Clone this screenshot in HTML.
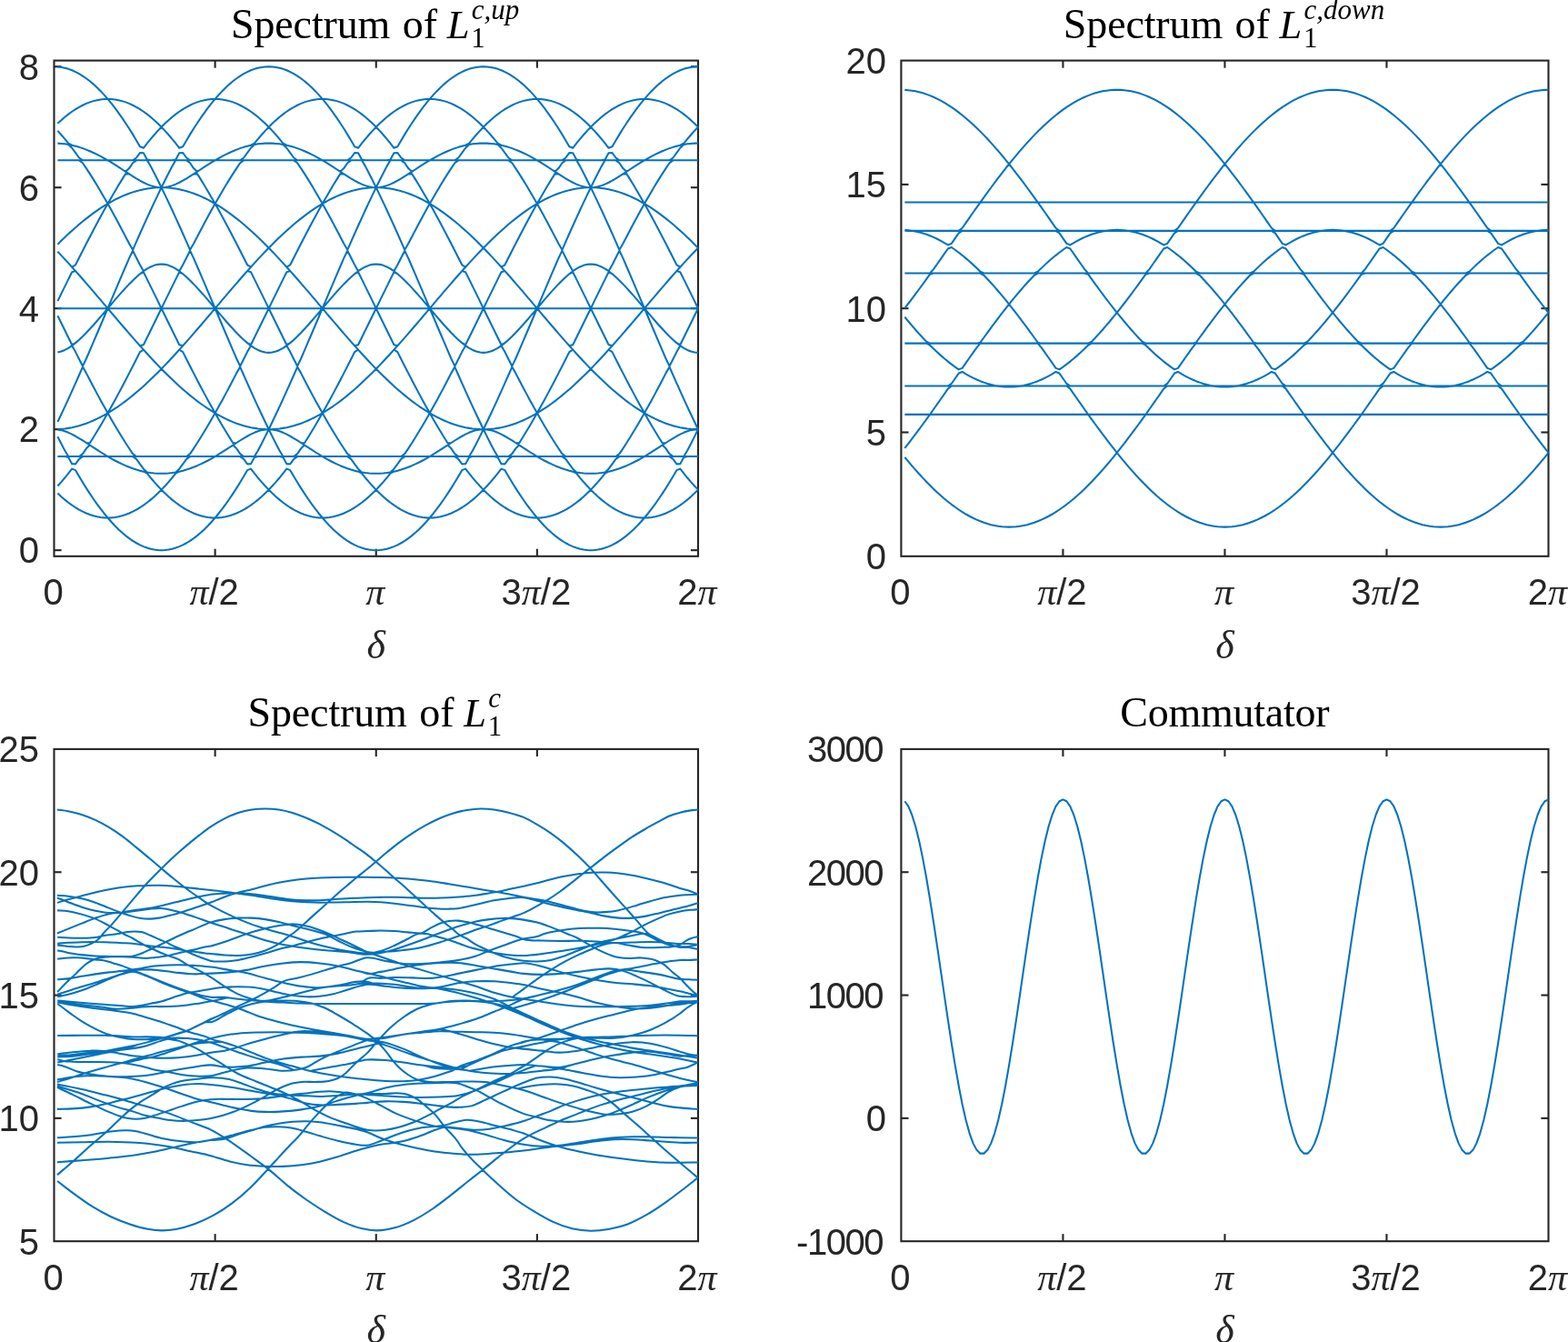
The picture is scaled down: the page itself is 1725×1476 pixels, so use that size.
<!DOCTYPE html>
<html lang="en"><head><meta charset="utf-8"><title>Spectrum</title>
<style>html,body{margin:0;padding:0;background:#fff}svg{display:block}.tk{font-family:"Liberation Sans",Arial,Helvetica,sans-serif;font-size:40px;fill:#262626}.tt{font-family:"Liberation Serif","Times New Roman",serif;fill:#000}.it{font-family:"Liberation Serif","Times New Roman",serif;font-style:italic}</style></head><body>
<svg width="1725" height="1476" viewBox="0 0 1725 1476">
<rect width="1725" height="1476" fill="#fff"/>
<g fill="none" stroke="#262626" stroke-width="2.10" stroke-linecap="square">
<rect x="59.50" y="66.60" width="708.50" height="545.20"/>
</g><g fill="none" stroke="#262626" stroke-width="2.10" stroke-linecap="butt">
<line x1="236.62" y1="611.80" x2="236.62" y2="603.70"/>
<line x1="236.62" y1="66.60" x2="236.62" y2="74.70"/>
<line x1="413.75" y1="611.80" x2="413.75" y2="603.70"/>
<line x1="413.75" y1="66.60" x2="413.75" y2="74.70"/>
<line x1="590.88" y1="611.80" x2="590.88" y2="603.70"/>
<line x1="590.88" y1="66.60" x2="590.88" y2="74.70"/>
<line x1="59.50" y1="605.15" x2="67.60" y2="605.15"/>
<line x1="768.00" y1="605.15" x2="759.90" y2="605.15"/>
<line x1="59.50" y1="472.18" x2="67.60" y2="472.18"/>
<line x1="768.00" y1="472.18" x2="759.90" y2="472.18"/>
<line x1="59.50" y1="339.20" x2="67.60" y2="339.20"/>
<line x1="768.00" y1="339.20" x2="759.90" y2="339.20"/>
<line x1="59.50" y1="206.22" x2="67.60" y2="206.22"/>
<line x1="768.00" y1="206.22" x2="759.90" y2="206.22"/>
<line x1="59.50" y1="73.25" x2="67.60" y2="73.25"/>
<line x1="768.00" y1="73.25" x2="759.90" y2="73.25"/>
</g>
<g fill="none" stroke="#262626" stroke-width="2.10" stroke-linecap="square">
<rect x="991.40" y="66.60" width="712.10" height="545.20"/>
</g><g fill="none" stroke="#262626" stroke-width="2.10" stroke-linecap="butt">
<line x1="1169.42" y1="611.80" x2="1169.42" y2="603.70"/>
<line x1="1169.42" y1="66.60" x2="1169.42" y2="74.70"/>
<line x1="1347.45" y1="611.80" x2="1347.45" y2="603.70"/>
<line x1="1347.45" y1="66.60" x2="1347.45" y2="74.70"/>
<line x1="1525.47" y1="611.80" x2="1525.47" y2="603.70"/>
<line x1="1525.47" y1="66.60" x2="1525.47" y2="74.70"/>
<line x1="991.40" y1="475.50" x2="999.50" y2="475.50"/>
<line x1="1703.50" y1="475.50" x2="1695.40" y2="475.50"/>
<line x1="991.40" y1="339.20" x2="999.50" y2="339.20"/>
<line x1="1703.50" y1="339.20" x2="1695.40" y2="339.20"/>
<line x1="991.40" y1="202.90" x2="999.50" y2="202.90"/>
<line x1="1703.50" y1="202.90" x2="1695.40" y2="202.90"/>
</g>
<g fill="none" stroke="#262626" stroke-width="2.10" stroke-linecap="square">
<rect x="59.50" y="823.90" width="708.50" height="541.30"/>
</g><g fill="none" stroke="#262626" stroke-width="2.10" stroke-linecap="butt">
<line x1="236.62" y1="1365.20" x2="236.62" y2="1357.10"/>
<line x1="236.62" y1="823.90" x2="236.62" y2="832.00"/>
<line x1="413.75" y1="1365.20" x2="413.75" y2="1357.10"/>
<line x1="413.75" y1="823.90" x2="413.75" y2="832.00"/>
<line x1="590.88" y1="1365.20" x2="590.88" y2="1357.10"/>
<line x1="590.88" y1="823.90" x2="590.88" y2="832.00"/>
<line x1="59.50" y1="1229.88" x2="67.60" y2="1229.88"/>
<line x1="768.00" y1="1229.88" x2="759.90" y2="1229.88"/>
<line x1="59.50" y1="1094.55" x2="67.60" y2="1094.55"/>
<line x1="768.00" y1="1094.55" x2="759.90" y2="1094.55"/>
<line x1="59.50" y1="959.23" x2="67.60" y2="959.23"/>
<line x1="768.00" y1="959.23" x2="759.90" y2="959.23"/>
</g>
<g fill="none" stroke="#262626" stroke-width="2.10" stroke-linecap="square">
<rect x="991.40" y="823.90" width="712.10" height="541.30"/>
</g><g fill="none" stroke="#262626" stroke-width="2.10" stroke-linecap="butt">
<line x1="1169.42" y1="1365.20" x2="1169.42" y2="1357.10"/>
<line x1="1169.42" y1="823.90" x2="1169.42" y2="832.00"/>
<line x1="1347.45" y1="1365.20" x2="1347.45" y2="1357.10"/>
<line x1="1347.45" y1="823.90" x2="1347.45" y2="832.00"/>
<line x1="1525.47" y1="1365.20" x2="1525.47" y2="1357.10"/>
<line x1="1525.47" y1="823.90" x2="1525.47" y2="832.00"/>
<line x1="991.40" y1="1229.88" x2="999.50" y2="1229.88"/>
<line x1="1703.50" y1="1229.88" x2="1695.40" y2="1229.88"/>
<line x1="991.40" y1="1094.55" x2="999.50" y2="1094.55"/>
<line x1="1703.50" y1="1094.55" x2="1695.40" y2="1094.55"/>
<line x1="991.40" y1="959.22" x2="999.50" y2="959.22"/>
<line x1="1703.50" y1="959.22" x2="1695.40" y2="959.22"/>
</g>
<path fill="none" stroke="#0072bd" stroke-width="2.05" stroke-linejoin="round" stroke-linecap="butt" d="M63.44 542.56L67.37 546.21L71.31 549.61L75.24 552.75L79.18 555.63L83.12 558.25L87.05 560.60L90.99 562.68L94.92 564.49L98.86 566.02L102.80 567.28L106.73 568.26L110.67 568.96L114.61 569.38L118.54 569.52L122.48 574.02L126.41 578.24L130.35 582.16L134.29 585.79L138.22 589.11L142.16 592.13L146.09 594.85L150.03 597.25L153.97 599.34L157.90 601.11L161.84 602.56L165.77 603.69L169.71 604.50L173.65 604.99L177.58 605.15L181.52 604.99L185.46 604.50L189.39 603.69L193.33 602.56L197.26 601.11L201.20 599.34L205.14 597.25L209.07 594.85L213.01 592.13L216.94 589.11L220.88 585.79L224.82 582.16L228.75 578.24L232.69 574.02L236.62 569.52L240.56 569.38L244.50 568.96L248.43 568.26L252.37 567.28L256.31 566.02L260.24 564.49L264.18 562.68L268.11 560.60L272.05 558.25L275.99 555.63L279.92 552.75L283.86 549.61L287.79 546.21L291.73 542.56L295.67 538.66L299.60 542.56L303.54 546.21L307.48 549.61L311.41 552.75L315.35 555.63L319.28 558.25L323.22 560.60L327.16 562.68L331.09 564.49L335.03 566.02L338.96 567.28L342.90 568.26L346.84 568.96L350.77 569.38L354.71 569.52L358.64 574.02L362.58 578.24L366.52 582.16L370.45 585.79L374.39 589.11L378.32 592.13L382.26 594.85L386.20 597.25L390.13 599.34L394.07 601.11L398.01 602.56L401.94 603.69L405.88 604.50L409.81 604.99L413.75 605.15L417.69 604.99L421.62 604.50L425.56 603.69L429.49 602.56L433.43 601.11L437.37 599.34L441.30 597.25L445.24 594.85L449.18 592.13L453.11 589.11L457.05 585.79L460.98 582.16L464.92 578.24L468.86 574.02L472.79 569.52L476.73 569.38L480.66 568.96L484.60 568.26L488.54 567.28L492.47 566.02L496.41 564.49L500.34 562.68L504.28 560.60L508.22 558.25L512.15 555.63L516.09 552.75L520.03 549.61L523.96 546.21L527.90 542.56L531.83 538.66L535.77 542.56L539.71 546.21L543.64 549.61L547.58 552.75L551.51 555.63L555.45 558.25L559.39 560.60L563.32 562.68L567.26 564.49L571.19 566.02L575.13 567.28L579.07 568.26L583.00 568.96L586.94 569.38L590.88 569.52L594.81 574.02L598.75 578.24L602.68 582.16L606.62 585.79L610.56 589.11L614.49 592.13L618.43 594.85L622.36 597.25L626.30 599.34L630.24 601.11L634.17 602.56L638.11 603.69L642.04 604.50L645.98 604.99L649.92 605.15L653.85 604.99L657.79 604.50L661.73 603.69L665.66 602.56L669.60 601.11L673.53 599.34L677.47 597.25L681.41 594.85L685.34 592.13L689.28 589.11L693.21 585.79L697.15 582.16L701.09 578.24L705.02 574.02L708.96 569.52L712.89 569.38L716.83 568.96L720.77 568.26L724.70 567.28L728.64 566.02L732.58 564.49L736.51 562.68L740.45 560.60L744.38 558.25L748.32 555.63L752.26 552.75L756.19 549.61L760.13 546.21L764.06 542.56L768.00 538.66M63.44 534.52L67.37 530.14L71.31 525.53L75.24 520.70L79.18 515.64L83.12 517.16L87.05 523.95L90.99 530.51L94.92 536.84L98.86 542.93L102.80 548.77L106.73 554.36L110.67 559.68L114.61 564.74L118.54 569.52L122.48 569.38L126.41 568.96L130.35 568.26L134.29 567.28L138.22 566.02L142.16 564.49L146.09 562.68L150.03 560.60L153.97 558.25L157.90 555.63L161.84 552.75L165.77 549.61L169.71 546.21L173.65 542.56L177.58 538.66L181.52 542.56L185.46 546.21L189.39 549.61L193.33 552.75L197.26 555.63L201.20 558.25L205.14 560.60L209.07 562.68L213.01 564.49L216.94 566.02L220.88 567.28L224.82 568.26L228.75 568.96L232.69 569.38L236.62 569.52L240.56 564.74L244.50 559.68L248.43 554.36L252.37 548.77L256.31 542.93L260.24 536.84L264.18 530.51L268.11 523.95L272.05 517.16L275.99 515.64L279.92 520.70L283.86 525.53L287.79 530.14L291.73 534.52L295.67 538.66L299.60 534.52L303.54 530.14L307.48 525.53L311.41 520.70L315.35 515.64L319.28 517.16L323.22 523.95L327.16 530.51L331.09 536.84L335.03 542.93L338.96 548.77L342.90 554.36L346.84 559.68L350.77 564.74L354.71 569.52L358.64 569.38L362.58 568.96L366.52 568.26L370.45 567.28L374.39 566.02L378.32 564.49L382.26 562.68L386.20 560.60L390.13 558.25L394.07 555.63L398.01 552.75L401.94 549.61L405.88 546.21L409.81 542.56L413.75 538.66L417.69 542.56L421.62 546.21L425.56 549.61L429.49 552.75L433.43 555.63L437.37 558.25L441.30 560.60L445.24 562.68L449.18 564.49L453.11 566.02L457.05 567.28L460.98 568.26L464.92 568.96L468.86 569.38L472.79 569.52L476.73 564.74L480.66 559.68L484.60 554.36L488.54 548.77L492.47 542.93L496.41 536.84L500.34 530.51L504.28 523.95L508.22 517.16L512.15 515.64L516.09 520.70L520.03 525.53L523.96 530.14L527.90 534.52L531.83 538.66L535.77 534.52L539.71 530.14L543.64 525.53L547.58 520.70L551.51 515.64L555.45 517.16L559.39 523.95L563.32 530.51L567.26 536.84L571.19 542.93L575.13 548.77L579.07 554.36L583.00 559.68L586.94 564.74L590.88 569.52L594.81 569.38L598.75 568.96L602.68 568.26L606.62 567.28L610.56 566.02L614.49 564.49L618.43 562.68L622.36 560.60L626.30 558.25L630.24 555.63L634.17 552.75L638.11 549.61L642.04 546.21L645.98 542.56L649.92 538.66L653.85 542.56L657.79 546.21L661.73 549.61L665.66 552.75L669.60 555.63L673.53 558.25L677.47 560.60L681.41 562.68L685.34 564.49L689.28 566.02L693.21 567.28L697.15 568.26L701.09 568.96L705.02 569.38L708.96 569.52L712.89 564.74L716.83 559.68L720.77 554.36L724.70 548.77L728.64 542.93L732.58 536.84L736.51 530.51L740.45 523.95L744.38 517.16L748.32 515.64L752.26 520.70L756.19 525.53L760.13 530.14L764.06 534.52L768.00 538.66M63.44 502.06L67.37 502.06L71.31 502.06L75.24 502.94L79.18 510.15L83.12 510.36L87.05 504.88L90.99 502.06L94.92 502.06L98.86 502.06L102.80 502.06L106.73 502.06L110.67 502.06L114.61 502.06L118.54 502.06L122.48 504.33L126.41 506.49L130.35 508.52L134.29 510.42L138.22 512.18L142.16 513.79L146.09 515.25L150.03 516.54L153.97 517.67L157.90 518.64L161.84 520.70L165.77 525.53L169.71 530.14L173.65 534.52L177.58 538.66L181.52 534.52L185.46 530.14L189.39 525.53L193.33 520.70L197.26 518.64L201.20 517.67L205.14 516.54L209.07 515.25L213.01 513.79L216.94 512.18L220.88 510.42L224.82 508.52L228.75 506.49L232.69 504.33L236.62 502.06L240.56 502.06L244.50 502.06L248.43 502.06L252.37 502.06L256.31 502.06L260.24 502.06L264.18 502.06L268.11 504.88L272.05 510.36L275.99 510.15L279.92 502.94L283.86 502.06L287.79 502.06L291.73 502.06L295.67 502.06L299.60 502.06L303.54 502.06L307.48 502.06L311.41 502.94L315.35 510.15L319.28 510.36L323.22 504.88L327.16 502.06L331.09 502.06L335.03 502.06L338.96 502.06L342.90 502.06L346.84 502.06L350.77 502.06L354.71 502.06L358.64 504.33L362.58 506.49L366.52 508.52L370.45 510.42L374.39 512.18L378.32 513.79L382.26 515.25L386.20 516.54L390.13 517.67L394.07 518.64L398.01 520.70L401.94 525.53L405.88 530.14L409.81 534.52L413.75 538.66L417.69 534.52L421.62 530.14L425.56 525.53L429.49 520.70L433.43 518.64L437.37 517.67L441.30 516.54L445.24 515.25L449.18 513.79L453.11 512.18L457.05 510.42L460.98 508.52L464.92 506.49L468.86 504.33L472.79 502.06L476.73 502.06L480.66 502.06L484.60 502.06L488.54 502.06L492.47 502.06L496.41 502.06L500.34 502.06L504.28 504.88L508.22 510.36L512.15 510.15L516.09 502.94L520.03 502.06L523.96 502.06L527.90 502.06L531.83 502.06L535.77 502.06L539.71 502.06L543.64 502.06L547.58 502.94L551.51 510.15L555.45 510.36L559.39 504.88L563.32 502.06L567.26 502.06L571.19 502.06L575.13 502.06L579.07 502.06L583.00 502.06L586.94 502.06L590.88 502.06L594.81 504.33L598.75 506.49L602.68 508.52L606.62 510.42L610.56 512.18L614.49 513.79L618.43 515.25L622.36 516.54L626.30 517.67L630.24 518.64L634.17 520.70L638.11 525.53L642.04 530.14L645.98 534.52L649.92 538.66L653.85 534.52L657.79 530.14L661.73 525.53L665.66 520.70L669.60 518.64L673.53 517.67L677.47 516.54L681.41 515.25L685.34 513.79L689.28 512.18L693.21 510.42L697.15 508.52L701.09 506.49L705.02 504.33L708.96 502.06L712.89 502.06L716.83 502.06L720.77 502.06L724.70 502.06L728.64 502.06L732.58 502.06L736.51 502.06L740.45 504.88L744.38 510.36L748.32 510.15L752.26 502.94L756.19 502.06L760.13 502.06L764.06 502.06L768.00 502.06M63.44 502.06L67.37 502.06L71.31 502.06L75.24 502.06L79.18 502.06L83.12 502.06L87.05 502.06L90.99 502.06L94.92 502.06L98.86 502.06L102.80 502.06L106.73 502.06L110.67 502.06L114.61 502.06L118.54 502.06L122.48 504.33L126.41 506.49L130.35 508.52L134.29 510.42L138.22 512.18L142.16 513.79L146.09 515.25L150.03 516.54L153.97 517.67L157.90 518.64L161.84 519.43L165.77 520.05L169.71 520.49L173.65 520.76L177.58 520.85L181.52 520.76L185.46 520.49L189.39 520.05L193.33 519.43L197.26 518.64L201.20 517.67L205.14 516.54L209.07 515.25L213.01 513.79L216.94 512.18L220.88 510.42L224.82 508.52L228.75 506.49L232.69 504.33L236.62 502.06L240.56 502.06L244.50 502.06L248.43 502.06L252.37 502.06L256.31 502.06L260.24 502.06L264.18 502.06L268.11 502.06L272.05 502.06L275.99 502.06L279.92 502.06L283.86 502.06L287.79 502.06L291.73 502.06L295.67 502.06L299.60 502.06L303.54 502.06L307.48 502.06L311.41 502.06L315.35 502.06L319.28 502.06L323.22 502.06L327.16 502.06L331.09 502.06L335.03 502.06L338.96 502.06L342.90 502.06L346.84 502.06L350.77 502.06L354.71 502.06L358.64 504.33L362.58 506.49L366.52 508.52L370.45 510.42L374.39 512.18L378.32 513.79L382.26 515.25L386.20 516.54L390.13 517.67L394.07 518.64L398.01 519.43L401.94 520.05L405.88 520.49L409.81 520.76L413.75 520.85L417.69 520.76L421.62 520.49L425.56 520.05L429.49 519.43L433.43 518.64L437.37 517.67L441.30 516.54L445.24 515.25L449.18 513.79L453.11 512.18L457.05 510.42L460.98 508.52L464.92 506.49L468.86 504.33L472.79 502.06L476.73 502.06L480.66 502.06L484.60 502.06L488.54 502.06L492.47 502.06L496.41 502.06L500.34 502.06L504.28 502.06L508.22 502.06L512.15 502.06L516.09 502.06L520.03 502.06L523.96 502.06L527.90 502.06L531.83 502.06L535.77 502.06L539.71 502.06L543.64 502.06L547.58 502.06L551.51 502.06L555.45 502.06L559.39 502.06L563.32 502.06L567.26 502.06L571.19 502.06L575.13 502.06L579.07 502.06L583.00 502.06L586.94 502.06L590.88 502.06L594.81 504.33L598.75 506.49L602.68 508.52L606.62 510.42L610.56 512.18L614.49 513.79L618.43 515.25L622.36 516.54L626.30 517.67L630.24 518.64L634.17 519.43L638.11 520.05L642.04 520.49L645.98 520.76L649.92 520.85L653.85 520.76L657.79 520.49L661.73 520.05L665.66 519.43L669.60 518.64L673.53 517.67L677.47 516.54L681.41 515.25L685.34 513.79L689.28 512.18L693.21 510.42L697.15 508.52L701.09 506.49L705.02 504.33L708.96 502.06L712.89 502.06L716.83 502.06L720.77 502.06L724.70 502.06L728.64 502.06L732.58 502.06L736.51 502.06L740.45 502.06L744.38 502.06L748.32 502.06L752.26 502.06L756.19 502.06L760.13 502.06L764.06 502.06L768.00 502.06M63.44 480.13L67.37 487.92L71.31 495.52L75.24 502.06L79.18 502.06L83.12 502.06L87.05 502.06L90.99 499.19L94.92 493.31L98.86 489.58L102.80 492.16L106.73 494.72L110.67 497.24L114.61 499.69L118.54 502.06L122.48 502.06L126.41 502.06L130.35 502.06L134.29 502.06L138.22 502.06L142.16 502.06L146.09 502.06L150.03 504.88L153.97 510.36L157.90 515.64L161.84 519.43L165.77 520.05L169.71 520.49L173.65 520.76L177.58 520.85L181.52 520.76L185.46 520.49L189.39 520.05L193.33 519.43L197.26 515.64L201.20 510.36L205.14 504.88L209.07 502.06L213.01 502.06L216.94 502.06L220.88 502.06L224.82 502.06L228.75 502.06L232.69 502.06L236.62 502.06L240.56 499.69L244.50 497.24L248.43 494.72L252.37 492.16L256.31 489.58L260.24 493.31L264.18 499.19L268.11 502.06L272.05 502.06L275.99 502.06L279.92 502.06L283.86 495.52L287.79 487.92L291.73 480.13L295.67 472.18L299.60 480.13L303.54 487.92L307.48 495.52L311.41 502.06L315.35 502.06L319.28 502.06L323.22 502.06L327.16 499.19L331.09 493.31L335.03 489.58L338.96 492.16L342.90 494.72L346.84 497.24L350.77 499.69L354.71 502.06L358.64 502.06L362.58 502.06L366.52 502.06L370.45 502.06L374.39 502.06L378.32 502.06L382.26 502.06L386.20 504.88L390.13 510.36L394.07 515.64L398.01 519.43L401.94 520.05L405.88 520.49L409.81 520.76L413.75 520.85L417.69 520.76L421.62 520.49L425.56 520.05L429.49 519.43L433.43 515.64L437.37 510.36L441.30 504.88L445.24 502.06L449.18 502.06L453.11 502.06L457.05 502.06L460.98 502.06L464.92 502.06L468.86 502.06L472.79 502.06L476.73 499.69L480.66 497.24L484.60 494.72L488.54 492.16L492.47 489.58L496.41 493.31L500.34 499.19L504.28 502.06L508.22 502.06L512.15 502.06L516.09 502.06L520.03 495.52L523.96 487.92L527.90 480.13L531.83 472.18L535.77 480.13L539.71 487.92L543.64 495.52L547.58 502.06L551.51 502.06L555.45 502.06L559.39 502.06L563.32 499.19L567.26 493.31L571.19 489.58L575.13 492.16L579.07 494.72L583.00 497.24L586.94 499.69L590.88 502.06L594.81 502.06L598.75 502.06L602.68 502.06L606.62 502.06L610.56 502.06L614.49 502.06L618.43 502.06L622.36 504.88L626.30 510.36L630.24 515.64L634.17 519.43L638.11 520.05L642.04 520.49L645.98 520.76L649.92 520.85L653.85 520.76L657.79 520.49L661.73 520.05L665.66 519.43L669.60 515.64L673.53 510.36L677.47 504.88L681.41 502.06L685.34 502.06L689.28 502.06L693.21 502.06L697.15 502.06L701.09 502.06L705.02 502.06L708.96 502.06L712.89 499.69L716.83 497.24L720.77 494.72L724.70 492.16L728.64 489.58L732.58 493.31L736.51 499.19L740.45 502.06L744.38 502.06L748.32 502.06L752.26 502.06L756.19 495.52L760.13 487.92L764.06 480.13L768.00 472.18M63.44 472.42L67.37 473.13L71.31 474.28L75.24 475.81L79.18 477.66L83.12 479.76L87.05 482.06L90.99 484.49L94.92 487.01L98.86 489.58L102.80 492.16L106.73 494.72L110.67 497.24L114.61 499.69L118.54 502.06L122.48 502.06L126.41 502.06L130.35 502.06L134.29 502.06L138.22 502.06L142.16 502.06L146.09 502.06L150.03 502.06L153.97 502.06L157.90 502.06L161.84 502.06L165.77 502.06L169.71 502.06L173.65 502.06L177.58 502.06L181.52 502.06L185.46 502.06L189.39 502.06L193.33 502.06L197.26 502.06L201.20 502.06L205.14 502.06L209.07 502.06L213.01 502.06L216.94 502.06L220.88 502.06L224.82 502.06L228.75 502.06L232.69 502.06L236.62 502.06L240.56 499.69L244.50 497.24L248.43 494.72L252.37 492.16L256.31 489.58L260.24 487.01L264.18 484.49L268.11 482.06L272.05 479.76L275.99 477.66L279.92 475.81L283.86 474.28L287.79 473.13L291.73 472.42L295.67 472.18L299.60 472.42L303.54 473.13L307.48 474.28L311.41 475.81L315.35 477.66L319.28 479.76L323.22 482.06L327.16 484.49L331.09 487.01L335.03 489.58L338.96 492.16L342.90 494.72L346.84 497.24L350.77 499.69L354.71 502.06L358.64 502.06L362.58 502.06L366.52 502.06L370.45 502.06L374.39 502.06L378.32 502.06L382.26 502.06L386.20 502.06L390.13 502.06L394.07 502.06L398.01 502.06L401.94 502.06L405.88 502.06L409.81 502.06L413.75 502.06L417.69 502.06L421.62 502.06L425.56 502.06L429.49 502.06L433.43 502.06L437.37 502.06L441.30 502.06L445.24 502.06L449.18 502.06L453.11 502.06L457.05 502.06L460.98 502.06L464.92 502.06L468.86 502.06L472.79 502.06L476.73 499.69L480.66 497.24L484.60 494.72L488.54 492.16L492.47 489.58L496.41 487.01L500.34 484.49L504.28 482.06L508.22 479.76L512.15 477.66L516.09 475.81L520.03 474.28L523.96 473.13L527.90 472.42L531.83 472.18L535.77 472.42L539.71 473.13L543.64 474.28L547.58 475.81L551.51 477.66L555.45 479.76L559.39 482.06L563.32 484.49L567.26 487.01L571.19 489.58L575.13 492.16L579.07 494.72L583.00 497.24L586.94 499.69L590.88 502.06L594.81 502.06L598.75 502.06L602.68 502.06L606.62 502.06L610.56 502.06L614.49 502.06L618.43 502.06L622.36 502.06L626.30 502.06L630.24 502.06L634.17 502.06L638.11 502.06L642.04 502.06L645.98 502.06L649.92 502.06L653.85 502.06L657.79 502.06L661.73 502.06L665.66 502.06L669.60 502.06L673.53 502.06L677.47 502.06L681.41 502.06L685.34 502.06L689.28 502.06L693.21 502.06L697.15 502.06L701.09 502.06L705.02 502.06L708.96 502.06L712.89 499.69L716.83 497.24L720.77 494.72L724.70 492.16L728.64 489.58L732.58 487.01L736.51 484.49L740.45 482.06L744.38 479.76L748.32 477.66L752.26 475.81L756.19 474.28L760.13 473.13L764.06 472.42L768.00 472.18M63.44 472.42L67.37 473.13L71.31 474.28L75.24 475.81L79.18 477.66L83.12 479.76L87.05 482.06L90.99 484.49L94.92 487.01L98.86 487.25L102.80 481.00L106.73 474.58L110.67 467.99L114.61 461.25L118.54 454.36L122.48 461.25L126.41 467.99L130.35 474.58L134.29 481.00L138.22 487.25L142.16 493.31L146.09 499.19L150.03 502.06L153.97 502.06L157.90 502.06L161.84 502.06L165.77 502.06L169.71 502.06L173.65 502.06L177.58 502.06L181.52 502.06L185.46 502.06L189.39 502.06L193.33 502.06L197.26 502.06L201.20 502.06L205.14 502.06L209.07 499.19L213.01 493.31L216.94 487.25L220.88 481.00L224.82 474.58L228.75 467.99L232.69 461.25L236.62 454.36L240.56 461.25L244.50 467.99L248.43 474.58L252.37 481.00L256.31 487.25L260.24 487.01L264.18 484.49L268.11 482.06L272.05 479.76L275.99 477.66L279.92 475.81L283.86 474.28L287.79 473.13L291.73 472.42L295.67 472.18L299.60 472.42L303.54 473.13L307.48 474.28L311.41 475.81L315.35 477.66L319.28 479.76L323.22 482.06L327.16 484.49L331.09 487.01L335.03 487.25L338.96 481.00L342.90 474.58L346.84 467.99L350.77 461.25L354.71 454.36L358.64 461.25L362.58 467.99L366.52 474.58L370.45 481.00L374.39 487.25L378.32 493.31L382.26 499.19L386.20 502.06L390.13 502.06L394.07 502.06L398.01 502.06L401.94 502.06L405.88 502.06L409.81 502.06L413.75 502.06L417.69 502.06L421.62 502.06L425.56 502.06L429.49 502.06L433.43 502.06L437.37 502.06L441.30 502.06L445.24 499.19L449.18 493.31L453.11 487.25L457.05 481.00L460.98 474.58L464.92 467.99L468.86 461.25L472.79 454.36L476.73 461.25L480.66 467.99L484.60 474.58L488.54 481.00L492.47 487.25L496.41 487.01L500.34 484.49L504.28 482.06L508.22 479.76L512.15 477.66L516.09 475.81L520.03 474.28L523.96 473.13L527.90 472.42L531.83 472.18L535.77 472.42L539.71 473.13L543.64 474.28L547.58 475.81L551.51 477.66L555.45 479.76L559.39 482.06L563.32 484.49L567.26 487.01L571.19 487.25L575.13 481.00L579.07 474.58L583.00 467.99L586.94 461.25L590.88 454.36L594.81 461.25L598.75 467.99L602.68 474.58L606.62 481.00L610.56 487.25L614.49 493.31L618.43 499.19L622.36 502.06L626.30 502.06L630.24 502.06L634.17 502.06L638.11 502.06L642.04 502.06L645.98 502.06L649.92 502.06L653.85 502.06L657.79 502.06L661.73 502.06L665.66 502.06L669.60 502.06L673.53 502.06L677.47 502.06L681.41 499.19L685.34 493.31L689.28 487.25L693.21 481.00L697.15 474.58L701.09 467.99L705.02 461.25L708.96 454.36L712.89 461.25L716.83 467.99L720.77 474.58L724.70 481.00L728.64 487.25L732.58 487.01L736.51 484.49L740.45 482.06L744.38 479.76L748.32 477.66L752.26 475.81L756.19 474.28L760.13 473.13L764.06 472.42L768.00 472.18M63.44 472.09L67.37 471.85L71.31 471.45L75.24 470.88L79.18 470.16L83.12 469.27L87.05 468.23L90.99 467.02L94.92 465.67L98.86 464.16L102.80 462.49L106.73 460.68L110.67 458.72L114.61 456.61L118.54 454.36L122.48 451.97L126.41 449.44L130.35 446.78L134.29 443.99L138.22 441.07L142.16 438.02L146.09 434.85L150.03 431.57L153.97 428.18L157.90 424.68L161.84 421.07L165.77 417.36L169.71 413.56L173.65 409.67L177.58 405.69L181.52 409.67L185.46 413.56L189.39 417.36L193.33 421.07L197.26 424.68L201.20 428.18L205.14 431.57L209.07 434.85L213.01 438.02L216.94 441.07L220.88 443.99L224.82 446.78L228.75 449.44L232.69 451.97L236.62 454.36L240.56 456.61L244.50 458.72L248.43 460.68L252.37 462.49L256.31 464.16L260.24 465.67L264.18 467.02L268.11 468.23L272.05 469.27L275.99 470.16L279.92 470.88L283.86 471.45L287.79 471.85L291.73 472.09L295.67 472.18L299.60 472.09L303.54 471.85L307.48 471.45L311.41 470.88L315.35 470.16L319.28 469.27L323.22 468.23L327.16 467.02L331.09 465.67L335.03 464.16L338.96 462.49L342.90 460.68L346.84 458.72L350.77 456.61L354.71 454.36L358.64 451.97L362.58 449.44L366.52 446.78L370.45 443.99L374.39 441.07L378.32 438.02L382.26 434.85L386.20 431.57L390.13 428.18L394.07 424.68L398.01 421.07L401.94 417.36L405.88 413.56L409.81 409.67L413.75 405.69L417.69 409.67L421.62 413.56L425.56 417.36L429.49 421.07L433.43 424.68L437.37 428.18L441.30 431.57L445.24 434.85L449.18 438.02L453.11 441.07L457.05 443.99L460.98 446.78L464.92 449.44L468.86 451.97L472.79 454.36L476.73 456.61L480.66 458.72L484.60 460.68L488.54 462.49L492.47 464.16L496.41 465.67L500.34 467.02L504.28 468.23L508.22 469.27L512.15 470.16L516.09 470.88L520.03 471.45L523.96 471.85L527.90 472.09L531.83 472.18L535.77 472.09L539.71 471.85L543.64 471.45L547.58 470.88L551.51 470.16L555.45 469.27L559.39 468.23L563.32 467.02L567.26 465.67L571.19 464.16L575.13 462.49L579.07 460.68L583.00 458.72L586.94 456.61L590.88 454.36L594.81 451.97L598.75 449.44L602.68 446.78L606.62 443.99L610.56 441.07L614.49 438.02L618.43 434.85L622.36 431.57L626.30 428.18L630.24 424.68L634.17 421.07L638.11 417.36L642.04 413.56L645.98 409.67L649.92 405.69L653.85 409.67L657.79 413.56L661.73 417.36L665.66 421.07L669.60 424.68L673.53 428.18L677.47 431.57L681.41 434.85L685.34 438.02L689.28 441.07L693.21 443.99L697.15 446.78L701.09 449.44L705.02 451.97L708.96 454.36L712.89 456.61L716.83 458.72L720.77 460.68L724.70 462.49L728.64 464.16L732.58 465.67L736.51 467.02L740.45 468.23L744.38 469.27L748.32 470.16L752.26 470.88L756.19 471.45L760.13 471.85L764.06 472.09L768.00 472.18M63.44 472.09L67.37 471.85L71.31 471.45L75.24 470.88L79.18 470.16L83.12 469.27L87.05 468.23L90.99 467.02L94.92 465.67L98.86 464.16L102.80 462.49L106.73 460.68L110.67 458.72L114.61 456.61L118.54 454.36L122.48 451.97L126.41 449.44L130.35 446.78L134.29 443.99L138.22 441.07L142.16 438.02L146.09 434.85L150.03 431.57L153.97 428.18L157.90 424.68L161.84 421.07L165.77 417.36L169.71 413.56L173.65 409.67L177.58 405.69L181.52 409.67L185.46 413.56L189.39 417.36L193.33 421.07L197.26 424.68L201.20 428.18L205.14 431.57L209.07 434.85L213.01 438.02L216.94 441.07L220.88 443.99L224.82 446.78L228.75 449.44L232.69 451.97L236.62 454.36L240.56 456.61L244.50 458.72L248.43 460.68L252.37 462.49L256.31 464.16L260.24 465.67L264.18 467.02L268.11 468.23L272.05 469.27L275.99 470.16L279.92 470.88L283.86 471.45L287.79 471.85L291.73 472.09L295.67 472.18L299.60 472.09L303.54 471.85L307.48 471.45L311.41 470.88L315.35 470.16L319.28 469.27L323.22 468.23L327.16 467.02L331.09 465.67L335.03 464.16L338.96 462.49L342.90 460.68L346.84 458.72L350.77 456.61L354.71 454.36L358.64 451.97L362.58 449.44L366.52 446.78L370.45 443.99L374.39 441.07L378.32 438.02L382.26 434.85L386.20 431.57L390.13 428.18L394.07 424.68L398.01 421.07L401.94 417.36L405.88 413.56L409.81 409.67L413.75 405.69L417.69 409.67L421.62 413.56L425.56 417.36L429.49 421.07L433.43 424.68L437.37 428.18L441.30 431.57L445.24 434.85L449.18 438.02L453.11 441.07L457.05 443.99L460.98 446.78L464.92 449.44L468.86 451.97L472.79 454.36L476.73 456.61L480.66 458.72L484.60 460.68L488.54 462.49L492.47 464.16L496.41 465.67L500.34 467.02L504.28 468.23L508.22 469.27L512.15 470.16L516.09 470.88L520.03 471.45L523.96 471.85L527.90 472.09L531.83 472.18L535.77 472.09L539.71 471.85L543.64 471.45L547.58 470.88L551.51 470.16L555.45 469.27L559.39 468.23L563.32 467.02L567.26 465.67L571.19 464.16L575.13 462.49L579.07 460.68L583.00 458.72L586.94 456.61L590.88 454.36L594.81 451.97L598.75 449.44L602.68 446.78L606.62 443.99L610.56 441.07L614.49 438.02L618.43 434.85L622.36 431.57L626.30 428.18L630.24 424.68L634.17 421.07L638.11 417.36L642.04 413.56L645.98 409.67L649.92 405.69L653.85 409.67L657.79 413.56L661.73 417.36L665.66 421.07L669.60 424.68L673.53 428.18L677.47 431.57L681.41 434.85L685.34 438.02L689.28 441.07L693.21 443.99L697.15 446.78L701.09 449.44L705.02 451.97L708.96 454.36L712.89 456.61L716.83 458.72L720.77 460.68L724.70 462.49L728.64 464.16L732.58 465.67L736.51 467.02L740.45 468.23L744.38 469.27L748.32 470.16L752.26 470.88L756.19 471.45L760.13 471.85L764.06 472.09L768.00 472.18M63.44 464.06L67.37 455.79L71.31 447.37L75.24 438.83L79.18 430.16L83.12 421.38L87.05 412.51L90.99 403.54L94.92 410.37L98.86 417.97L102.80 425.48L106.73 432.88L110.67 440.17L114.61 447.33L118.54 454.36L122.48 447.33L126.41 440.17L130.35 432.88L134.29 425.48L138.22 417.97L142.16 410.37L146.09 402.68L150.03 394.92L153.97 387.09L157.90 384.68L161.84 389.01L165.77 393.29L169.71 397.49L173.65 401.63L177.58 405.69L181.52 401.63L185.46 397.49L189.39 393.29L193.33 389.01L197.26 384.68L201.20 387.09L205.14 394.92L209.07 402.68L213.01 410.37L216.94 417.97L220.88 425.48L224.82 432.88L228.75 440.17L232.69 447.33L236.62 454.36L240.56 447.33L244.50 440.17L248.43 432.88L252.37 425.48L256.31 417.97L260.24 410.37L264.18 403.54L268.11 412.51L272.05 421.38L275.99 430.16L279.92 438.83L283.86 447.37L287.79 455.79L291.73 464.06L295.67 472.18L299.60 464.06L303.54 455.79L307.48 447.37L311.41 438.83L315.35 430.16L319.28 421.38L323.22 412.51L327.16 403.54L331.09 410.37L335.03 417.97L338.96 425.48L342.90 432.88L346.84 440.17L350.77 447.33L354.71 454.36L358.64 447.33L362.58 440.17L366.52 432.88L370.45 425.48L374.39 417.97L378.32 410.37L382.26 402.68L386.20 394.92L390.13 387.09L394.07 384.68L398.01 389.01L401.94 393.29L405.88 397.49L409.81 401.63L413.75 405.69L417.69 401.63L421.62 397.49L425.56 393.29L429.49 389.01L433.43 384.68L437.37 387.09L441.30 394.92L445.24 402.68L449.18 410.37L453.11 417.97L457.05 425.48L460.98 432.88L464.92 440.17L468.86 447.33L472.79 454.36L476.73 447.33L480.66 440.17L484.60 432.88L488.54 425.48L492.47 417.97L496.41 410.37L500.34 403.54L504.28 412.51L508.22 421.38L512.15 430.16L516.09 438.83L520.03 447.37L523.96 455.79L527.90 464.06L531.83 472.18L535.77 464.06L539.71 455.79L543.64 447.37L547.58 438.83L551.51 430.16L555.45 421.38L559.39 412.51L563.32 403.54L567.26 410.37L571.19 417.97L575.13 425.48L579.07 432.88L583.00 440.17L586.94 447.33L590.88 454.36L594.81 447.33L598.75 440.17L602.68 432.88L606.62 425.48L610.56 417.97L614.49 410.37L618.43 402.68L622.36 394.92L626.30 387.09L630.24 384.68L634.17 389.01L638.11 393.29L642.04 397.49L645.98 401.63L649.92 405.69L653.85 401.63L657.79 397.49L661.73 393.29L665.66 389.01L669.60 384.68L673.53 387.09L677.47 394.92L681.41 402.68L685.34 410.37L689.28 417.97L693.21 425.48L697.15 432.88L701.09 440.17L705.02 447.33L708.96 454.36L712.89 447.33L716.83 440.17L720.77 432.88L724.70 425.48L728.64 417.97L732.58 410.37L736.51 403.54L740.45 412.51L744.38 421.38L748.32 430.16L752.26 438.83L756.19 447.37L760.13 455.79L764.06 464.06L768.00 472.18M63.44 387.54L67.37 386.56L71.31 384.97L75.24 382.82L79.18 380.18L83.12 387.09L87.05 394.92L90.99 402.68L94.92 394.49L98.86 385.38L102.80 376.21L106.73 367.00L110.67 357.75L114.61 348.48L118.54 339.20L122.48 343.84L126.41 348.48L130.35 353.10L134.29 357.71L138.22 362.29L142.16 366.85L146.09 371.37L150.03 375.85L153.97 380.29L157.90 384.68L161.84 389.01L165.77 393.29L169.71 397.49L173.65 401.63L177.58 405.69L181.52 401.63L185.46 397.49L189.39 393.29L193.33 389.01L197.26 384.68L201.20 380.29L205.14 375.85L209.07 371.37L213.01 366.85L216.94 362.29L220.88 357.71L224.82 353.10L228.75 348.48L232.69 343.84L236.62 339.20L240.56 348.48L244.50 357.75L248.43 367.00L252.37 376.21L256.31 385.38L260.24 394.49L264.18 402.68L268.11 394.92L272.05 387.09L275.99 380.18L279.92 382.82L283.86 384.97L287.79 386.56L291.73 387.54L295.67 387.87L299.60 387.54L303.54 386.56L307.48 384.97L311.41 382.82L315.35 380.18L319.28 387.09L323.22 394.92L327.16 402.68L331.09 394.49L335.03 385.38L338.96 376.21L342.90 367.00L346.84 357.75L350.77 348.48L354.71 339.20L358.64 343.84L362.58 348.48L366.52 353.10L370.45 357.71L374.39 362.29L378.32 366.85L382.26 371.37L386.20 375.85L390.13 380.29L394.07 384.68L398.01 389.01L401.94 393.29L405.88 397.49L409.81 401.63L413.75 405.69L417.69 401.63L421.62 397.49L425.56 393.29L429.49 389.01L433.43 384.68L437.37 380.29L441.30 375.85L445.24 371.37L449.18 366.85L453.11 362.29L457.05 357.71L460.98 353.10L464.92 348.48L468.86 343.84L472.79 339.20L476.73 348.48L480.66 357.75L484.60 367.00L488.54 376.21L492.47 385.38L496.41 394.49L500.34 402.68L504.28 394.92L508.22 387.09L512.15 380.18L516.09 382.82L520.03 384.97L523.96 386.56L527.90 387.54L531.83 387.87L535.77 387.54L539.71 386.56L543.64 384.97L547.58 382.82L551.51 380.18L555.45 387.09L559.39 394.92L563.32 402.68L567.26 394.49L571.19 385.38L575.13 376.21L579.07 367.00L583.00 357.75L586.94 348.48L590.88 339.20L594.81 343.84L598.75 348.48L602.68 353.10L606.62 357.71L610.56 362.29L614.49 366.85L618.43 371.37L622.36 375.85L626.30 380.29L630.24 384.68L634.17 389.01L638.11 393.29L642.04 397.49L645.98 401.63L649.92 405.69L653.85 401.63L657.79 397.49L661.73 393.29L665.66 389.01L669.60 384.68L673.53 380.29L677.47 375.85L681.41 371.37L685.34 366.85L689.28 362.29L693.21 357.71L697.15 353.10L701.09 348.48L705.02 343.84L708.96 339.20L712.89 348.48L716.83 357.75L720.77 367.00L724.70 376.21L728.64 385.38L732.58 394.49L736.51 402.68L740.45 394.92L744.38 387.09L748.32 380.18L752.26 382.82L756.19 384.97L760.13 386.56L764.06 387.54L768.00 387.87M63.44 387.54L67.37 386.56L71.31 384.97L75.24 382.82L79.18 380.18L83.12 377.11L87.05 373.69L90.99 369.96L94.92 365.98L98.86 361.80L102.80 357.46L106.73 353.00L110.67 348.45L114.61 343.84L118.54 339.20L122.48 343.84L126.41 348.48L130.35 353.10L134.29 357.71L138.22 362.29L142.16 366.85L146.09 371.37L150.03 375.85L153.97 380.29L157.90 379.19L161.84 371.25L165.77 363.28L169.71 355.27L173.65 347.24L177.58 339.20L181.52 347.24L185.46 355.27L189.39 363.28L193.33 371.25L197.26 379.19L201.20 380.29L205.14 375.85L209.07 371.37L213.01 366.85L216.94 362.29L220.88 357.71L224.82 353.10L228.75 348.48L232.69 343.84L236.62 339.20L240.56 343.84L244.50 348.45L248.43 353.00L252.37 357.46L256.31 361.80L260.24 365.98L264.18 369.96L268.11 373.69L272.05 377.11L275.99 380.18L279.92 382.82L283.86 384.97L287.79 386.56L291.73 387.54L295.67 387.87L299.60 387.54L303.54 386.56L307.48 384.97L311.41 382.82L315.35 380.18L319.28 377.11L323.22 373.69L327.16 369.96L331.09 365.98L335.03 361.80L338.96 357.46L342.90 353.00L346.84 348.45L350.77 343.84L354.71 339.20L358.64 343.84L362.58 348.48L366.52 353.10L370.45 357.71L374.39 362.29L378.32 366.85L382.26 371.37L386.20 375.85L390.13 380.29L394.07 379.19L398.01 371.25L401.94 363.28L405.88 355.27L409.81 347.24L413.75 339.20L417.69 347.24L421.62 355.27L425.56 363.28L429.49 371.25L433.43 379.19L437.37 380.29L441.30 375.85L445.24 371.37L449.18 366.85L453.11 362.29L457.05 357.71L460.98 353.10L464.92 348.48L468.86 343.84L472.79 339.20L476.73 343.84L480.66 348.45L484.60 353.00L488.54 357.46L492.47 361.80L496.41 365.98L500.34 369.96L504.28 373.69L508.22 377.11L512.15 380.18L516.09 382.82L520.03 384.97L523.96 386.56L527.90 387.54L531.83 387.87L535.77 387.54L539.71 386.56L543.64 384.97L547.58 382.82L551.51 380.18L555.45 377.11L559.39 373.69L563.32 369.96L567.26 365.98L571.19 361.80L575.13 357.46L579.07 353.00L583.00 348.45L586.94 343.84L590.88 339.20L594.81 343.84L598.75 348.48L602.68 353.10L606.62 357.71L610.56 362.29L614.49 366.85L618.43 371.37L622.36 375.85L626.30 380.29L630.24 379.19L634.17 371.25L638.11 363.28L642.04 355.27L645.98 347.24L649.92 339.20L653.85 347.24L657.79 355.27L661.73 363.28L665.66 371.25L669.60 379.19L673.53 380.29L677.47 375.85L681.41 371.37L685.34 366.85L689.28 362.29L693.21 357.71L697.15 353.10L701.09 348.48L705.02 343.84L708.96 339.20L712.89 343.84L716.83 348.45L720.77 353.00L724.70 357.46L728.64 361.80L732.58 365.98L736.51 369.96L740.45 373.69L744.38 377.11L748.32 380.18L752.26 382.82L756.19 384.97L760.13 386.56L764.06 387.54L768.00 387.87M63.44 347.24L67.37 355.27L71.31 363.28L75.24 371.25L79.18 379.19L83.12 377.11L87.05 373.69L90.99 369.96L94.92 365.98L98.86 361.80L102.80 357.46L106.73 353.00L110.67 348.45L114.61 343.84L118.54 339.20L122.48 339.20L126.41 339.20L130.35 339.20L134.29 339.20L138.22 339.20L142.16 339.20L146.09 339.20L150.03 339.20L153.97 339.20L157.90 339.20L161.84 339.20L165.77 339.20L169.71 339.20L173.65 339.20L177.58 339.20L181.52 339.20L185.46 339.20L189.39 339.20L193.33 339.20L197.26 339.20L201.20 339.20L205.14 339.20L209.07 339.20L213.01 339.20L216.94 339.20L220.88 339.20L224.82 339.20L228.75 339.20L232.69 339.20L236.62 339.20L240.56 343.84L244.50 348.45L248.43 353.00L252.37 357.46L256.31 361.80L260.24 365.98L264.18 369.96L268.11 373.69L272.05 377.11L275.99 379.19L279.92 371.25L283.86 363.28L287.79 355.27L291.73 347.24L295.67 339.20L299.60 347.24L303.54 355.27L307.48 363.28L311.41 371.25L315.35 379.19L319.28 377.11L323.22 373.69L327.16 369.96L331.09 365.98L335.03 361.80L338.96 357.46L342.90 353.00L346.84 348.45L350.77 343.84L354.71 339.20L358.64 339.20L362.58 339.20L366.52 339.20L370.45 339.20L374.39 339.20L378.32 339.20L382.26 339.20L386.20 339.20L390.13 339.20L394.07 339.20L398.01 339.20L401.94 339.20L405.88 339.20L409.81 339.20L413.75 339.20L417.69 339.20L421.62 339.20L425.56 339.20L429.49 339.20L433.43 339.20L437.37 339.20L441.30 339.20L445.24 339.20L449.18 339.20L453.11 339.20L457.05 339.20L460.98 339.20L464.92 339.20L468.86 339.20L472.79 339.20L476.73 343.84L480.66 348.45L484.60 353.00L488.54 357.46L492.47 361.80L496.41 365.98L500.34 369.96L504.28 373.69L508.22 377.11L512.15 379.19L516.09 371.25L520.03 363.28L523.96 355.27L527.90 347.24L531.83 339.20L535.77 347.24L539.71 355.27L543.64 363.28L547.58 371.25L551.51 379.19L555.45 377.11L559.39 373.69L563.32 369.96L567.26 365.98L571.19 361.80L575.13 357.46L579.07 353.00L583.00 348.45L586.94 343.84L590.88 339.20L594.81 339.20L598.75 339.20L602.68 339.20L606.62 339.20L610.56 339.20L614.49 339.20L618.43 339.20L622.36 339.20L626.30 339.20L630.24 339.20L634.17 339.20L638.11 339.20L642.04 339.20L645.98 339.20L649.92 339.20L653.85 339.20L657.79 339.20L661.73 339.20L665.66 339.20L669.60 339.20L673.53 339.20L677.47 339.20L681.41 339.20L685.34 339.20L689.28 339.20L693.21 339.20L697.15 339.20L701.09 339.20L705.02 339.20L708.96 339.20L712.89 343.84L716.83 348.45L720.77 353.00L724.70 357.46L728.64 361.80L732.58 365.98L736.51 369.96L740.45 373.69L744.38 377.11L748.32 379.19L752.26 371.25L756.19 363.28L760.13 355.27L764.06 347.24L768.00 339.20M63.44 339.20L67.37 339.20L71.31 339.20L75.24 339.20L79.18 339.20L83.12 339.20L87.05 339.20L90.99 339.20L94.92 339.20L98.86 339.20L102.80 339.20L106.73 339.20L110.67 339.20L114.61 339.20L118.54 339.20L122.48 339.20L126.41 339.20L130.35 339.20L134.29 339.20L138.22 339.20L142.16 339.20L146.09 339.20L150.03 339.20L153.97 339.20L157.90 339.20L161.84 339.20L165.77 339.20L169.71 339.20L173.65 339.20L177.58 339.20L181.52 339.20L185.46 339.20L189.39 339.20L193.33 339.20L197.26 339.20L201.20 339.20L205.14 339.20L209.07 339.20L213.01 339.20L216.94 339.20L220.88 339.20L224.82 339.20L228.75 339.20L232.69 339.20L236.62 339.20L240.56 339.20L244.50 339.20L248.43 339.20L252.37 339.20L256.31 339.20L260.24 339.20L264.18 339.20L268.11 339.20L272.05 339.20L275.99 339.20L279.92 339.20L283.86 339.20L287.79 339.20L291.73 339.20L295.67 339.20L299.60 339.20L303.54 339.20L307.48 339.20L311.41 339.20L315.35 339.20L319.28 339.20L323.22 339.20L327.16 339.20L331.09 339.20L335.03 339.20L338.96 339.20L342.90 339.20L346.84 339.20L350.77 339.20L354.71 339.20L358.64 339.20L362.58 339.20L366.52 339.20L370.45 339.20L374.39 339.20L378.32 339.20L382.26 339.20L386.20 339.20L390.13 339.20L394.07 339.20L398.01 339.20L401.94 339.20L405.88 339.20L409.81 339.20L413.75 339.20L417.69 339.20L421.62 339.20L425.56 339.20L429.49 339.20L433.43 339.20L437.37 339.20L441.30 339.20L445.24 339.20L449.18 339.20L453.11 339.20L457.05 339.20L460.98 339.20L464.92 339.20L468.86 339.20L472.79 339.20L476.73 339.20L480.66 339.20L484.60 339.20L488.54 339.20L492.47 339.20L496.41 339.20L500.34 339.20L504.28 339.20L508.22 339.20L512.15 339.20L516.09 339.20L520.03 339.20L523.96 339.20L527.90 339.20L531.83 339.20L535.77 339.20L539.71 339.20L543.64 339.20L547.58 339.20L551.51 339.20L555.45 339.20L559.39 339.20L563.32 339.20L567.26 339.20L571.19 339.20L575.13 339.20L579.07 339.20L583.00 339.20L586.94 339.20L590.88 339.20L594.81 339.20L598.75 339.20L602.68 339.20L606.62 339.20L610.56 339.20L614.49 339.20L618.43 339.20L622.36 339.20L626.30 339.20L630.24 339.20L634.17 339.20L638.11 339.20L642.04 339.20L645.98 339.20L649.92 339.20L653.85 339.20L657.79 339.20L661.73 339.20L665.66 339.20L669.60 339.20L673.53 339.20L677.47 339.20L681.41 339.20L685.34 339.20L689.28 339.20L693.21 339.20L697.15 339.20L701.09 339.20L705.02 339.20L708.96 339.20L712.89 339.20L716.83 339.20L720.77 339.20L724.70 339.20L728.64 339.20L732.58 339.20L736.51 339.20L740.45 339.20L744.38 339.20L748.32 339.20L752.26 339.20L756.19 339.20L760.13 339.20L764.06 339.20L768.00 339.20M63.44 339.20L67.37 339.20L71.31 339.20L75.24 339.20L79.18 339.20L83.12 339.20L87.05 339.20L90.99 339.20L94.92 339.20L98.86 339.20L102.80 339.20L106.73 339.20L110.67 339.20L114.61 339.20L118.54 339.20L122.48 334.56L126.41 329.95L130.35 325.40L134.29 320.94L138.22 316.60L142.16 312.42L146.09 308.44L150.03 304.71L153.97 301.29L157.90 299.21L161.84 307.15L165.77 315.12L169.71 323.13L173.65 331.16L177.58 339.20L181.52 331.16L185.46 323.13L189.39 315.12L193.33 307.15L197.26 299.21L201.20 301.29L205.14 304.71L209.07 308.44L213.01 312.42L216.94 316.60L220.88 320.94L224.82 325.40L228.75 329.95L232.69 334.56L236.62 339.20L240.56 339.20L244.50 339.20L248.43 339.20L252.37 339.20L256.31 339.20L260.24 339.20L264.18 339.20L268.11 339.20L272.05 339.20L275.99 339.20L279.92 339.20L283.86 339.20L287.79 339.20L291.73 339.20L295.67 339.20L299.60 339.20L303.54 339.20L307.48 339.20L311.41 339.20L315.35 339.20L319.28 339.20L323.22 339.20L327.16 339.20L331.09 339.20L335.03 339.20L338.96 339.20L342.90 339.20L346.84 339.20L350.77 339.20L354.71 339.20L358.64 334.56L362.58 329.95L366.52 325.40L370.45 320.94L374.39 316.60L378.32 312.42L382.26 308.44L386.20 304.71L390.13 301.29L394.07 299.21L398.01 307.15L401.94 315.12L405.88 323.13L409.81 331.16L413.75 339.20L417.69 331.16L421.62 323.13L425.56 315.12L429.49 307.15L433.43 299.21L437.37 301.29L441.30 304.71L445.24 308.44L449.18 312.42L453.11 316.60L457.05 320.94L460.98 325.40L464.92 329.95L468.86 334.56L472.79 339.20L476.73 339.20L480.66 339.20L484.60 339.20L488.54 339.20L492.47 339.20L496.41 339.20L500.34 339.20L504.28 339.20L508.22 339.20L512.15 339.20L516.09 339.20L520.03 339.20L523.96 339.20L527.90 339.20L531.83 339.20L535.77 339.20L539.71 339.20L543.64 339.20L547.58 339.20L551.51 339.20L555.45 339.20L559.39 339.20L563.32 339.20L567.26 339.20L571.19 339.20L575.13 339.20L579.07 339.20L583.00 339.20L586.94 339.20L590.88 339.20L594.81 334.56L598.75 329.95L602.68 325.40L606.62 320.94L610.56 316.60L614.49 312.42L618.43 308.44L622.36 304.71L626.30 301.29L630.24 299.21L634.17 307.15L638.11 315.12L642.04 323.13L645.98 331.16L649.92 339.20L653.85 331.16L657.79 323.13L661.73 315.12L665.66 307.15L669.60 299.21L673.53 301.29L677.47 304.71L681.41 308.44L685.34 312.42L689.28 316.60L693.21 320.94L697.15 325.40L701.09 329.95L705.02 334.56L708.96 339.20L712.89 339.20L716.83 339.20L720.77 339.20L724.70 339.20L728.64 339.20L732.58 339.20L736.51 339.20L740.45 339.20L744.38 339.20L748.32 339.20L752.26 339.20L756.19 339.20L760.13 339.20L764.06 339.20L768.00 339.20M63.44 331.16L67.37 323.13L71.31 315.12L75.24 307.15L79.18 299.21L83.12 298.11L87.05 302.55L90.99 307.03L94.92 311.55L98.86 316.11L102.80 320.69L106.73 325.30L110.67 329.92L114.61 334.56L118.54 339.20L122.48 334.56L126.41 329.95L130.35 325.40L134.29 320.94L138.22 316.60L142.16 312.42L146.09 308.44L150.03 304.71L153.97 301.29L157.90 298.22L161.84 295.58L165.77 293.43L169.71 291.84L173.65 290.86L177.58 290.53L181.52 290.86L185.46 291.84L189.39 293.43L193.33 295.58L197.26 298.22L201.20 301.29L205.14 304.71L209.07 308.44L213.01 312.42L216.94 316.60L220.88 320.94L224.82 325.40L228.75 329.95L232.69 334.56L236.62 339.20L240.56 334.56L244.50 329.92L248.43 325.30L252.37 320.69L256.31 316.11L260.24 311.55L264.18 307.03L268.11 302.55L272.05 298.11L275.99 299.21L279.92 307.15L283.86 315.12L287.79 323.13L291.73 331.16L295.67 339.20L299.60 331.16L303.54 323.13L307.48 315.12L311.41 307.15L315.35 299.21L319.28 298.11L323.22 302.55L327.16 307.03L331.09 311.55L335.03 316.11L338.96 320.69L342.90 325.30L346.84 329.92L350.77 334.56L354.71 339.20L358.64 334.56L362.58 329.95L366.52 325.40L370.45 320.94L374.39 316.60L378.32 312.42L382.26 308.44L386.20 304.71L390.13 301.29L394.07 298.22L398.01 295.58L401.94 293.43L405.88 291.84L409.81 290.86L413.75 290.53L417.69 290.86L421.62 291.84L425.56 293.43L429.49 295.58L433.43 298.22L437.37 301.29L441.30 304.71L445.24 308.44L449.18 312.42L453.11 316.60L457.05 320.94L460.98 325.40L464.92 329.95L468.86 334.56L472.79 339.20L476.73 334.56L480.66 329.92L484.60 325.30L488.54 320.69L492.47 316.11L496.41 311.55L500.34 307.03L504.28 302.55L508.22 298.11L512.15 299.21L516.09 307.15L520.03 315.12L523.96 323.13L527.90 331.16L531.83 339.20L535.77 331.16L539.71 323.13L543.64 315.12L547.58 307.15L551.51 299.21L555.45 298.11L559.39 302.55L563.32 307.03L567.26 311.55L571.19 316.11L575.13 320.69L579.07 325.30L583.00 329.92L586.94 334.56L590.88 339.20L594.81 334.56L598.75 329.95L602.68 325.40L606.62 320.94L610.56 316.60L614.49 312.42L618.43 308.44L622.36 304.71L626.30 301.29L630.24 298.22L634.17 295.58L638.11 293.43L642.04 291.84L645.98 290.86L649.92 290.53L653.85 290.86L657.79 291.84L661.73 293.43L665.66 295.58L669.60 298.22L673.53 301.29L677.47 304.71L681.41 308.44L685.34 312.42L689.28 316.60L693.21 320.94L697.15 325.40L701.09 329.95L705.02 334.56L708.96 339.20L712.89 334.56L716.83 329.92L720.77 325.30L724.70 320.69L728.64 316.11L732.58 311.55L736.51 307.03L740.45 302.55L744.38 298.11L748.32 299.21L752.26 307.15L756.19 315.12L760.13 323.13L764.06 331.16L768.00 339.20M63.44 276.77L67.37 280.91L71.31 285.11L75.24 289.39L79.18 293.72L83.12 298.11L87.05 302.55L90.99 307.03L94.92 311.55L98.86 316.11L102.80 320.69L106.73 325.30L110.67 329.92L114.61 334.56L118.54 339.20L122.48 329.92L126.41 320.65L130.35 311.40L134.29 302.19L138.22 293.02L142.16 283.91L146.09 275.72L150.03 283.48L153.97 291.31L157.90 298.22L161.84 295.58L165.77 293.43L169.71 291.84L173.65 290.86L177.58 290.53L181.52 290.86L185.46 291.84L189.39 293.43L193.33 295.58L197.26 298.22L201.20 291.31L205.14 283.48L209.07 275.72L213.01 283.91L216.94 293.02L220.88 302.19L224.82 311.40L228.75 320.65L232.69 329.92L236.62 339.20L240.56 334.56L244.50 329.92L248.43 325.30L252.37 320.69L256.31 316.11L260.24 311.55L264.18 307.03L268.11 302.55L272.05 298.11L275.99 293.72L279.92 289.39L283.86 285.11L287.79 280.91L291.73 276.77L295.67 272.71L299.60 276.77L303.54 280.91L307.48 285.11L311.41 289.39L315.35 293.72L319.28 298.11L323.22 302.55L327.16 307.03L331.09 311.55L335.03 316.11L338.96 320.69L342.90 325.30L346.84 329.92L350.77 334.56L354.71 339.20L358.64 329.92L362.58 320.65L366.52 311.40L370.45 302.19L374.39 293.02L378.32 283.91L382.26 275.72L386.20 283.48L390.13 291.31L394.07 298.22L398.01 295.58L401.94 293.43L405.88 291.84L409.81 290.86L413.75 290.53L417.69 290.86L421.62 291.84L425.56 293.43L429.49 295.58L433.43 298.22L437.37 291.31L441.30 283.48L445.24 275.72L449.18 283.91L453.11 293.02L457.05 302.19L460.98 311.40L464.92 320.65L468.86 329.92L472.79 339.20L476.73 334.56L480.66 329.92L484.60 325.30L488.54 320.69L492.47 316.11L496.41 311.55L500.34 307.03L504.28 302.55L508.22 298.11L512.15 293.72L516.09 289.39L520.03 285.11L523.96 280.91L527.90 276.77L531.83 272.71L535.77 276.77L539.71 280.91L543.64 285.11L547.58 289.39L551.51 293.72L555.45 298.11L559.39 302.55L563.32 307.03L567.26 311.55L571.19 316.11L575.13 320.69L579.07 325.30L583.00 329.92L586.94 334.56L590.88 339.20L594.81 329.92L598.75 320.65L602.68 311.40L606.62 302.19L610.56 293.02L614.49 283.91L618.43 275.72L622.36 283.48L626.30 291.31L630.24 298.22L634.17 295.58L638.11 293.43L642.04 291.84L645.98 290.86L649.92 290.53L653.85 290.86L657.79 291.84L661.73 293.43L665.66 295.58L669.60 298.22L673.53 291.31L677.47 283.48L681.41 275.72L685.34 283.91L689.28 293.02L693.21 302.19L697.15 311.40L701.09 320.65L705.02 329.92L708.96 339.20L712.89 334.56L716.83 329.92L720.77 325.30L724.70 320.69L728.64 316.11L732.58 311.55L736.51 307.03L740.45 302.55L744.38 298.11L748.32 293.72L752.26 289.39L756.19 285.11L760.13 280.91L764.06 276.77L768.00 272.71M63.44 276.77L67.37 280.91L71.31 285.11L75.24 289.39L79.18 293.72L83.12 291.31L87.05 283.48L90.99 275.72L94.92 268.03L98.86 260.43L102.80 252.92L106.73 245.52L110.67 238.23L114.61 231.07L118.54 224.04L122.48 231.07L126.41 238.23L130.35 245.52L134.29 252.92L138.22 260.43L142.16 268.03L146.09 274.86L150.03 265.89L153.97 257.02L157.90 248.24L161.84 239.57L165.77 231.03L169.71 222.61L173.65 214.34L177.58 206.22L181.52 214.34L185.46 222.61L189.39 231.03L193.33 239.57L197.26 248.24L201.20 257.02L205.14 265.89L209.07 274.86L213.01 268.03L216.94 260.43L220.88 252.92L224.82 245.52L228.75 238.23L232.69 231.07L236.62 224.04L240.56 231.07L244.50 238.23L248.43 245.52L252.37 252.92L256.31 260.43L260.24 268.03L264.18 275.72L268.11 283.48L272.05 291.31L275.99 293.72L279.92 289.39L283.86 285.11L287.79 280.91L291.73 276.77L295.67 272.71L299.60 276.77L303.54 280.91L307.48 285.11L311.41 289.39L315.35 293.72L319.28 291.31L323.22 283.48L327.16 275.72L331.09 268.03L335.03 260.43L338.96 252.92L342.90 245.52L346.84 238.23L350.77 231.07L354.71 224.04L358.64 231.07L362.58 238.23L366.52 245.52L370.45 252.92L374.39 260.43L378.32 268.03L382.26 274.86L386.20 265.89L390.13 257.02L394.07 248.24L398.01 239.57L401.94 231.03L405.88 222.61L409.81 214.34L413.75 206.22L417.69 214.34L421.62 222.61L425.56 231.03L429.49 239.57L433.43 248.24L437.37 257.02L441.30 265.89L445.24 274.86L449.18 268.03L453.11 260.43L457.05 252.92L460.98 245.52L464.92 238.23L468.86 231.07L472.79 224.04L476.73 231.07L480.66 238.23L484.60 245.52L488.54 252.92L492.47 260.43L496.41 268.03L500.34 275.72L504.28 283.48L508.22 291.31L512.15 293.72L516.09 289.39L520.03 285.11L523.96 280.91L527.90 276.77L531.83 272.71L535.77 276.77L539.71 280.91L543.64 285.11L547.58 289.39L551.51 293.72L555.45 291.31L559.39 283.48L563.32 275.72L567.26 268.03L571.19 260.43L575.13 252.92L579.07 245.52L583.00 238.23L586.94 231.07L590.88 224.04L594.81 231.07L598.75 238.23L602.68 245.52L606.62 252.92L610.56 260.43L614.49 268.03L618.43 274.86L622.36 265.89L626.30 257.02L630.24 248.24L634.17 239.57L638.11 231.03L642.04 222.61L645.98 214.34L649.92 206.22L653.85 214.34L657.79 222.61L661.73 231.03L665.66 239.57L669.60 248.24L673.53 257.02L677.47 265.89L681.41 274.86L685.34 268.03L689.28 260.43L693.21 252.92L697.15 245.52L701.09 238.23L705.02 231.07L708.96 224.04L712.89 231.07L716.83 238.23L720.77 245.52L724.70 252.92L728.64 260.43L732.58 268.03L736.51 275.72L740.45 283.48L744.38 291.31L748.32 293.72L752.26 289.39L756.19 285.11L760.13 280.91L764.06 276.77L768.00 272.71M63.44 268.73L67.37 264.84L71.31 261.04L75.24 257.33L79.18 253.72L83.12 250.22L87.05 246.83L90.99 243.55L94.92 240.38L98.86 237.33L102.80 234.41L106.73 231.62L110.67 228.96L114.61 226.43L118.54 224.04L122.48 221.79L126.41 219.68L130.35 217.72L134.29 215.91L138.22 214.24L142.16 212.73L146.09 211.38L150.03 210.17L153.97 209.13L157.90 208.24L161.84 207.52L165.77 206.95L169.71 206.55L173.65 206.31L177.58 206.22L181.52 206.31L185.46 206.55L189.39 206.95L193.33 207.52L197.26 208.24L201.20 209.13L205.14 210.17L209.07 211.38L213.01 212.73L216.94 214.24L220.88 215.91L224.82 217.72L228.75 219.68L232.69 221.79L236.62 224.04L240.56 226.43L244.50 228.96L248.43 231.62L252.37 234.41L256.31 237.33L260.24 240.38L264.18 243.55L268.11 246.83L272.05 250.22L275.99 253.72L279.92 257.33L283.86 261.04L287.79 264.84L291.73 268.73L295.67 272.71L299.60 268.73L303.54 264.84L307.48 261.04L311.41 257.33L315.35 253.72L319.28 250.22L323.22 246.83L327.16 243.55L331.09 240.38L335.03 237.33L338.96 234.41L342.90 231.62L346.84 228.96L350.77 226.43L354.71 224.04L358.64 221.79L362.58 219.68L366.52 217.72L370.45 215.91L374.39 214.24L378.32 212.73L382.26 211.38L386.20 210.17L390.13 209.13L394.07 208.24L398.01 207.52L401.94 206.95L405.88 206.55L409.81 206.31L413.75 206.22L417.69 206.31L421.62 206.55L425.56 206.95L429.49 207.52L433.43 208.24L437.37 209.13L441.30 210.17L445.24 211.38L449.18 212.73L453.11 214.24L457.05 215.91L460.98 217.72L464.92 219.68L468.86 221.79L472.79 224.04L476.73 226.43L480.66 228.96L484.60 231.62L488.54 234.41L492.47 237.33L496.41 240.38L500.34 243.55L504.28 246.83L508.22 250.22L512.15 253.72L516.09 257.33L520.03 261.04L523.96 264.84L527.90 268.73L531.83 272.71L535.77 268.73L539.71 264.84L543.64 261.04L547.58 257.33L551.51 253.72L555.45 250.22L559.39 246.83L563.32 243.55L567.26 240.38L571.19 237.33L575.13 234.41L579.07 231.62L583.00 228.96L586.94 226.43L590.88 224.04L594.81 221.79L598.75 219.68L602.68 217.72L606.62 215.91L610.56 214.24L614.49 212.73L618.43 211.38L622.36 210.17L626.30 209.13L630.24 208.24L634.17 207.52L638.11 206.95L642.04 206.55L645.98 206.31L649.92 206.22L653.85 206.31L657.79 206.55L661.73 206.95L665.66 207.52L669.60 208.24L673.53 209.13L677.47 210.17L681.41 211.38L685.34 212.73L689.28 214.24L693.21 215.91L697.15 217.72L701.09 219.68L705.02 221.79L708.96 224.04L712.89 226.43L716.83 228.96L720.77 231.62L724.70 234.41L728.64 237.33L732.58 240.38L736.51 243.55L740.45 246.83L744.38 250.22L748.32 253.72L752.26 257.33L756.19 261.04L760.13 264.84L764.06 268.73L768.00 272.71M63.44 268.73L67.37 264.84L71.31 261.04L75.24 257.33L79.18 253.72L83.12 250.22L87.05 246.83L90.99 243.55L94.92 240.38L98.86 237.33L102.80 234.41L106.73 231.62L110.67 228.96L114.61 226.43L118.54 224.04L122.48 221.79L126.41 219.68L130.35 217.72L134.29 215.91L138.22 214.24L142.16 212.73L146.09 211.38L150.03 210.17L153.97 209.13L157.90 208.24L161.84 207.52L165.77 206.95L169.71 206.55L173.65 206.31L177.58 206.22L181.52 206.31L185.46 206.55L189.39 206.95L193.33 207.52L197.26 208.24L201.20 209.13L205.14 210.17L209.07 211.38L213.01 212.73L216.94 214.24L220.88 215.91L224.82 217.72L228.75 219.68L232.69 221.79L236.62 224.04L240.56 226.43L244.50 228.96L248.43 231.62L252.37 234.41L256.31 237.33L260.24 240.38L264.18 243.55L268.11 246.83L272.05 250.22L275.99 253.72L279.92 257.33L283.86 261.04L287.79 264.84L291.73 268.73L295.67 272.71L299.60 268.73L303.54 264.84L307.48 261.04L311.41 257.33L315.35 253.72L319.28 250.22L323.22 246.83L327.16 243.55L331.09 240.38L335.03 237.33L338.96 234.41L342.90 231.62L346.84 228.96L350.77 226.43L354.71 224.04L358.64 221.79L362.58 219.68L366.52 217.72L370.45 215.91L374.39 214.24L378.32 212.73L382.26 211.38L386.20 210.17L390.13 209.13L394.07 208.24L398.01 207.52L401.94 206.95L405.88 206.55L409.81 206.31L413.75 206.22L417.69 206.31L421.62 206.55L425.56 206.95L429.49 207.52L433.43 208.24L437.37 209.13L441.30 210.17L445.24 211.38L449.18 212.73L453.11 214.24L457.05 215.91L460.98 217.72L464.92 219.68L468.86 221.79L472.79 224.04L476.73 226.43L480.66 228.96L484.60 231.62L488.54 234.41L492.47 237.33L496.41 240.38L500.34 243.55L504.28 246.83L508.22 250.22L512.15 253.72L516.09 257.33L520.03 261.04L523.96 264.84L527.90 268.73L531.83 272.71L535.77 268.73L539.71 264.84L543.64 261.04L547.58 257.33L551.51 253.72L555.45 250.22L559.39 246.83L563.32 243.55L567.26 240.38L571.19 237.33L575.13 234.41L579.07 231.62L583.00 228.96L586.94 226.43L590.88 224.04L594.81 221.79L598.75 219.68L602.68 217.72L606.62 215.91L610.56 214.24L614.49 212.73L618.43 211.38L622.36 210.17L626.30 209.13L630.24 208.24L634.17 207.52L638.11 206.95L642.04 206.55L645.98 206.31L649.92 206.22L653.85 206.31L657.79 206.55L661.73 206.95L665.66 207.52L669.60 208.24L673.53 209.13L677.47 210.17L681.41 211.38L685.34 212.73L689.28 214.24L693.21 215.91L697.15 217.72L701.09 219.68L705.02 221.79L708.96 224.04L712.89 226.43L716.83 228.96L720.77 231.62L724.70 234.41L728.64 237.33L732.58 240.38L736.51 243.55L740.45 246.83L744.38 250.22L748.32 253.72L752.26 257.33L756.19 261.04L760.13 264.84L764.06 268.73L768.00 272.71M63.44 176.34L67.37 176.34L71.31 176.34L75.24 176.34L79.18 176.34L83.12 176.34L87.05 176.34L90.99 179.21L94.92 185.09L98.86 191.15L102.80 197.40L106.73 203.82L110.67 210.41L114.61 217.15L118.54 224.04L122.48 217.15L126.41 210.41L130.35 203.82L134.29 197.40L138.22 191.15L142.16 191.39L146.09 193.91L150.03 196.34L153.97 198.64L157.90 200.74L161.84 202.59L165.77 204.12L169.71 205.27L173.65 205.98L177.58 206.22L181.52 205.98L185.46 205.27L189.39 204.12L193.33 202.59L197.26 200.74L201.20 198.64L205.14 196.34L209.07 193.91L213.01 191.39L216.94 191.15L220.88 197.40L224.82 203.82L228.75 210.41L232.69 217.15L236.62 224.04L240.56 217.15L244.50 210.41L248.43 203.82L252.37 197.40L256.31 191.15L260.24 185.09L264.18 179.21L268.11 176.34L272.05 176.34L275.99 176.34L279.92 176.34L283.86 176.34L287.79 176.34L291.73 176.34L295.67 176.34L299.60 176.34L303.54 176.34L307.48 176.34L311.41 176.34L315.35 176.34L319.28 176.34L323.22 176.34L327.16 179.21L331.09 185.09L335.03 191.15L338.96 197.40L342.90 203.82L346.84 210.41L350.77 217.15L354.71 224.04L358.64 217.15L362.58 210.41L366.52 203.82L370.45 197.40L374.39 191.15L378.32 191.39L382.26 193.91L386.20 196.34L390.13 198.64L394.07 200.74L398.01 202.59L401.94 204.12L405.88 205.27L409.81 205.98L413.75 206.22L417.69 205.98L421.62 205.27L425.56 204.12L429.49 202.59L433.43 200.74L437.37 198.64L441.30 196.34L445.24 193.91L449.18 191.39L453.11 191.15L457.05 197.40L460.98 203.82L464.92 210.41L468.86 217.15L472.79 224.04L476.73 217.15L480.66 210.41L484.60 203.82L488.54 197.40L492.47 191.15L496.41 185.09L500.34 179.21L504.28 176.34L508.22 176.34L512.15 176.34L516.09 176.34L520.03 176.34L523.96 176.34L527.90 176.34L531.83 176.34L535.77 176.34L539.71 176.34L543.64 176.34L547.58 176.34L551.51 176.34L555.45 176.34L559.39 176.34L563.32 179.21L567.26 185.09L571.19 191.15L575.13 197.40L579.07 203.82L583.00 210.41L586.94 217.15L590.88 224.04L594.81 217.15L598.75 210.41L602.68 203.82L606.62 197.40L610.56 191.15L614.49 191.39L618.43 193.91L622.36 196.34L626.30 198.64L630.24 200.74L634.17 202.59L638.11 204.12L642.04 205.27L645.98 205.98L649.92 206.22L653.85 205.98L657.79 205.27L661.73 204.12L665.66 202.59L669.60 200.74L673.53 198.64L677.47 196.34L681.41 193.91L685.34 191.39L689.28 191.15L693.21 197.40L697.15 203.82L701.09 210.41L705.02 217.15L708.96 224.04L712.89 217.15L716.83 210.41L720.77 203.82L724.70 197.40L728.64 191.15L732.58 185.09L736.51 179.21L740.45 176.34L744.38 176.34L748.32 176.34L752.26 176.34L756.19 176.34L760.13 176.34L764.06 176.34L768.00 176.34M63.44 176.34L67.37 176.34L71.31 176.34L75.24 176.34L79.18 176.34L83.12 176.34L87.05 176.34L90.99 176.34L94.92 176.34L98.86 176.34L102.80 176.34L106.73 176.34L110.67 176.34L114.61 176.34L118.54 176.34L122.48 178.71L126.41 181.16L130.35 183.68L134.29 186.24L138.22 188.82L142.16 191.39L146.09 193.91L150.03 196.34L153.97 198.64L157.90 200.74L161.84 202.59L165.77 204.12L169.71 205.27L173.65 205.98L177.58 206.22L181.52 205.98L185.46 205.27L189.39 204.12L193.33 202.59L197.26 200.74L201.20 198.64L205.14 196.34L209.07 193.91L213.01 191.39L216.94 188.82L220.88 186.24L224.82 183.68L228.75 181.16L232.69 178.71L236.62 176.34L240.56 176.34L244.50 176.34L248.43 176.34L252.37 176.34L256.31 176.34L260.24 176.34L264.18 176.34L268.11 176.34L272.05 176.34L275.99 176.34L279.92 176.34L283.86 176.34L287.79 176.34L291.73 176.34L295.67 176.34L299.60 176.34L303.54 176.34L307.48 176.34L311.41 176.34L315.35 176.34L319.28 176.34L323.22 176.34L327.16 176.34L331.09 176.34L335.03 176.34L338.96 176.34L342.90 176.34L346.84 176.34L350.77 176.34L354.71 176.34L358.64 178.71L362.58 181.16L366.52 183.68L370.45 186.24L374.39 188.82L378.32 191.39L382.26 193.91L386.20 196.34L390.13 198.64L394.07 200.74L398.01 202.59L401.94 204.12L405.88 205.27L409.81 205.98L413.75 206.22L417.69 205.98L421.62 205.27L425.56 204.12L429.49 202.59L433.43 200.74L437.37 198.64L441.30 196.34L445.24 193.91L449.18 191.39L453.11 188.82L457.05 186.24L460.98 183.68L464.92 181.16L468.86 178.71L472.79 176.34L476.73 176.34L480.66 176.34L484.60 176.34L488.54 176.34L492.47 176.34L496.41 176.34L500.34 176.34L504.28 176.34L508.22 176.34L512.15 176.34L516.09 176.34L520.03 176.34L523.96 176.34L527.90 176.34L531.83 176.34L535.77 176.34L539.71 176.34L543.64 176.34L547.58 176.34L551.51 176.34L555.45 176.34L559.39 176.34L563.32 176.34L567.26 176.34L571.19 176.34L575.13 176.34L579.07 176.34L583.00 176.34L586.94 176.34L590.88 176.34L594.81 178.71L598.75 181.16L602.68 183.68L606.62 186.24L610.56 188.82L614.49 191.39L618.43 193.91L622.36 196.34L626.30 198.64L630.24 200.74L634.17 202.59L638.11 204.12L642.04 205.27L645.98 205.98L649.92 206.22L653.85 205.98L657.79 205.27L661.73 204.12L665.66 202.59L669.60 200.74L673.53 198.64L677.47 196.34L681.41 193.91L685.34 191.39L689.28 188.82L693.21 186.24L697.15 183.68L701.09 181.16L705.02 178.71L708.96 176.34L712.89 176.34L716.83 176.34L720.77 176.34L724.70 176.34L728.64 176.34L732.58 176.34L736.51 176.34L740.45 176.34L744.38 176.34L748.32 176.34L752.26 176.34L756.19 176.34L760.13 176.34L764.06 176.34L768.00 176.34M63.44 157.64L67.37 157.91L71.31 158.35L75.24 158.97L79.18 162.76L83.12 168.04L87.05 173.52L90.99 176.34L94.92 176.34L98.86 176.34L102.80 176.34L106.73 176.34L110.67 176.34L114.61 176.34L118.54 176.34L122.48 178.71L126.41 181.16L130.35 183.68L134.29 186.24L138.22 188.82L142.16 185.09L146.09 179.21L150.03 176.34L153.97 176.34L157.90 176.34L161.84 176.34L165.77 182.88L169.71 190.48L173.65 198.27L177.58 206.22L181.52 198.27L185.46 190.48L189.39 182.88L193.33 176.34L197.26 176.34L201.20 176.34L205.14 176.34L209.07 179.21L213.01 185.09L216.94 188.82L220.88 186.24L224.82 183.68L228.75 181.16L232.69 178.71L236.62 176.34L240.56 176.34L244.50 176.34L248.43 176.34L252.37 176.34L256.31 176.34L260.24 176.34L264.18 176.34L268.11 173.52L272.05 168.04L275.99 162.76L279.92 158.97L283.86 158.35L287.79 157.91L291.73 157.64L295.67 157.55L299.60 157.64L303.54 157.91L307.48 158.35L311.41 158.97L315.35 162.76L319.28 168.04L323.22 173.52L327.16 176.34L331.09 176.34L335.03 176.34L338.96 176.34L342.90 176.34L346.84 176.34L350.77 176.34L354.71 176.34L358.64 178.71L362.58 181.16L366.52 183.68L370.45 186.24L374.39 188.82L378.32 185.09L382.26 179.21L386.20 176.34L390.13 176.34L394.07 176.34L398.01 176.34L401.94 182.88L405.88 190.48L409.81 198.27L413.75 206.22L417.69 198.27L421.62 190.48L425.56 182.88L429.49 176.34L433.43 176.34L437.37 176.34L441.30 176.34L445.24 179.21L449.18 185.09L453.11 188.82L457.05 186.24L460.98 183.68L464.92 181.16L468.86 178.71L472.79 176.34L476.73 176.34L480.66 176.34L484.60 176.34L488.54 176.34L492.47 176.34L496.41 176.34L500.34 176.34L504.28 173.52L508.22 168.04L512.15 162.76L516.09 158.97L520.03 158.35L523.96 157.91L527.90 157.64L531.83 157.55L535.77 157.64L539.71 157.91L543.64 158.35L547.58 158.97L551.51 162.76L555.45 168.04L559.39 173.52L563.32 176.34L567.26 176.34L571.19 176.34L575.13 176.34L579.07 176.34L583.00 176.34L586.94 176.34L590.88 176.34L594.81 178.71L598.75 181.16L602.68 183.68L606.62 186.24L610.56 188.82L614.49 185.09L618.43 179.21L622.36 176.34L626.30 176.34L630.24 176.34L634.17 176.34L638.11 182.88L642.04 190.48L645.98 198.27L649.92 206.22L653.85 198.27L657.79 190.48L661.73 182.88L665.66 176.34L669.60 176.34L673.53 176.34L677.47 176.34L681.41 179.21L685.34 185.09L689.28 188.82L693.21 186.24L697.15 183.68L701.09 181.16L705.02 178.71L708.96 176.34L712.89 176.34L716.83 176.34L720.77 176.34L724.70 176.34L728.64 176.34L732.58 176.34L736.51 176.34L740.45 173.52L744.38 168.04L748.32 162.76L752.26 158.97L756.19 158.35L760.13 157.91L764.06 157.64L768.00 157.55M63.44 157.64L67.37 157.91L71.31 158.35L75.24 158.97L79.18 159.76L83.12 160.73L87.05 161.86L90.99 163.15L94.92 164.61L98.86 166.22L102.80 167.98L106.73 169.88L110.67 171.91L114.61 174.07L118.54 176.34L122.48 176.34L126.41 176.34L130.35 176.34L134.29 176.34L138.22 176.34L142.16 176.34L146.09 176.34L150.03 176.34L153.97 176.34L157.90 176.34L161.84 176.34L165.77 176.34L169.71 176.34L173.65 176.34L177.58 176.34L181.52 176.34L185.46 176.34L189.39 176.34L193.33 176.34L197.26 176.34L201.20 176.34L205.14 176.34L209.07 176.34L213.01 176.34L216.94 176.34L220.88 176.34L224.82 176.34L228.75 176.34L232.69 176.34L236.62 176.34L240.56 174.07L244.50 171.91L248.43 169.88L252.37 167.98L256.31 166.22L260.24 164.61L264.18 163.15L268.11 161.86L272.05 160.73L275.99 159.76L279.92 158.97L283.86 158.35L287.79 157.91L291.73 157.64L295.67 157.55L299.60 157.64L303.54 157.91L307.48 158.35L311.41 158.97L315.35 159.76L319.28 160.73L323.22 161.86L327.16 163.15L331.09 164.61L335.03 166.22L338.96 167.98L342.90 169.88L346.84 171.91L350.77 174.07L354.71 176.34L358.64 176.34L362.58 176.34L366.52 176.34L370.45 176.34L374.39 176.34L378.32 176.34L382.26 176.34L386.20 176.34L390.13 176.34L394.07 176.34L398.01 176.34L401.94 176.34L405.88 176.34L409.81 176.34L413.75 176.34L417.69 176.34L421.62 176.34L425.56 176.34L429.49 176.34L433.43 176.34L437.37 176.34L441.30 176.34L445.24 176.34L449.18 176.34L453.11 176.34L457.05 176.34L460.98 176.34L464.92 176.34L468.86 176.34L472.79 176.34L476.73 174.07L480.66 171.91L484.60 169.88L488.54 167.98L492.47 166.22L496.41 164.61L500.34 163.15L504.28 161.86L508.22 160.73L512.15 159.76L516.09 158.97L520.03 158.35L523.96 157.91L527.90 157.64L531.83 157.55L535.77 157.64L539.71 157.91L543.64 158.35L547.58 158.97L551.51 159.76L555.45 160.73L559.39 161.86L563.32 163.15L567.26 164.61L571.19 166.22L575.13 167.98L579.07 169.88L583.00 171.91L586.94 174.07L590.88 176.34L594.81 176.34L598.75 176.34L602.68 176.34L606.62 176.34L610.56 176.34L614.49 176.34L618.43 176.34L622.36 176.34L626.30 176.34L630.24 176.34L634.17 176.34L638.11 176.34L642.04 176.34L645.98 176.34L649.92 176.34L653.85 176.34L657.79 176.34L661.73 176.34L665.66 176.34L669.60 176.34L673.53 176.34L677.47 176.34L681.41 176.34L685.34 176.34L689.28 176.34L693.21 176.34L697.15 176.34L701.09 176.34L705.02 176.34L708.96 176.34L712.89 174.07L716.83 171.91L720.77 169.88L724.70 167.98L728.64 166.22L732.58 164.61L736.51 163.15L740.45 161.86L744.38 160.73L748.32 159.76L752.26 158.97L756.19 158.35L760.13 157.91L764.06 157.64L768.00 157.55M63.44 143.88L67.37 148.26L71.31 152.87L75.24 157.70L79.18 159.76L83.12 160.73L87.05 161.86L90.99 163.15L94.92 164.61L98.86 166.22L102.80 167.98L106.73 169.88L110.67 171.91L114.61 174.07L118.54 176.34L122.48 176.34L126.41 176.34L130.35 176.34L134.29 176.34L138.22 176.34L142.16 176.34L146.09 176.34L150.03 173.52L153.97 168.04L157.90 168.25L161.84 175.46L165.77 176.34L169.71 176.34L173.65 176.34L177.58 176.34L181.52 176.34L185.46 176.34L189.39 176.34L193.33 175.46L197.26 168.25L201.20 168.04L205.14 173.52L209.07 176.34L213.01 176.34L216.94 176.34L220.88 176.34L224.82 176.34L228.75 176.34L232.69 176.34L236.62 176.34L240.56 174.07L244.50 171.91L248.43 169.88L252.37 167.98L256.31 166.22L260.24 164.61L264.18 163.15L268.11 161.86L272.05 160.73L275.99 159.76L279.92 157.70L283.86 152.87L287.79 148.26L291.73 143.88L295.67 139.74L299.60 143.88L303.54 148.26L307.48 152.87L311.41 157.70L315.35 159.76L319.28 160.73L323.22 161.86L327.16 163.15L331.09 164.61L335.03 166.22L338.96 167.98L342.90 169.88L346.84 171.91L350.77 174.07L354.71 176.34L358.64 176.34L362.58 176.34L366.52 176.34L370.45 176.34L374.39 176.34L378.32 176.34L382.26 176.34L386.20 173.52L390.13 168.04L394.07 168.25L398.01 175.46L401.94 176.34L405.88 176.34L409.81 176.34L413.75 176.34L417.69 176.34L421.62 176.34L425.56 176.34L429.49 175.46L433.43 168.25L437.37 168.04L441.30 173.52L445.24 176.34L449.18 176.34L453.11 176.34L457.05 176.34L460.98 176.34L464.92 176.34L468.86 176.34L472.79 176.34L476.73 174.07L480.66 171.91L484.60 169.88L488.54 167.98L492.47 166.22L496.41 164.61L500.34 163.15L504.28 161.86L508.22 160.73L512.15 159.76L516.09 157.70L520.03 152.87L523.96 148.26L527.90 143.88L531.83 139.74L535.77 143.88L539.71 148.26L543.64 152.87L547.58 157.70L551.51 159.76L555.45 160.73L559.39 161.86L563.32 163.15L567.26 164.61L571.19 166.22L575.13 167.98L579.07 169.88L583.00 171.91L586.94 174.07L590.88 176.34L594.81 176.34L598.75 176.34L602.68 176.34L606.62 176.34L610.56 176.34L614.49 176.34L618.43 176.34L622.36 173.52L626.30 168.04L630.24 168.25L634.17 175.46L638.11 176.34L642.04 176.34L645.98 176.34L649.92 176.34L653.85 176.34L657.79 176.34L661.73 176.34L665.66 175.46L669.60 168.25L673.53 168.04L677.47 173.52L681.41 176.34L685.34 176.34L689.28 176.34L693.21 176.34L697.15 176.34L701.09 176.34L705.02 176.34L708.96 176.34L712.89 174.07L716.83 171.91L720.77 169.88L724.70 167.98L728.64 166.22L732.58 164.61L736.51 163.15L740.45 161.86L744.38 160.73L748.32 159.76L752.26 157.70L756.19 152.87L760.13 148.26L764.06 143.88L768.00 139.74M63.44 135.84L67.37 132.19L71.31 128.79L75.24 125.65L79.18 122.77L83.12 120.15L87.05 117.80L90.99 115.72L94.92 113.91L98.86 112.38L102.80 111.12L106.73 110.14L110.67 109.44L114.61 109.02L118.54 108.88L122.48 113.66L126.41 118.72L130.35 124.04L134.29 129.63L138.22 135.47L142.16 141.56L146.09 147.89L150.03 154.45L153.97 161.24L157.90 162.76L161.84 157.70L165.77 152.87L169.71 148.26L173.65 143.88L177.58 139.74L181.52 143.88L185.46 148.26L189.39 152.87L193.33 157.70L197.26 162.76L201.20 161.24L205.14 154.45L209.07 147.89L213.01 141.56L216.94 135.47L220.88 129.63L224.82 124.04L228.75 118.72L232.69 113.66L236.62 108.88L240.56 109.02L244.50 109.44L248.43 110.14L252.37 111.12L256.31 112.38L260.24 113.91L264.18 115.72L268.11 117.80L272.05 120.15L275.99 122.77L279.92 125.65L283.86 128.79L287.79 132.19L291.73 135.84L295.67 139.74L299.60 135.84L303.54 132.19L307.48 128.79L311.41 125.65L315.35 122.77L319.28 120.15L323.22 117.80L327.16 115.72L331.09 113.91L335.03 112.38L338.96 111.12L342.90 110.14L346.84 109.44L350.77 109.02L354.71 108.88L358.64 113.66L362.58 118.72L366.52 124.04L370.45 129.63L374.39 135.47L378.32 141.56L382.26 147.89L386.20 154.45L390.13 161.24L394.07 162.76L398.01 157.70L401.94 152.87L405.88 148.26L409.81 143.88L413.75 139.74L417.69 143.88L421.62 148.26L425.56 152.87L429.49 157.70L433.43 162.76L437.37 161.24L441.30 154.45L445.24 147.89L449.18 141.56L453.11 135.47L457.05 129.63L460.98 124.04L464.92 118.72L468.86 113.66L472.79 108.88L476.73 109.02L480.66 109.44L484.60 110.14L488.54 111.12L492.47 112.38L496.41 113.91L500.34 115.72L504.28 117.80L508.22 120.15L512.15 122.77L516.09 125.65L520.03 128.79L523.96 132.19L527.90 135.84L531.83 139.74L535.77 135.84L539.71 132.19L543.64 128.79L547.58 125.65L551.51 122.77L555.45 120.15L559.39 117.80L563.32 115.72L567.26 113.91L571.19 112.38L575.13 111.12L579.07 110.14L583.00 109.44L586.94 109.02L590.88 108.88L594.81 113.66L598.75 118.72L602.68 124.04L606.62 129.63L610.56 135.47L614.49 141.56L618.43 147.89L622.36 154.45L626.30 161.24L630.24 162.76L634.17 157.70L638.11 152.87L642.04 148.26L645.98 143.88L649.92 139.74L653.85 143.88L657.79 148.26L661.73 152.87L665.66 157.70L669.60 162.76L673.53 161.24L677.47 154.45L681.41 147.89L685.34 141.56L689.28 135.47L693.21 129.63L697.15 124.04L701.09 118.72L705.02 113.66L708.96 108.88L712.89 109.02L716.83 109.44L720.77 110.14L724.70 111.12L728.64 112.38L732.58 113.91L736.51 115.72L740.45 117.80L744.38 120.15L748.32 122.77L752.26 125.65L756.19 128.79L760.13 132.19L764.06 135.84L768.00 139.74M63.44 73.41L67.37 73.90L71.31 74.71L75.24 75.84L79.18 77.29L83.12 79.06L87.05 81.15L90.99 83.55L94.92 86.27L98.86 89.29L102.80 92.61L106.73 96.24L110.67 100.16L114.61 104.38L118.54 108.88L122.48 109.02L126.41 109.44L130.35 110.14L134.29 111.12L138.22 112.38L142.16 113.91L146.09 115.72L150.03 117.80L153.97 120.15L157.90 122.77L161.84 125.65L165.77 128.79L169.71 132.19L173.65 135.84L177.58 139.74L181.52 135.84L185.46 132.19L189.39 128.79L193.33 125.65L197.26 122.77L201.20 120.15L205.14 117.80L209.07 115.72L213.01 113.91L216.94 112.38L220.88 111.12L224.82 110.14L228.75 109.44L232.69 109.02L236.62 108.88L240.56 104.38L244.50 100.16L248.43 96.24L252.37 92.61L256.31 89.29L260.24 86.27L264.18 83.55L268.11 81.15L272.05 79.06L275.99 77.29L279.92 75.84L283.86 74.71L287.79 73.90L291.73 73.41L295.67 73.25L299.60 73.41L303.54 73.90L307.48 74.71L311.41 75.84L315.35 77.29L319.28 79.06L323.22 81.15L327.16 83.55L331.09 86.27L335.03 89.29L338.96 92.61L342.90 96.24L346.84 100.16L350.77 104.38L354.71 108.88L358.64 109.02L362.58 109.44L366.52 110.14L370.45 111.12L374.39 112.38L378.32 113.91L382.26 115.72L386.20 117.80L390.13 120.15L394.07 122.77L398.01 125.65L401.94 128.79L405.88 132.19L409.81 135.84L413.75 139.74L417.69 135.84L421.62 132.19L425.56 128.79L429.49 125.65L433.43 122.77L437.37 120.15L441.30 117.80L445.24 115.72L449.18 113.91L453.11 112.38L457.05 111.12L460.98 110.14L464.92 109.44L468.86 109.02L472.79 108.88L476.73 104.38L480.66 100.16L484.60 96.24L488.54 92.61L492.47 89.29L496.41 86.27L500.34 83.55L504.28 81.15L508.22 79.06L512.15 77.29L516.09 75.84L520.03 74.71L523.96 73.90L527.90 73.41L531.83 73.25L535.77 73.41L539.71 73.90L543.64 74.71L547.58 75.84L551.51 77.29L555.45 79.06L559.39 81.15L563.32 83.55L567.26 86.27L571.19 89.29L575.13 92.61L579.07 96.24L583.00 100.16L586.94 104.38L590.88 108.88L594.81 109.02L598.75 109.44L602.68 110.14L606.62 111.12L610.56 112.38L614.49 113.91L618.43 115.72L622.36 117.80L626.30 120.15L630.24 122.77L634.17 125.65L638.11 128.79L642.04 132.19L645.98 135.84L649.92 139.74L653.85 135.84L657.79 132.19L661.73 128.79L665.66 125.65L669.60 122.77L673.53 120.15L677.47 117.80L681.41 115.72L685.34 113.91L689.28 112.38L693.21 111.12L697.15 110.14L701.09 109.44L705.02 109.02L708.96 108.88L712.89 104.38L716.83 100.16L720.77 96.24L724.70 92.61L728.64 89.29L732.58 86.27L736.51 83.55L740.45 81.15L744.38 79.06L748.32 77.29L752.26 75.84L756.19 74.71L760.13 73.90L764.06 73.41L768.00 73.25"/>
<path fill="none" stroke="#0072bd" stroke-width="2.05" stroke-linejoin="round" stroke-linecap="butt" d="M995.36 502.84L999.31 507.62L1003.27 512.29L1007.22 516.84L1011.18 521.28L1015.14 525.58L1019.09 529.75L1023.05 533.78L1027.00 537.67L1030.96 541.41L1034.92 545.00L1038.87 548.43L1042.83 551.70L1046.79 554.81L1050.74 557.75L1054.70 560.51L1058.65 563.10L1062.61 565.51L1066.57 567.74L1070.52 569.78L1074.48 571.64L1078.43 573.30L1082.39 574.78L1086.35 576.06L1090.30 577.15L1094.26 578.04L1098.21 578.74L1102.17 579.24L1106.13 579.53L1110.08 579.63L1114.04 579.53L1118.00 579.24L1121.95 578.74L1125.91 578.04L1129.86 577.15L1133.82 576.06L1137.78 574.78L1141.73 573.30L1145.69 571.64L1149.64 569.78L1153.60 567.74L1157.56 565.51L1161.51 563.10L1165.47 560.51L1169.42 557.75L1173.38 554.81L1177.34 551.70L1181.29 548.43L1185.25 545.00L1189.21 541.41L1193.16 537.67L1197.12 533.78L1201.07 529.75L1205.03 525.58L1208.99 521.28L1212.94 516.84L1216.90 512.29L1220.85 507.62L1224.81 502.84L1228.77 497.95L1232.72 502.84L1236.68 507.62L1240.63 512.29L1244.59 516.84L1248.55 521.28L1252.50 525.58L1256.46 529.75L1260.42 533.78L1264.37 537.67L1268.33 541.41L1272.28 545.00L1276.24 548.43L1280.20 551.70L1284.15 554.81L1288.11 557.75L1292.06 560.51L1296.02 563.10L1299.98 565.51L1303.93 567.74L1307.89 569.78L1311.85 571.64L1315.80 573.30L1319.76 574.78L1323.71 576.06L1327.67 577.15L1331.63 578.04L1335.58 578.74L1339.54 579.24L1343.49 579.53L1347.45 579.63L1351.41 579.53L1355.36 579.24L1359.32 578.74L1363.27 578.04L1367.23 577.15L1371.19 576.06L1375.14 574.78L1379.10 573.30L1383.06 571.64L1387.01 569.78L1390.97 567.74L1394.92 565.51L1398.88 563.10L1402.84 560.51L1406.79 557.75L1410.75 554.81L1414.70 551.70L1418.66 548.43L1422.62 545.00L1426.57 541.41L1430.53 537.67L1434.48 533.78L1438.44 529.75L1442.40 525.58L1446.35 521.28L1450.31 516.84L1454.26 512.29L1458.22 507.62L1462.18 502.84L1466.13 497.95L1470.09 502.84L1474.05 507.62L1478.00 512.29L1481.96 516.84L1485.91 521.28L1489.87 525.58L1493.83 529.75L1497.78 533.78L1501.74 537.67L1505.69 541.41L1509.65 545.00L1513.61 548.43L1517.56 551.70L1521.52 554.81L1525.47 557.75L1529.43 560.51L1533.39 563.10L1537.34 565.51L1541.30 567.74L1545.26 569.78L1549.21 571.64L1553.17 573.30L1557.12 574.78L1561.08 576.06L1565.04 577.15L1568.99 578.04L1572.95 578.74L1576.90 579.24L1580.86 579.53L1584.82 579.63L1588.77 579.53L1592.73 579.24L1596.68 578.74L1600.64 578.04L1604.60 577.15L1608.55 576.06L1612.51 574.78L1616.47 573.30L1620.42 571.64L1624.38 569.78L1628.33 567.74L1632.29 565.51L1636.25 563.10L1640.20 560.51L1644.16 557.75L1648.11 554.81L1652.07 551.70L1656.03 548.43L1659.98 545.00L1663.94 541.41L1667.89 537.67L1671.85 533.78L1675.81 529.75L1679.76 525.58L1683.72 521.28L1687.68 516.84L1691.63 512.29L1695.59 507.62L1699.54 502.84L1703.50 497.95M995.36 492.96L999.31 487.88L1003.27 482.71L1007.22 477.46L1011.18 472.14L1015.14 466.75L1019.09 461.29L1023.05 455.87L1027.00 455.87L1030.96 455.87L1034.92 455.87L1038.87 455.87L1042.83 455.87L1046.79 455.87L1050.74 455.87L1054.70 455.87L1058.65 455.87L1062.61 455.87L1066.57 455.87L1070.52 455.87L1074.48 455.87L1078.43 455.87L1082.39 455.87L1086.35 455.87L1090.30 455.87L1094.26 455.87L1098.21 455.87L1102.17 455.87L1106.13 455.87L1110.08 455.87L1114.04 455.87L1118.00 455.87L1121.95 455.87L1125.91 455.87L1129.86 455.87L1133.82 455.87L1137.78 455.87L1141.73 455.87L1145.69 455.87L1149.64 455.87L1153.60 455.87L1157.56 455.87L1161.51 455.87L1165.47 455.87L1169.42 455.87L1173.38 455.87L1177.34 455.87L1181.29 455.87L1185.25 455.87L1189.21 455.87L1193.16 455.87L1197.12 455.87L1201.07 461.29L1205.03 466.75L1208.99 472.14L1212.94 477.46L1216.90 482.71L1220.85 487.88L1224.81 492.96L1228.77 497.95L1232.72 492.96L1236.68 487.88L1240.63 482.71L1244.59 477.46L1248.55 472.14L1252.50 466.75L1256.46 461.29L1260.42 455.87L1264.37 455.87L1268.33 455.87L1272.28 455.87L1276.24 455.87L1280.20 455.87L1284.15 455.87L1288.11 455.87L1292.06 455.87L1296.02 455.87L1299.98 455.87L1303.93 455.87L1307.89 455.87L1311.85 455.87L1315.80 455.87L1319.76 455.87L1323.71 455.87L1327.67 455.87L1331.63 455.87L1335.58 455.87L1339.54 455.87L1343.49 455.87L1347.45 455.87L1351.41 455.87L1355.36 455.87L1359.32 455.87L1363.27 455.87L1367.23 455.87L1371.19 455.87L1375.14 455.87L1379.10 455.87L1383.06 455.87L1387.01 455.87L1390.97 455.87L1394.92 455.87L1398.88 455.87L1402.84 455.87L1406.79 455.87L1410.75 455.87L1414.70 455.87L1418.66 455.87L1422.62 455.87L1426.57 455.87L1430.53 455.87L1434.48 455.87L1438.44 461.29L1442.40 466.75L1446.35 472.14L1450.31 477.46L1454.26 482.71L1458.22 487.88L1462.18 492.96L1466.13 497.95L1470.09 492.96L1474.05 487.88L1478.00 482.71L1481.96 477.46L1485.91 472.14L1489.87 466.75L1493.83 461.29L1497.78 455.87L1501.74 455.87L1505.69 455.87L1509.65 455.87L1513.61 455.87L1517.56 455.87L1521.52 455.87L1525.47 455.87L1529.43 455.87L1533.39 455.87L1537.34 455.87L1541.30 455.87L1545.26 455.87L1549.21 455.87L1553.17 455.87L1557.12 455.87L1561.08 455.87L1565.04 455.87L1568.99 455.87L1572.95 455.87L1576.90 455.87L1580.86 455.87L1584.82 455.87L1588.77 455.87L1592.73 455.87L1596.68 455.87L1600.64 455.87L1604.60 455.87L1608.55 455.87L1612.51 455.87L1616.47 455.87L1620.42 455.87L1624.38 455.87L1628.33 455.87L1632.29 455.87L1636.25 455.87L1640.20 455.87L1644.16 455.87L1648.11 455.87L1652.07 455.87L1656.03 455.87L1659.98 455.87L1663.94 455.87L1667.89 455.87L1671.85 455.87L1675.81 461.29L1679.76 466.75L1683.72 472.14L1687.68 477.46L1691.63 482.71L1695.59 487.88L1699.54 492.96L1703.50 497.95M995.36 455.87L999.31 455.87L1003.27 455.87L1007.22 455.87L1011.18 455.87L1015.14 455.87L1019.09 455.87L1023.05 455.87L1027.00 455.87L1030.96 455.87L1034.92 455.87L1038.87 455.87L1042.83 455.87L1046.79 455.87L1050.74 455.87L1054.70 455.87L1058.65 455.87L1062.61 455.87L1066.57 455.87L1070.52 455.87L1074.48 455.87L1078.43 455.87L1082.39 455.87L1086.35 455.87L1090.30 455.87L1094.26 455.87L1098.21 455.87L1102.17 455.87L1106.13 455.87L1110.08 455.87L1114.04 455.87L1118.00 455.87L1121.95 455.87L1125.91 455.87L1129.86 455.87L1133.82 455.87L1137.78 455.87L1141.73 455.87L1145.69 455.87L1149.64 455.87L1153.60 455.87L1157.56 455.87L1161.51 455.87L1165.47 455.87L1169.42 455.87L1173.38 455.87L1177.34 455.87L1181.29 455.87L1185.25 455.87L1189.21 455.87L1193.16 455.87L1197.12 455.87L1201.07 455.87L1205.03 455.87L1208.99 455.87L1212.94 455.87L1216.90 455.87L1220.85 455.87L1224.81 455.87L1228.77 455.87L1232.72 455.87L1236.68 455.87L1240.63 455.87L1244.59 455.87L1248.55 455.87L1252.50 455.87L1256.46 455.87L1260.42 455.87L1264.37 455.87L1268.33 455.87L1272.28 455.87L1276.24 455.87L1280.20 455.87L1284.15 455.87L1288.11 455.87L1292.06 455.87L1296.02 455.87L1299.98 455.87L1303.93 455.87L1307.89 455.87L1311.85 455.87L1315.80 455.87L1319.76 455.87L1323.71 455.87L1327.67 455.87L1331.63 455.87L1335.58 455.87L1339.54 455.87L1343.49 455.87L1347.45 455.87L1351.41 455.87L1355.36 455.87L1359.32 455.87L1363.27 455.87L1367.23 455.87L1371.19 455.87L1375.14 455.87L1379.10 455.87L1383.06 455.87L1387.01 455.87L1390.97 455.87L1394.92 455.87L1398.88 455.87L1402.84 455.87L1406.79 455.87L1410.75 455.87L1414.70 455.87L1418.66 455.87L1422.62 455.87L1426.57 455.87L1430.53 455.87L1434.48 455.87L1438.44 455.87L1442.40 455.87L1446.35 455.87L1450.31 455.87L1454.26 455.87L1458.22 455.87L1462.18 455.87L1466.13 455.87L1470.09 455.87L1474.05 455.87L1478.00 455.87L1481.96 455.87L1485.91 455.87L1489.87 455.87L1493.83 455.87L1497.78 455.87L1501.74 455.87L1505.69 455.87L1509.65 455.87L1513.61 455.87L1517.56 455.87L1521.52 455.87L1525.47 455.87L1529.43 455.87L1533.39 455.87L1537.34 455.87L1541.30 455.87L1545.26 455.87L1549.21 455.87L1553.17 455.87L1557.12 455.87L1561.08 455.87L1565.04 455.87L1568.99 455.87L1572.95 455.87L1576.90 455.87L1580.86 455.87L1584.82 455.87L1588.77 455.87L1592.73 455.87L1596.68 455.87L1600.64 455.87L1604.60 455.87L1608.55 455.87L1612.51 455.87L1616.47 455.87L1620.42 455.87L1624.38 455.87L1628.33 455.87L1632.29 455.87L1636.25 455.87L1640.20 455.87L1644.16 455.87L1648.11 455.87L1652.07 455.87L1656.03 455.87L1659.98 455.87L1663.94 455.87L1667.89 455.87L1671.85 455.87L1675.81 455.87L1679.76 455.87L1683.72 455.87L1687.68 455.87L1691.63 455.87L1695.59 455.87L1699.54 455.87L1703.50 455.87M995.36 455.87L999.31 455.87L1003.27 455.87L1007.22 455.87L1011.18 455.87L1015.14 455.87L1019.09 455.87L1023.05 455.79L1027.00 450.23L1030.96 444.63L1034.92 439.00L1038.87 433.34L1042.83 427.66L1046.79 424.52L1050.74 424.52L1054.70 424.52L1058.65 424.52L1062.61 424.52L1066.57 424.52L1070.52 424.52L1074.48 424.52L1078.43 424.52L1082.39 424.52L1086.35 424.52L1090.30 424.52L1094.26 424.52L1098.21 424.61L1102.17 425.11L1106.13 425.41L1110.08 425.51L1114.04 425.41L1118.00 425.11L1121.95 424.61L1125.91 424.52L1129.86 424.52L1133.82 424.52L1137.78 424.52L1141.73 424.52L1145.69 424.52L1149.64 424.52L1153.60 424.52L1157.56 424.52L1161.51 424.52L1165.47 424.52L1169.42 424.52L1173.38 424.52L1177.34 427.66L1181.29 433.34L1185.25 439.00L1189.21 444.63L1193.16 450.23L1197.12 455.79L1201.07 455.87L1205.03 455.87L1208.99 455.87L1212.94 455.87L1216.90 455.87L1220.85 455.87L1224.81 455.87L1228.77 455.87L1232.72 455.87L1236.68 455.87L1240.63 455.87L1244.59 455.87L1248.55 455.87L1252.50 455.87L1256.46 455.87L1260.42 455.79L1264.37 450.23L1268.33 444.63L1272.28 439.00L1276.24 433.34L1280.20 427.66L1284.15 424.52L1288.11 424.52L1292.06 424.52L1296.02 424.52L1299.98 424.52L1303.93 424.52L1307.89 424.52L1311.85 424.52L1315.80 424.52L1319.76 424.52L1323.71 424.52L1327.67 424.52L1331.63 424.52L1335.58 424.61L1339.54 425.11L1343.49 425.41L1347.45 425.51L1351.41 425.41L1355.36 425.11L1359.32 424.61L1363.27 424.52L1367.23 424.52L1371.19 424.52L1375.14 424.52L1379.10 424.52L1383.06 424.52L1387.01 424.52L1390.97 424.52L1394.92 424.52L1398.88 424.52L1402.84 424.52L1406.79 424.52L1410.75 424.52L1414.70 427.66L1418.66 433.34L1422.62 439.00L1426.57 444.63L1430.53 450.23L1434.48 455.79L1438.44 455.87L1442.40 455.87L1446.35 455.87L1450.31 455.87L1454.26 455.87L1458.22 455.87L1462.18 455.87L1466.13 455.87L1470.09 455.87L1474.05 455.87L1478.00 455.87L1481.96 455.87L1485.91 455.87L1489.87 455.87L1493.83 455.87L1497.78 455.79L1501.74 450.23L1505.69 444.63L1509.65 439.00L1513.61 433.34L1517.56 427.66L1521.52 424.52L1525.47 424.52L1529.43 424.52L1533.39 424.52L1537.34 424.52L1541.30 424.52L1545.26 424.52L1549.21 424.52L1553.17 424.52L1557.12 424.52L1561.08 424.52L1565.04 424.52L1568.99 424.52L1572.95 424.61L1576.90 425.11L1580.86 425.41L1584.82 425.51L1588.77 425.41L1592.73 425.11L1596.68 424.61L1600.64 424.52L1604.60 424.52L1608.55 424.52L1612.51 424.52L1616.47 424.52L1620.42 424.52L1624.38 424.52L1628.33 424.52L1632.29 424.52L1636.25 424.52L1640.20 424.52L1644.16 424.52L1648.11 424.52L1652.07 427.66L1656.03 433.34L1659.98 439.00L1663.94 444.63L1667.89 450.23L1671.85 455.79L1675.81 455.87L1679.76 455.87L1683.72 455.87L1687.68 455.87L1691.63 455.87L1695.59 455.87L1699.54 455.87L1703.50 455.87M995.36 424.52L999.31 424.52L1003.27 424.52L1007.22 424.52L1011.18 424.52L1015.14 424.52L1019.09 424.52L1023.05 424.52L1027.00 424.52L1030.96 424.52L1034.92 424.52L1038.87 424.52L1042.83 424.52L1046.79 424.52L1050.74 424.52L1054.70 424.52L1058.65 424.52L1062.61 424.52L1066.57 424.52L1070.52 424.52L1074.48 424.52L1078.43 424.52L1082.39 424.52L1086.35 424.52L1090.30 424.52L1094.26 424.52L1098.21 424.52L1102.17 424.52L1106.13 424.52L1110.08 424.52L1114.04 424.52L1118.00 424.52L1121.95 424.52L1125.91 424.52L1129.86 424.52L1133.82 424.52L1137.78 424.52L1141.73 424.52L1145.69 424.52L1149.64 424.52L1153.60 424.52L1157.56 424.52L1161.51 424.52L1165.47 424.52L1169.42 424.52L1173.38 424.52L1177.34 424.52L1181.29 424.52L1185.25 424.52L1189.21 424.52L1193.16 424.52L1197.12 424.52L1201.07 424.52L1205.03 424.52L1208.99 424.52L1212.94 424.52L1216.90 424.52L1220.85 424.52L1224.81 424.52L1228.77 424.52L1232.72 424.52L1236.68 424.52L1240.63 424.52L1244.59 424.52L1248.55 424.52L1252.50 424.52L1256.46 424.52L1260.42 424.52L1264.37 424.52L1268.33 424.52L1272.28 424.52L1276.24 424.52L1280.20 424.52L1284.15 424.52L1288.11 424.52L1292.06 424.52L1296.02 424.52L1299.98 424.52L1303.93 424.52L1307.89 424.52L1311.85 424.52L1315.80 424.52L1319.76 424.52L1323.71 424.52L1327.67 424.52L1331.63 424.52L1335.58 424.52L1339.54 424.52L1343.49 424.52L1347.45 424.52L1351.41 424.52L1355.36 424.52L1359.32 424.52L1363.27 424.52L1367.23 424.52L1371.19 424.52L1375.14 424.52L1379.10 424.52L1383.06 424.52L1387.01 424.52L1390.97 424.52L1394.92 424.52L1398.88 424.52L1402.84 424.52L1406.79 424.52L1410.75 424.52L1414.70 424.52L1418.66 424.52L1422.62 424.52L1426.57 424.52L1430.53 424.52L1434.48 424.52L1438.44 424.52L1442.40 424.52L1446.35 424.52L1450.31 424.52L1454.26 424.52L1458.22 424.52L1462.18 424.52L1466.13 424.52L1470.09 424.52L1474.05 424.52L1478.00 424.52L1481.96 424.52L1485.91 424.52L1489.87 424.52L1493.83 424.52L1497.78 424.52L1501.74 424.52L1505.69 424.52L1509.65 424.52L1513.61 424.52L1517.56 424.52L1521.52 424.52L1525.47 424.52L1529.43 424.52L1533.39 424.52L1537.34 424.52L1541.30 424.52L1545.26 424.52L1549.21 424.52L1553.17 424.52L1557.12 424.52L1561.08 424.52L1565.04 424.52L1568.99 424.52L1572.95 424.52L1576.90 424.52L1580.86 424.52L1584.82 424.52L1588.77 424.52L1592.73 424.52L1596.68 424.52L1600.64 424.52L1604.60 424.52L1608.55 424.52L1612.51 424.52L1616.47 424.52L1620.42 424.52L1624.38 424.52L1628.33 424.52L1632.29 424.52L1636.25 424.52L1640.20 424.52L1644.16 424.52L1648.11 424.52L1652.07 424.52L1656.03 424.52L1659.98 424.52L1663.94 424.52L1667.89 424.52L1671.85 424.52L1675.81 424.52L1679.76 424.52L1683.72 424.52L1687.68 424.52L1691.63 424.52L1695.59 424.52L1699.54 424.52L1703.50 424.52M995.36 424.52L999.31 424.52L1003.27 424.52L1007.22 424.52L1011.18 424.52L1015.14 424.52L1019.09 424.52L1023.05 424.52L1027.00 424.52L1030.96 424.52L1034.92 424.52L1038.87 424.52L1042.83 424.52L1046.79 421.97L1050.74 416.26L1054.70 410.56L1058.65 408.97L1062.61 411.38L1066.57 413.61L1070.52 415.65L1074.48 417.51L1078.43 419.18L1082.39 420.65L1086.35 421.94L1090.30 423.02L1094.26 423.92L1098.21 424.52L1102.17 424.52L1106.13 424.52L1110.08 424.52L1114.04 424.52L1118.00 424.52L1121.95 424.52L1125.91 423.92L1129.86 423.02L1133.82 421.94L1137.78 420.65L1141.73 419.18L1145.69 417.51L1149.64 415.65L1153.60 413.61L1157.56 411.38L1161.51 408.97L1165.47 410.56L1169.42 416.26L1173.38 421.97L1177.34 424.52L1181.29 424.52L1185.25 424.52L1189.21 424.52L1193.16 424.52L1197.12 424.52L1201.07 424.52L1205.03 424.52L1208.99 424.52L1212.94 424.52L1216.90 424.52L1220.85 424.52L1224.81 424.52L1228.77 424.52L1232.72 424.52L1236.68 424.52L1240.63 424.52L1244.59 424.52L1248.55 424.52L1252.50 424.52L1256.46 424.52L1260.42 424.52L1264.37 424.52L1268.33 424.52L1272.28 424.52L1276.24 424.52L1280.20 424.52L1284.15 421.97L1288.11 416.26L1292.06 410.56L1296.02 408.97L1299.98 411.38L1303.93 413.61L1307.89 415.65L1311.85 417.51L1315.80 419.18L1319.76 420.65L1323.71 421.94L1327.67 423.02L1331.63 423.92L1335.58 424.52L1339.54 424.52L1343.49 424.52L1347.45 424.52L1351.41 424.52L1355.36 424.52L1359.32 424.52L1363.27 423.92L1367.23 423.02L1371.19 421.94L1375.14 420.65L1379.10 419.18L1383.06 417.51L1387.01 415.65L1390.97 413.61L1394.92 411.38L1398.88 408.97L1402.84 410.56L1406.79 416.26L1410.75 421.97L1414.70 424.52L1418.66 424.52L1422.62 424.52L1426.57 424.52L1430.53 424.52L1434.48 424.52L1438.44 424.52L1442.40 424.52L1446.35 424.52L1450.31 424.52L1454.26 424.52L1458.22 424.52L1462.18 424.52L1466.13 424.52L1470.09 424.52L1474.05 424.52L1478.00 424.52L1481.96 424.52L1485.91 424.52L1489.87 424.52L1493.83 424.52L1497.78 424.52L1501.74 424.52L1505.69 424.52L1509.65 424.52L1513.61 424.52L1517.56 424.52L1521.52 421.97L1525.47 416.26L1529.43 410.56L1533.39 408.97L1537.34 411.38L1541.30 413.61L1545.26 415.65L1549.21 417.51L1553.17 419.18L1557.12 420.65L1561.08 421.94L1565.04 423.02L1568.99 423.92L1572.95 424.52L1576.90 424.52L1580.86 424.52L1584.82 424.52L1588.77 424.52L1592.73 424.52L1596.68 424.52L1600.64 423.92L1604.60 423.02L1608.55 421.94L1612.51 420.65L1616.47 419.18L1620.42 417.51L1624.38 415.65L1628.33 413.61L1632.29 411.38L1636.25 408.97L1640.20 410.56L1644.16 416.26L1648.11 421.97L1652.07 424.52L1656.03 424.52L1659.98 424.52L1663.94 424.52L1667.89 424.52L1671.85 424.52L1675.81 424.52L1679.76 424.52L1683.72 424.52L1687.68 424.52L1691.63 424.52L1695.59 424.52L1699.54 424.52L1703.50 424.52M995.36 377.64L999.31 377.64L1003.27 377.64L1007.22 377.64L1011.18 377.64L1015.14 377.64L1019.09 377.64L1023.05 379.65L1027.00 383.54L1030.96 387.28L1034.92 390.87L1038.87 394.30L1042.83 397.58L1046.79 400.68L1050.74 403.62L1054.70 406.38L1058.65 404.87L1062.61 399.19L1066.57 393.53L1070.52 387.90L1074.48 382.30L1078.43 377.64L1082.39 377.64L1086.35 377.64L1090.30 377.64L1094.26 377.64L1098.21 377.64L1102.17 377.64L1106.13 377.64L1110.08 377.64L1114.04 377.64L1118.00 377.64L1121.95 377.64L1125.91 377.64L1129.86 377.64L1133.82 377.64L1137.78 377.64L1141.73 377.64L1145.69 382.30L1149.64 387.90L1153.60 393.53L1157.56 399.19L1161.51 404.87L1165.47 406.38L1169.42 403.62L1173.38 400.68L1177.34 397.58L1181.29 394.30L1185.25 390.87L1189.21 387.28L1193.16 383.54L1197.12 379.65L1201.07 377.64L1205.03 377.64L1208.99 377.64L1212.94 377.64L1216.90 377.64L1220.85 377.64L1224.81 377.64L1228.77 377.64L1232.72 377.64L1236.68 377.64L1240.63 377.64L1244.59 377.64L1248.55 377.64L1252.50 377.64L1256.46 377.64L1260.42 379.65L1264.37 383.54L1268.33 387.28L1272.28 390.87L1276.24 394.30L1280.20 397.58L1284.15 400.68L1288.11 403.62L1292.06 406.38L1296.02 404.87L1299.98 399.19L1303.93 393.53L1307.89 387.90L1311.85 382.30L1315.80 377.64L1319.76 377.64L1323.71 377.64L1327.67 377.64L1331.63 377.64L1335.58 377.64L1339.54 377.64L1343.49 377.64L1347.45 377.64L1351.41 377.64L1355.36 377.64L1359.32 377.64L1363.27 377.64L1367.23 377.64L1371.19 377.64L1375.14 377.64L1379.10 377.64L1383.06 382.30L1387.01 387.90L1390.97 393.53L1394.92 399.19L1398.88 404.87L1402.84 406.38L1406.79 403.62L1410.75 400.68L1414.70 397.58L1418.66 394.30L1422.62 390.87L1426.57 387.28L1430.53 383.54L1434.48 379.65L1438.44 377.64L1442.40 377.64L1446.35 377.64L1450.31 377.64L1454.26 377.64L1458.22 377.64L1462.18 377.64L1466.13 377.64L1470.09 377.64L1474.05 377.64L1478.00 377.64L1481.96 377.64L1485.91 377.64L1489.87 377.64L1493.83 377.64L1497.78 379.65L1501.74 383.54L1505.69 387.28L1509.65 390.87L1513.61 394.30L1517.56 397.58L1521.52 400.68L1525.47 403.62L1529.43 406.38L1533.39 404.87L1537.34 399.19L1541.30 393.53L1545.26 387.90L1549.21 382.30L1553.17 377.64L1557.12 377.64L1561.08 377.64L1565.04 377.64L1568.99 377.64L1572.95 377.64L1576.90 377.64L1580.86 377.64L1584.82 377.64L1588.77 377.64L1592.73 377.64L1596.68 377.64L1600.64 377.64L1604.60 377.64L1608.55 377.64L1612.51 377.64L1616.47 377.64L1620.42 382.30L1624.38 387.90L1628.33 393.53L1632.29 399.19L1636.25 404.87L1640.20 406.38L1644.16 403.62L1648.11 400.68L1652.07 397.58L1656.03 394.30L1659.98 390.87L1663.94 387.28L1667.89 383.54L1671.85 379.65L1675.81 377.64L1679.76 377.64L1683.72 377.64L1687.68 377.64L1691.63 377.64L1695.59 377.64L1699.54 377.64L1703.50 377.64M995.36 377.64L999.31 377.64L1003.27 377.64L1007.22 377.64L1011.18 377.64L1015.14 377.64L1019.09 377.64L1023.05 377.64L1027.00 377.64L1030.96 377.64L1034.92 377.64L1038.87 377.64L1042.83 377.64L1046.79 377.64L1050.74 377.64L1054.70 377.64L1058.65 377.64L1062.61 377.64L1066.57 377.64L1070.52 377.64L1074.48 377.64L1078.43 377.64L1082.39 377.64L1086.35 377.64L1090.30 377.64L1094.26 377.64L1098.21 377.64L1102.17 377.64L1106.13 377.64L1110.08 377.64L1114.04 377.64L1118.00 377.64L1121.95 377.64L1125.91 377.64L1129.86 377.64L1133.82 377.64L1137.78 377.64L1141.73 377.64L1145.69 377.64L1149.64 377.64L1153.60 377.64L1157.56 377.64L1161.51 377.64L1165.47 377.64L1169.42 377.64L1173.38 377.64L1177.34 377.64L1181.29 377.64L1185.25 377.64L1189.21 377.64L1193.16 377.64L1197.12 377.64L1201.07 377.64L1205.03 377.64L1208.99 377.64L1212.94 377.64L1216.90 377.64L1220.85 377.64L1224.81 377.64L1228.77 377.64L1232.72 377.64L1236.68 377.64L1240.63 377.64L1244.59 377.64L1248.55 377.64L1252.50 377.64L1256.46 377.64L1260.42 377.64L1264.37 377.64L1268.33 377.64L1272.28 377.64L1276.24 377.64L1280.20 377.64L1284.15 377.64L1288.11 377.64L1292.06 377.64L1296.02 377.64L1299.98 377.64L1303.93 377.64L1307.89 377.64L1311.85 377.64L1315.80 377.64L1319.76 377.64L1323.71 377.64L1327.67 377.64L1331.63 377.64L1335.58 377.64L1339.54 377.64L1343.49 377.64L1347.45 377.64L1351.41 377.64L1355.36 377.64L1359.32 377.64L1363.27 377.64L1367.23 377.64L1371.19 377.64L1375.14 377.64L1379.10 377.64L1383.06 377.64L1387.01 377.64L1390.97 377.64L1394.92 377.64L1398.88 377.64L1402.84 377.64L1406.79 377.64L1410.75 377.64L1414.70 377.64L1418.66 377.64L1422.62 377.64L1426.57 377.64L1430.53 377.64L1434.48 377.64L1438.44 377.64L1442.40 377.64L1446.35 377.64L1450.31 377.64L1454.26 377.64L1458.22 377.64L1462.18 377.64L1466.13 377.64L1470.09 377.64L1474.05 377.64L1478.00 377.64L1481.96 377.64L1485.91 377.64L1489.87 377.64L1493.83 377.64L1497.78 377.64L1501.74 377.64L1505.69 377.64L1509.65 377.64L1513.61 377.64L1517.56 377.64L1521.52 377.64L1525.47 377.64L1529.43 377.64L1533.39 377.64L1537.34 377.64L1541.30 377.64L1545.26 377.64L1549.21 377.64L1553.17 377.64L1557.12 377.64L1561.08 377.64L1565.04 377.64L1568.99 377.64L1572.95 377.64L1576.90 377.64L1580.86 377.64L1584.82 377.64L1588.77 377.64L1592.73 377.64L1596.68 377.64L1600.64 377.64L1604.60 377.64L1608.55 377.64L1612.51 377.64L1616.47 377.64L1620.42 377.64L1624.38 377.64L1628.33 377.64L1632.29 377.64L1636.25 377.64L1640.20 377.64L1644.16 377.64L1648.11 377.64L1652.07 377.64L1656.03 377.64L1659.98 377.64L1663.94 377.64L1667.89 377.64L1671.85 377.64L1675.81 377.64L1679.76 377.64L1683.72 377.64L1687.68 377.64L1691.63 377.64L1695.59 377.64L1699.54 377.64L1703.50 377.64M995.36 348.71L999.31 353.49L1003.27 358.16L1007.22 362.72L1011.18 367.15L1015.14 371.45L1019.09 375.62L1023.05 377.64L1027.00 377.64L1030.96 377.64L1034.92 377.64L1038.87 377.64L1042.83 377.64L1046.79 377.64L1050.74 377.64L1054.70 377.64L1058.65 377.64L1062.61 377.64L1066.57 377.64L1070.52 377.64L1074.48 377.64L1078.43 376.74L1082.39 371.23L1086.35 365.78L1090.30 360.39L1094.26 355.06L1098.21 349.82L1102.17 344.65L1106.13 339.57L1110.08 334.58L1114.04 339.57L1118.00 344.65L1121.95 349.82L1125.91 355.06L1129.86 360.39L1133.82 365.78L1137.78 371.23L1141.73 376.74L1145.69 377.64L1149.64 377.64L1153.60 377.64L1157.56 377.64L1161.51 377.64L1165.47 377.64L1169.42 377.64L1173.38 377.64L1177.34 377.64L1181.29 377.64L1185.25 377.64L1189.21 377.64L1193.16 377.64L1197.12 377.64L1201.07 375.62L1205.03 371.45L1208.99 367.15L1212.94 362.72L1216.90 358.16L1220.85 353.49L1224.81 348.71L1228.77 343.82L1232.72 348.71L1236.68 353.49L1240.63 358.16L1244.59 362.72L1248.55 367.15L1252.50 371.45L1256.46 375.62L1260.42 377.64L1264.37 377.64L1268.33 377.64L1272.28 377.64L1276.24 377.64L1280.20 377.64L1284.15 377.64L1288.11 377.64L1292.06 377.64L1296.02 377.64L1299.98 377.64L1303.93 377.64L1307.89 377.64L1311.85 377.64L1315.80 376.74L1319.76 371.23L1323.71 365.78L1327.67 360.39L1331.63 355.06L1335.58 349.82L1339.54 344.65L1343.49 339.57L1347.45 334.58L1351.41 339.57L1355.36 344.65L1359.32 349.82L1363.27 355.06L1367.23 360.39L1371.19 365.78L1375.14 371.23L1379.10 376.74L1383.06 377.64L1387.01 377.64L1390.97 377.64L1394.92 377.64L1398.88 377.64L1402.84 377.64L1406.79 377.64L1410.75 377.64L1414.70 377.64L1418.66 377.64L1422.62 377.64L1426.57 377.64L1430.53 377.64L1434.48 377.64L1438.44 375.62L1442.40 371.45L1446.35 367.15L1450.31 362.72L1454.26 358.16L1458.22 353.49L1462.18 348.71L1466.13 343.82L1470.09 348.71L1474.05 353.49L1478.00 358.16L1481.96 362.72L1485.91 367.15L1489.87 371.45L1493.83 375.62L1497.78 377.64L1501.74 377.64L1505.69 377.64L1509.65 377.64L1513.61 377.64L1517.56 377.64L1521.52 377.64L1525.47 377.64L1529.43 377.64L1533.39 377.64L1537.34 377.64L1541.30 377.64L1545.26 377.64L1549.21 377.64L1553.17 376.74L1557.12 371.23L1561.08 365.78L1565.04 360.39L1568.99 355.06L1572.95 349.82L1576.90 344.65L1580.86 339.57L1584.82 334.58L1588.77 339.57L1592.73 344.65L1596.68 349.82L1600.64 355.06L1604.60 360.39L1608.55 365.78L1612.51 371.23L1616.47 376.74L1620.42 377.64L1624.38 377.64L1628.33 377.64L1632.29 377.64L1636.25 377.64L1640.20 377.64L1644.16 377.64L1648.11 377.64L1652.07 377.64L1656.03 377.64L1659.98 377.64L1663.94 377.64L1667.89 377.64L1671.85 377.64L1675.81 375.62L1679.76 371.45L1683.72 367.15L1687.68 362.72L1691.63 358.16L1695.59 353.49L1699.54 348.71L1703.50 343.82M995.36 338.83L999.31 333.75L1003.27 328.58L1007.22 323.34L1011.18 318.01L1015.14 312.62L1019.09 307.17L1023.05 301.66L1027.00 300.49L1030.96 300.49L1034.92 300.49L1038.87 300.49L1042.83 300.49L1046.79 300.49L1050.74 300.49L1054.70 300.49L1058.65 300.49L1062.61 300.49L1066.57 300.49L1070.52 300.49L1074.48 300.49L1078.43 300.49L1082.39 302.78L1086.35 306.95L1090.30 311.25L1094.26 315.68L1098.21 320.24L1102.17 324.91L1106.13 329.69L1110.08 334.58L1114.04 329.69L1118.00 324.91L1121.95 320.24L1125.91 315.68L1129.86 311.25L1133.82 306.95L1137.78 302.78L1141.73 300.49L1145.69 300.49L1149.64 300.49L1153.60 300.49L1157.56 300.49L1161.51 300.49L1165.47 300.49L1169.42 300.49L1173.38 300.49L1177.34 300.49L1181.29 300.49L1185.25 300.49L1189.21 300.49L1193.16 300.49L1197.12 301.66L1201.07 307.17L1205.03 312.62L1208.99 318.01L1212.94 323.34L1216.90 328.58L1220.85 333.75L1224.81 338.83L1228.77 343.82L1232.72 338.83L1236.68 333.75L1240.63 328.58L1244.59 323.34L1248.55 318.01L1252.50 312.62L1256.46 307.17L1260.42 301.66L1264.37 300.49L1268.33 300.49L1272.28 300.49L1276.24 300.49L1280.20 300.49L1284.15 300.49L1288.11 300.49L1292.06 300.49L1296.02 300.49L1299.98 300.49L1303.93 300.49L1307.89 300.49L1311.85 300.49L1315.80 300.49L1319.76 302.78L1323.71 306.95L1327.67 311.25L1331.63 315.68L1335.58 320.24L1339.54 324.91L1343.49 329.69L1347.45 334.58L1351.41 329.69L1355.36 324.91L1359.32 320.24L1363.27 315.68L1367.23 311.25L1371.19 306.95L1375.14 302.78L1379.10 300.49L1383.06 300.49L1387.01 300.49L1390.97 300.49L1394.92 300.49L1398.88 300.49L1402.84 300.49L1406.79 300.49L1410.75 300.49L1414.70 300.49L1418.66 300.49L1422.62 300.49L1426.57 300.49L1430.53 300.49L1434.48 301.66L1438.44 307.17L1442.40 312.62L1446.35 318.01L1450.31 323.34L1454.26 328.58L1458.22 333.75L1462.18 338.83L1466.13 343.82L1470.09 338.83L1474.05 333.75L1478.00 328.58L1481.96 323.34L1485.91 318.01L1489.87 312.62L1493.83 307.17L1497.78 301.66L1501.74 300.49L1505.69 300.49L1509.65 300.49L1513.61 300.49L1517.56 300.49L1521.52 300.49L1525.47 300.49L1529.43 300.49L1533.39 300.49L1537.34 300.49L1541.30 300.49L1545.26 300.49L1549.21 300.49L1553.17 300.49L1557.12 302.78L1561.08 306.95L1565.04 311.25L1568.99 315.68L1572.95 320.24L1576.90 324.91L1580.86 329.69L1584.82 334.58L1588.77 329.69L1592.73 324.91L1596.68 320.24L1600.64 315.68L1604.60 311.25L1608.55 306.95L1612.51 302.78L1616.47 300.49L1620.42 300.49L1624.38 300.49L1628.33 300.49L1632.29 300.49L1636.25 300.49L1640.20 300.49L1644.16 300.49L1648.11 300.49L1652.07 300.49L1656.03 300.49L1659.98 300.49L1663.94 300.49L1667.89 300.49L1671.85 301.66L1675.81 307.17L1679.76 312.62L1683.72 318.01L1687.68 323.34L1691.63 328.58L1695.59 333.75L1699.54 338.83L1703.50 343.82M995.36 300.49L999.31 300.49L1003.27 300.49L1007.22 300.49L1011.18 300.49L1015.14 300.49L1019.09 300.49L1023.05 300.49L1027.00 300.49L1030.96 300.49L1034.92 300.49L1038.87 300.49L1042.83 300.49L1046.79 300.49L1050.74 300.49L1054.70 300.49L1058.65 300.49L1062.61 300.49L1066.57 300.49L1070.52 300.49L1074.48 300.49L1078.43 300.49L1082.39 300.49L1086.35 300.49L1090.30 300.49L1094.26 300.49L1098.21 300.49L1102.17 300.49L1106.13 300.49L1110.08 300.49L1114.04 300.49L1118.00 300.49L1121.95 300.49L1125.91 300.49L1129.86 300.49L1133.82 300.49L1137.78 300.49L1141.73 300.49L1145.69 300.49L1149.64 300.49L1153.60 300.49L1157.56 300.49L1161.51 300.49L1165.47 300.49L1169.42 300.49L1173.38 300.49L1177.34 300.49L1181.29 300.49L1185.25 300.49L1189.21 300.49L1193.16 300.49L1197.12 300.49L1201.07 300.49L1205.03 300.49L1208.99 300.49L1212.94 300.49L1216.90 300.49L1220.85 300.49L1224.81 300.49L1228.77 300.49L1232.72 300.49L1236.68 300.49L1240.63 300.49L1244.59 300.49L1248.55 300.49L1252.50 300.49L1256.46 300.49L1260.42 300.49L1264.37 300.49L1268.33 300.49L1272.28 300.49L1276.24 300.49L1280.20 300.49L1284.15 300.49L1288.11 300.49L1292.06 300.49L1296.02 300.49L1299.98 300.49L1303.93 300.49L1307.89 300.49L1311.85 300.49L1315.80 300.49L1319.76 300.49L1323.71 300.49L1327.67 300.49L1331.63 300.49L1335.58 300.49L1339.54 300.49L1343.49 300.49L1347.45 300.49L1351.41 300.49L1355.36 300.49L1359.32 300.49L1363.27 300.49L1367.23 300.49L1371.19 300.49L1375.14 300.49L1379.10 300.49L1383.06 300.49L1387.01 300.49L1390.97 300.49L1394.92 300.49L1398.88 300.49L1402.84 300.49L1406.79 300.49L1410.75 300.49L1414.70 300.49L1418.66 300.49L1422.62 300.49L1426.57 300.49L1430.53 300.49L1434.48 300.49L1438.44 300.49L1442.40 300.49L1446.35 300.49L1450.31 300.49L1454.26 300.49L1458.22 300.49L1462.18 300.49L1466.13 300.49L1470.09 300.49L1474.05 300.49L1478.00 300.49L1481.96 300.49L1485.91 300.49L1489.87 300.49L1493.83 300.49L1497.78 300.49L1501.74 300.49L1505.69 300.49L1509.65 300.49L1513.61 300.49L1517.56 300.49L1521.52 300.49L1525.47 300.49L1529.43 300.49L1533.39 300.49L1537.34 300.49L1541.30 300.49L1545.26 300.49L1549.21 300.49L1553.17 300.49L1557.12 300.49L1561.08 300.49L1565.04 300.49L1568.99 300.49L1572.95 300.49L1576.90 300.49L1580.86 300.49L1584.82 300.49L1588.77 300.49L1592.73 300.49L1596.68 300.49L1600.64 300.49L1604.60 300.49L1608.55 300.49L1612.51 300.49L1616.47 300.49L1620.42 300.49L1624.38 300.49L1628.33 300.49L1632.29 300.49L1636.25 300.49L1640.20 300.49L1644.16 300.49L1648.11 300.49L1652.07 300.49L1656.03 300.49L1659.98 300.49L1663.94 300.49L1667.89 300.49L1671.85 300.49L1675.81 300.49L1679.76 300.49L1683.72 300.49L1687.68 300.49L1691.63 300.49L1695.59 300.49L1699.54 300.49L1703.50 300.49M995.36 300.49L999.31 300.49L1003.27 300.49L1007.22 300.49L1011.18 300.49L1015.14 300.49L1019.09 300.49L1023.05 300.49L1027.00 296.10L1030.96 290.50L1034.92 284.87L1038.87 279.21L1042.83 273.53L1046.79 272.02L1050.74 274.78L1054.70 277.72L1058.65 280.82L1062.61 284.10L1066.57 287.53L1070.52 291.12L1074.48 294.86L1078.43 298.75L1082.39 300.49L1086.35 300.49L1090.30 300.49L1094.26 300.49L1098.21 300.49L1102.17 300.49L1106.13 300.49L1110.08 300.49L1114.04 300.49L1118.00 300.49L1121.95 300.49L1125.91 300.49L1129.86 300.49L1133.82 300.49L1137.78 300.49L1141.73 298.75L1145.69 294.86L1149.64 291.12L1153.60 287.53L1157.56 284.10L1161.51 280.82L1165.47 277.72L1169.42 274.78L1173.38 272.02L1177.34 273.53L1181.29 279.21L1185.25 284.87L1189.21 290.50L1193.16 296.10L1197.12 300.49L1201.07 300.49L1205.03 300.49L1208.99 300.49L1212.94 300.49L1216.90 300.49L1220.85 300.49L1224.81 300.49L1228.77 300.49L1232.72 300.49L1236.68 300.49L1240.63 300.49L1244.59 300.49L1248.55 300.49L1252.50 300.49L1256.46 300.49L1260.42 300.49L1264.37 296.10L1268.33 290.50L1272.28 284.87L1276.24 279.21L1280.20 273.53L1284.15 272.02L1288.11 274.78L1292.06 277.72L1296.02 280.82L1299.98 284.10L1303.93 287.53L1307.89 291.12L1311.85 294.86L1315.80 298.75L1319.76 300.49L1323.71 300.49L1327.67 300.49L1331.63 300.49L1335.58 300.49L1339.54 300.49L1343.49 300.49L1347.45 300.49L1351.41 300.49L1355.36 300.49L1359.32 300.49L1363.27 300.49L1367.23 300.49L1371.19 300.49L1375.14 300.49L1379.10 298.75L1383.06 294.86L1387.01 291.12L1390.97 287.53L1394.92 284.10L1398.88 280.82L1402.84 277.72L1406.79 274.78L1410.75 272.02L1414.70 273.53L1418.66 279.21L1422.62 284.87L1426.57 290.50L1430.53 296.10L1434.48 300.49L1438.44 300.49L1442.40 300.49L1446.35 300.49L1450.31 300.49L1454.26 300.49L1458.22 300.49L1462.18 300.49L1466.13 300.49L1470.09 300.49L1474.05 300.49L1478.00 300.49L1481.96 300.49L1485.91 300.49L1489.87 300.49L1493.83 300.49L1497.78 300.49L1501.74 296.10L1505.69 290.50L1509.65 284.87L1513.61 279.21L1517.56 273.53L1521.52 272.02L1525.47 274.78L1529.43 277.72L1533.39 280.82L1537.34 284.10L1541.30 287.53L1545.26 291.12L1549.21 294.86L1553.17 298.75L1557.12 300.49L1561.08 300.49L1565.04 300.49L1568.99 300.49L1572.95 300.49L1576.90 300.49L1580.86 300.49L1584.82 300.49L1588.77 300.49L1592.73 300.49L1596.68 300.49L1600.64 300.49L1604.60 300.49L1608.55 300.49L1612.51 300.49L1616.47 298.75L1620.42 294.86L1624.38 291.12L1628.33 287.53L1632.29 284.10L1636.25 280.82L1640.20 277.72L1644.16 274.78L1648.11 272.02L1652.07 273.53L1656.03 279.21L1659.98 284.87L1663.94 290.50L1667.89 296.10L1671.85 300.49L1675.81 300.49L1679.76 300.49L1683.72 300.49L1687.68 300.49L1691.63 300.49L1695.59 300.49L1699.54 300.49L1703.50 300.49M995.36 253.88L999.31 253.88L1003.27 253.88L1007.22 254.48L1011.18 255.38L1015.14 256.46L1019.09 257.75L1023.05 259.22L1027.00 260.89L1030.96 262.75L1034.92 264.79L1038.87 267.02L1042.83 269.43L1046.79 267.84L1050.74 262.14L1054.70 256.43L1058.65 253.88L1062.61 253.88L1066.57 253.88L1070.52 253.88L1074.48 253.88L1078.43 253.88L1082.39 253.88L1086.35 253.88L1090.30 253.88L1094.26 253.88L1098.21 253.88L1102.17 253.88L1106.13 253.88L1110.08 253.88L1114.04 253.88L1118.00 253.88L1121.95 253.88L1125.91 253.88L1129.86 253.88L1133.82 253.88L1137.78 253.88L1141.73 253.88L1145.69 253.88L1149.64 253.88L1153.60 253.88L1157.56 253.88L1161.51 253.88L1165.47 256.43L1169.42 262.14L1173.38 267.84L1177.34 269.43L1181.29 267.02L1185.25 264.79L1189.21 262.75L1193.16 260.89L1197.12 259.22L1201.07 257.75L1205.03 256.46L1208.99 255.38L1212.94 254.48L1216.90 253.88L1220.85 253.88L1224.81 253.88L1228.77 253.88L1232.72 253.88L1236.68 253.88L1240.63 253.88L1244.59 254.48L1248.55 255.38L1252.50 256.46L1256.46 257.75L1260.42 259.22L1264.37 260.89L1268.33 262.75L1272.28 264.79L1276.24 267.02L1280.20 269.43L1284.15 267.84L1288.11 262.14L1292.06 256.43L1296.02 253.88L1299.98 253.88L1303.93 253.88L1307.89 253.88L1311.85 253.88L1315.80 253.88L1319.76 253.88L1323.71 253.88L1327.67 253.88L1331.63 253.88L1335.58 253.88L1339.54 253.88L1343.49 253.88L1347.45 253.88L1351.41 253.88L1355.36 253.88L1359.32 253.88L1363.27 253.88L1367.23 253.88L1371.19 253.88L1375.14 253.88L1379.10 253.88L1383.06 253.88L1387.01 253.88L1390.97 253.88L1394.92 253.88L1398.88 253.88L1402.84 256.43L1406.79 262.14L1410.75 267.84L1414.70 269.43L1418.66 267.02L1422.62 264.79L1426.57 262.75L1430.53 260.89L1434.48 259.22L1438.44 257.75L1442.40 256.46L1446.35 255.38L1450.31 254.48L1454.26 253.88L1458.22 253.88L1462.18 253.88L1466.13 253.88L1470.09 253.88L1474.05 253.88L1478.00 253.88L1481.96 254.48L1485.91 255.38L1489.87 256.46L1493.83 257.75L1497.78 259.22L1501.74 260.89L1505.69 262.75L1509.65 264.79L1513.61 267.02L1517.56 269.43L1521.52 267.84L1525.47 262.14L1529.43 256.43L1533.39 253.88L1537.34 253.88L1541.30 253.88L1545.26 253.88L1549.21 253.88L1553.17 253.88L1557.12 253.88L1561.08 253.88L1565.04 253.88L1568.99 253.88L1572.95 253.88L1576.90 253.88L1580.86 253.88L1584.82 253.88L1588.77 253.88L1592.73 253.88L1596.68 253.88L1600.64 253.88L1604.60 253.88L1608.55 253.88L1612.51 253.88L1616.47 253.88L1620.42 253.88L1624.38 253.88L1628.33 253.88L1632.29 253.88L1636.25 253.88L1640.20 256.43L1644.16 262.14L1648.11 267.84L1652.07 269.43L1656.03 267.02L1659.98 264.79L1663.94 262.75L1667.89 260.89L1671.85 259.22L1675.81 257.75L1679.76 256.46L1683.72 255.38L1687.68 254.48L1691.63 253.88L1695.59 253.88L1699.54 253.88L1703.50 253.88M995.36 253.88L999.31 253.88L1003.27 253.88L1007.22 253.88L1011.18 253.88L1015.14 253.88L1019.09 253.88L1023.05 253.88L1027.00 253.88L1030.96 253.88L1034.92 253.88L1038.87 253.88L1042.83 253.88L1046.79 253.88L1050.74 253.88L1054.70 253.88L1058.65 253.88L1062.61 253.88L1066.57 253.88L1070.52 253.88L1074.48 253.88L1078.43 253.88L1082.39 253.88L1086.35 253.88L1090.30 253.88L1094.26 253.88L1098.21 253.88L1102.17 253.88L1106.13 253.88L1110.08 253.88L1114.04 253.88L1118.00 253.88L1121.95 253.88L1125.91 253.88L1129.86 253.88L1133.82 253.88L1137.78 253.88L1141.73 253.88L1145.69 253.88L1149.64 253.88L1153.60 253.88L1157.56 253.88L1161.51 253.88L1165.47 253.88L1169.42 253.88L1173.38 253.88L1177.34 253.88L1181.29 253.88L1185.25 253.88L1189.21 253.88L1193.16 253.88L1197.12 253.88L1201.07 253.88L1205.03 253.88L1208.99 253.88L1212.94 253.88L1216.90 253.88L1220.85 253.88L1224.81 253.88L1228.77 253.88L1232.72 253.88L1236.68 253.88L1240.63 253.88L1244.59 253.88L1248.55 253.88L1252.50 253.88L1256.46 253.88L1260.42 253.88L1264.37 253.88L1268.33 253.88L1272.28 253.88L1276.24 253.88L1280.20 253.88L1284.15 253.88L1288.11 253.88L1292.06 253.88L1296.02 253.88L1299.98 253.88L1303.93 253.88L1307.89 253.88L1311.85 253.88L1315.80 253.88L1319.76 253.88L1323.71 253.88L1327.67 253.88L1331.63 253.88L1335.58 253.88L1339.54 253.88L1343.49 253.88L1347.45 253.88L1351.41 253.88L1355.36 253.88L1359.32 253.88L1363.27 253.88L1367.23 253.88L1371.19 253.88L1375.14 253.88L1379.10 253.88L1383.06 253.88L1387.01 253.88L1390.97 253.88L1394.92 253.88L1398.88 253.88L1402.84 253.88L1406.79 253.88L1410.75 253.88L1414.70 253.88L1418.66 253.88L1422.62 253.88L1426.57 253.88L1430.53 253.88L1434.48 253.88L1438.44 253.88L1442.40 253.88L1446.35 253.88L1450.31 253.88L1454.26 253.88L1458.22 253.88L1462.18 253.88L1466.13 253.88L1470.09 253.88L1474.05 253.88L1478.00 253.88L1481.96 253.88L1485.91 253.88L1489.87 253.88L1493.83 253.88L1497.78 253.88L1501.74 253.88L1505.69 253.88L1509.65 253.88L1513.61 253.88L1517.56 253.88L1521.52 253.88L1525.47 253.88L1529.43 253.88L1533.39 253.88L1537.34 253.88L1541.30 253.88L1545.26 253.88L1549.21 253.88L1553.17 253.88L1557.12 253.88L1561.08 253.88L1565.04 253.88L1568.99 253.88L1572.95 253.88L1576.90 253.88L1580.86 253.88L1584.82 253.88L1588.77 253.88L1592.73 253.88L1596.68 253.88L1600.64 253.88L1604.60 253.88L1608.55 253.88L1612.51 253.88L1616.47 253.88L1620.42 253.88L1624.38 253.88L1628.33 253.88L1632.29 253.88L1636.25 253.88L1640.20 253.88L1644.16 253.88L1648.11 253.88L1652.07 253.88L1656.03 253.88L1659.98 253.88L1663.94 253.88L1667.89 253.88L1671.85 253.88L1675.81 253.88L1679.76 253.88L1683.72 253.88L1687.68 253.88L1691.63 253.88L1695.59 253.88L1699.54 253.88L1703.50 253.88M995.36 252.99L999.31 253.29L1003.27 253.79L1007.22 253.88L1011.18 253.88L1015.14 253.88L1019.09 253.88L1023.05 253.88L1027.00 253.88L1030.96 253.88L1034.92 253.88L1038.87 253.88L1042.83 253.88L1046.79 253.88L1050.74 253.88L1054.70 253.88L1058.65 250.74L1062.61 245.06L1066.57 239.40L1070.52 233.77L1074.48 228.17L1078.43 222.61L1082.39 222.53L1086.35 222.53L1090.30 222.53L1094.26 222.53L1098.21 222.53L1102.17 222.53L1106.13 222.53L1110.08 222.53L1114.04 222.53L1118.00 222.53L1121.95 222.53L1125.91 222.53L1129.86 222.53L1133.82 222.53L1137.78 222.53L1141.73 222.61L1145.69 228.17L1149.64 233.77L1153.60 239.40L1157.56 245.06L1161.51 250.74L1165.47 253.88L1169.42 253.88L1173.38 253.88L1177.34 253.88L1181.29 253.88L1185.25 253.88L1189.21 253.88L1193.16 253.88L1197.12 253.88L1201.07 253.88L1205.03 253.88L1208.99 253.88L1212.94 253.88L1216.90 253.79L1220.85 253.29L1224.81 252.99L1228.77 252.89L1232.72 252.99L1236.68 253.29L1240.63 253.79L1244.59 253.88L1248.55 253.88L1252.50 253.88L1256.46 253.88L1260.42 253.88L1264.37 253.88L1268.33 253.88L1272.28 253.88L1276.24 253.88L1280.20 253.88L1284.15 253.88L1288.11 253.88L1292.06 253.88L1296.02 250.74L1299.98 245.06L1303.93 239.40L1307.89 233.77L1311.85 228.17L1315.80 222.61L1319.76 222.53L1323.71 222.53L1327.67 222.53L1331.63 222.53L1335.58 222.53L1339.54 222.53L1343.49 222.53L1347.45 222.53L1351.41 222.53L1355.36 222.53L1359.32 222.53L1363.27 222.53L1367.23 222.53L1371.19 222.53L1375.14 222.53L1379.10 222.61L1383.06 228.17L1387.01 233.77L1390.97 239.40L1394.92 245.06L1398.88 250.74L1402.84 253.88L1406.79 253.88L1410.75 253.88L1414.70 253.88L1418.66 253.88L1422.62 253.88L1426.57 253.88L1430.53 253.88L1434.48 253.88L1438.44 253.88L1442.40 253.88L1446.35 253.88L1450.31 253.88L1454.26 253.79L1458.22 253.29L1462.18 252.99L1466.13 252.89L1470.09 252.99L1474.05 253.29L1478.00 253.79L1481.96 253.88L1485.91 253.88L1489.87 253.88L1493.83 253.88L1497.78 253.88L1501.74 253.88L1505.69 253.88L1509.65 253.88L1513.61 253.88L1517.56 253.88L1521.52 253.88L1525.47 253.88L1529.43 253.88L1533.39 250.74L1537.34 245.06L1541.30 239.40L1545.26 233.77L1549.21 228.17L1553.17 222.61L1557.12 222.53L1561.08 222.53L1565.04 222.53L1568.99 222.53L1572.95 222.53L1576.90 222.53L1580.86 222.53L1584.82 222.53L1588.77 222.53L1592.73 222.53L1596.68 222.53L1600.64 222.53L1604.60 222.53L1608.55 222.53L1612.51 222.53L1616.47 222.61L1620.42 228.17L1624.38 233.77L1628.33 239.40L1632.29 245.06L1636.25 250.74L1640.20 253.88L1644.16 253.88L1648.11 253.88L1652.07 253.88L1656.03 253.88L1659.98 253.88L1663.94 253.88L1667.89 253.88L1671.85 253.88L1675.81 253.88L1679.76 253.88L1683.72 253.88L1687.68 253.88L1691.63 253.79L1695.59 253.29L1699.54 252.99L1703.50 252.89M995.36 222.53L999.31 222.53L1003.27 222.53L1007.22 222.53L1011.18 222.53L1015.14 222.53L1019.09 222.53L1023.05 222.53L1027.00 222.53L1030.96 222.53L1034.92 222.53L1038.87 222.53L1042.83 222.53L1046.79 222.53L1050.74 222.53L1054.70 222.53L1058.65 222.53L1062.61 222.53L1066.57 222.53L1070.52 222.53L1074.48 222.53L1078.43 222.53L1082.39 222.53L1086.35 222.53L1090.30 222.53L1094.26 222.53L1098.21 222.53L1102.17 222.53L1106.13 222.53L1110.08 222.53L1114.04 222.53L1118.00 222.53L1121.95 222.53L1125.91 222.53L1129.86 222.53L1133.82 222.53L1137.78 222.53L1141.73 222.53L1145.69 222.53L1149.64 222.53L1153.60 222.53L1157.56 222.53L1161.51 222.53L1165.47 222.53L1169.42 222.53L1173.38 222.53L1177.34 222.53L1181.29 222.53L1185.25 222.53L1189.21 222.53L1193.16 222.53L1197.12 222.53L1201.07 222.53L1205.03 222.53L1208.99 222.53L1212.94 222.53L1216.90 222.53L1220.85 222.53L1224.81 222.53L1228.77 222.53L1232.72 222.53L1236.68 222.53L1240.63 222.53L1244.59 222.53L1248.55 222.53L1252.50 222.53L1256.46 222.53L1260.42 222.53L1264.37 222.53L1268.33 222.53L1272.28 222.53L1276.24 222.53L1280.20 222.53L1284.15 222.53L1288.11 222.53L1292.06 222.53L1296.02 222.53L1299.98 222.53L1303.93 222.53L1307.89 222.53L1311.85 222.53L1315.80 222.53L1319.76 222.53L1323.71 222.53L1327.67 222.53L1331.63 222.53L1335.58 222.53L1339.54 222.53L1343.49 222.53L1347.45 222.53L1351.41 222.53L1355.36 222.53L1359.32 222.53L1363.27 222.53L1367.23 222.53L1371.19 222.53L1375.14 222.53L1379.10 222.53L1383.06 222.53L1387.01 222.53L1390.97 222.53L1394.92 222.53L1398.88 222.53L1402.84 222.53L1406.79 222.53L1410.75 222.53L1414.70 222.53L1418.66 222.53L1422.62 222.53L1426.57 222.53L1430.53 222.53L1434.48 222.53L1438.44 222.53L1442.40 222.53L1446.35 222.53L1450.31 222.53L1454.26 222.53L1458.22 222.53L1462.18 222.53L1466.13 222.53L1470.09 222.53L1474.05 222.53L1478.00 222.53L1481.96 222.53L1485.91 222.53L1489.87 222.53L1493.83 222.53L1497.78 222.53L1501.74 222.53L1505.69 222.53L1509.65 222.53L1513.61 222.53L1517.56 222.53L1521.52 222.53L1525.47 222.53L1529.43 222.53L1533.39 222.53L1537.34 222.53L1541.30 222.53L1545.26 222.53L1549.21 222.53L1553.17 222.53L1557.12 222.53L1561.08 222.53L1565.04 222.53L1568.99 222.53L1572.95 222.53L1576.90 222.53L1580.86 222.53L1584.82 222.53L1588.77 222.53L1592.73 222.53L1596.68 222.53L1600.64 222.53L1604.60 222.53L1608.55 222.53L1612.51 222.53L1616.47 222.53L1620.42 222.53L1624.38 222.53L1628.33 222.53L1632.29 222.53L1636.25 222.53L1640.20 222.53L1644.16 222.53L1648.11 222.53L1652.07 222.53L1656.03 222.53L1659.98 222.53L1663.94 222.53L1667.89 222.53L1671.85 222.53L1675.81 222.53L1679.76 222.53L1683.72 222.53L1687.68 222.53L1691.63 222.53L1695.59 222.53L1699.54 222.53L1703.50 222.53M995.36 222.53L999.31 222.53L1003.27 222.53L1007.22 222.53L1011.18 222.53L1015.14 222.53L1019.09 222.53L1023.05 222.53L1027.00 222.53L1030.96 222.53L1034.92 222.53L1038.87 222.53L1042.83 222.53L1046.79 222.53L1050.74 222.53L1054.70 222.53L1058.65 222.53L1062.61 222.53L1066.57 222.53L1070.52 222.53L1074.48 222.53L1078.43 222.53L1082.39 217.11L1086.35 211.65L1090.30 206.26L1094.26 200.94L1098.21 195.69L1102.17 190.52L1106.13 185.44L1110.08 180.45L1114.04 185.44L1118.00 190.52L1121.95 195.69L1125.91 200.94L1129.86 206.26L1133.82 211.65L1137.78 217.11L1141.73 222.53L1145.69 222.53L1149.64 222.53L1153.60 222.53L1157.56 222.53L1161.51 222.53L1165.47 222.53L1169.42 222.53L1173.38 222.53L1177.34 222.53L1181.29 222.53L1185.25 222.53L1189.21 222.53L1193.16 222.53L1197.12 222.53L1201.07 222.53L1205.03 222.53L1208.99 222.53L1212.94 222.53L1216.90 222.53L1220.85 222.53L1224.81 222.53L1228.77 222.53L1232.72 222.53L1236.68 222.53L1240.63 222.53L1244.59 222.53L1248.55 222.53L1252.50 222.53L1256.46 222.53L1260.42 222.53L1264.37 222.53L1268.33 222.53L1272.28 222.53L1276.24 222.53L1280.20 222.53L1284.15 222.53L1288.11 222.53L1292.06 222.53L1296.02 222.53L1299.98 222.53L1303.93 222.53L1307.89 222.53L1311.85 222.53L1315.80 222.53L1319.76 217.11L1323.71 211.65L1327.67 206.26L1331.63 200.94L1335.58 195.69L1339.54 190.52L1343.49 185.44L1347.45 180.45L1351.41 185.44L1355.36 190.52L1359.32 195.69L1363.27 200.94L1367.23 206.26L1371.19 211.65L1375.14 217.11L1379.10 222.53L1383.06 222.53L1387.01 222.53L1390.97 222.53L1394.92 222.53L1398.88 222.53L1402.84 222.53L1406.79 222.53L1410.75 222.53L1414.70 222.53L1418.66 222.53L1422.62 222.53L1426.57 222.53L1430.53 222.53L1434.48 222.53L1438.44 222.53L1442.40 222.53L1446.35 222.53L1450.31 222.53L1454.26 222.53L1458.22 222.53L1462.18 222.53L1466.13 222.53L1470.09 222.53L1474.05 222.53L1478.00 222.53L1481.96 222.53L1485.91 222.53L1489.87 222.53L1493.83 222.53L1497.78 222.53L1501.74 222.53L1505.69 222.53L1509.65 222.53L1513.61 222.53L1517.56 222.53L1521.52 222.53L1525.47 222.53L1529.43 222.53L1533.39 222.53L1537.34 222.53L1541.30 222.53L1545.26 222.53L1549.21 222.53L1553.17 222.53L1557.12 217.11L1561.08 211.65L1565.04 206.26L1568.99 200.94L1572.95 195.69L1576.90 190.52L1580.86 185.44L1584.82 180.45L1588.77 185.44L1592.73 190.52L1596.68 195.69L1600.64 200.94L1604.60 206.26L1608.55 211.65L1612.51 217.11L1616.47 222.53L1620.42 222.53L1624.38 222.53L1628.33 222.53L1632.29 222.53L1636.25 222.53L1640.20 222.53L1644.16 222.53L1648.11 222.53L1652.07 222.53L1656.03 222.53L1659.98 222.53L1663.94 222.53L1667.89 222.53L1671.85 222.53L1675.81 222.53L1679.76 222.53L1683.72 222.53L1687.68 222.53L1691.63 222.53L1695.59 222.53L1699.54 222.53L1703.50 222.53M995.36 98.87L999.31 99.16L1003.27 99.66L1007.22 100.36L1011.18 101.25L1015.14 102.34L1019.09 103.62L1023.05 105.10L1027.00 106.76L1030.96 108.62L1034.92 110.66L1038.87 112.89L1042.83 115.30L1046.79 117.89L1050.74 120.65L1054.70 123.59L1058.65 126.70L1062.61 129.97L1066.57 133.40L1070.52 136.99L1074.48 140.73L1078.43 144.62L1082.39 148.65L1086.35 152.82L1090.30 157.12L1094.26 161.56L1098.21 166.11L1102.17 170.78L1106.13 175.56L1110.08 180.45L1114.04 175.56L1118.00 170.78L1121.95 166.11L1125.91 161.56L1129.86 157.12L1133.82 152.82L1137.78 148.65L1141.73 144.62L1145.69 140.73L1149.64 136.99L1153.60 133.40L1157.56 129.97L1161.51 126.70L1165.47 123.59L1169.42 120.65L1173.38 117.89L1177.34 115.30L1181.29 112.89L1185.25 110.66L1189.21 108.62L1193.16 106.76L1197.12 105.10L1201.07 103.62L1205.03 102.34L1208.99 101.25L1212.94 100.36L1216.90 99.66L1220.85 99.16L1224.81 98.87L1228.77 98.77L1232.72 98.87L1236.68 99.16L1240.63 99.66L1244.59 100.36L1248.55 101.25L1252.50 102.34L1256.46 103.62L1260.42 105.10L1264.37 106.76L1268.33 108.62L1272.28 110.66L1276.24 112.89L1280.20 115.30L1284.15 117.89L1288.11 120.65L1292.06 123.59L1296.02 126.70L1299.98 129.97L1303.93 133.40L1307.89 136.99L1311.85 140.73L1315.80 144.62L1319.76 148.65L1323.71 152.82L1327.67 157.12L1331.63 161.56L1335.58 166.11L1339.54 170.78L1343.49 175.56L1347.45 180.45L1351.41 175.56L1355.36 170.78L1359.32 166.11L1363.27 161.56L1367.23 157.12L1371.19 152.82L1375.14 148.65L1379.10 144.62L1383.06 140.73L1387.01 136.99L1390.97 133.40L1394.92 129.97L1398.88 126.70L1402.84 123.59L1406.79 120.65L1410.75 117.89L1414.70 115.30L1418.66 112.89L1422.62 110.66L1426.57 108.62L1430.53 106.76L1434.48 105.10L1438.44 103.62L1442.40 102.34L1446.35 101.25L1450.31 100.36L1454.26 99.66L1458.22 99.16L1462.18 98.87L1466.13 98.77L1470.09 98.87L1474.05 99.16L1478.00 99.66L1481.96 100.36L1485.91 101.25L1489.87 102.34L1493.83 103.62L1497.78 105.10L1501.74 106.76L1505.69 108.62L1509.65 110.66L1513.61 112.89L1517.56 115.30L1521.52 117.89L1525.47 120.65L1529.43 123.59L1533.39 126.70L1537.34 129.97L1541.30 133.40L1545.26 136.99L1549.21 140.73L1553.17 144.62L1557.12 148.65L1561.08 152.82L1565.04 157.12L1568.99 161.56L1572.95 166.11L1576.90 170.78L1580.86 175.56L1584.82 180.45L1588.77 175.56L1592.73 170.78L1596.68 166.11L1600.64 161.56L1604.60 157.12L1608.55 152.82L1612.51 148.65L1616.47 144.62L1620.42 140.73L1624.38 136.99L1628.33 133.40L1632.29 129.97L1636.25 126.70L1640.20 123.59L1644.16 120.65L1648.11 117.89L1652.07 115.30L1656.03 112.89L1659.98 110.66L1663.94 108.62L1667.89 106.76L1671.85 105.10L1675.81 103.62L1679.76 102.34L1683.72 101.25L1687.68 100.36L1691.63 99.66L1695.59 99.16L1699.54 98.87L1703.50 98.77"/>
<path fill="none" stroke="#0072bd" stroke-width="2.05" stroke-linejoin="round" stroke-linecap="butt" d="M995.36 881.28L999.31 886.93L1003.27 896.23L1007.22 908.99L1011.18 924.97L1015.14 943.86L1019.09 965.28L1023.05 988.83L1027.00 1014.03L1030.96 1040.41L1034.92 1067.45L1038.87 1094.62L1042.83 1121.39L1046.79 1147.25L1050.74 1171.69L1054.70 1194.22L1058.65 1214.43L1062.61 1231.90L1066.57 1246.31L1070.52 1257.37L1074.48 1264.86L1078.43 1268.64L1082.39 1268.64L1086.35 1264.86L1090.30 1257.37L1094.26 1246.31L1098.21 1231.90L1102.17 1214.43L1106.13 1194.22L1110.08 1171.69L1114.04 1147.25L1118.00 1121.39L1121.95 1094.62L1125.91 1067.45L1129.86 1040.41L1133.82 1014.03L1137.78 988.83L1141.73 965.28L1145.69 943.86L1149.64 924.97L1153.60 908.99L1157.56 896.23L1161.51 886.93L1165.47 881.28L1169.42 879.38L1173.38 881.28L1177.34 886.93L1181.29 896.23L1185.25 908.99L1189.21 924.97L1193.16 943.86L1197.12 965.28L1201.07 988.83L1205.03 1014.03L1208.99 1040.41L1212.94 1067.45L1216.90 1094.62L1220.85 1121.39L1224.81 1147.25L1228.77 1171.69L1232.72 1194.22L1236.68 1214.43L1240.63 1231.90L1244.59 1246.31L1248.55 1257.37L1252.50 1264.86L1256.46 1268.64L1260.42 1268.64L1264.37 1264.86L1268.33 1257.37L1272.28 1246.31L1276.24 1231.90L1280.20 1214.43L1284.15 1194.22L1288.11 1171.69L1292.06 1147.25L1296.02 1121.39L1299.98 1094.62L1303.93 1067.45L1307.89 1040.41L1311.85 1014.03L1315.80 988.83L1319.76 965.28L1323.71 943.86L1327.67 924.97L1331.63 908.99L1335.58 896.23L1339.54 886.93L1343.49 881.28L1347.45 879.38L1351.41 881.28L1355.36 886.93L1359.32 896.23L1363.27 908.99L1367.23 924.97L1371.19 943.86L1375.14 965.28L1379.10 988.83L1383.06 1014.03L1387.01 1040.41L1390.97 1067.45L1394.92 1094.62L1398.88 1121.39L1402.84 1147.25L1406.79 1171.69L1410.75 1194.22L1414.70 1214.43L1418.66 1231.90L1422.62 1246.31L1426.57 1257.37L1430.53 1264.86L1434.48 1268.64L1438.44 1268.64L1442.40 1264.86L1446.35 1257.37L1450.31 1246.31L1454.26 1231.90L1458.22 1214.43L1462.18 1194.22L1466.13 1171.69L1470.09 1147.25L1474.05 1121.39L1478.00 1094.62L1481.96 1067.45L1485.91 1040.41L1489.87 1014.03L1493.83 988.83L1497.78 965.28L1501.74 943.86L1505.69 924.97L1509.65 908.99L1513.61 896.23L1517.56 886.93L1521.52 881.28L1525.47 879.38L1529.43 881.28L1533.39 886.93L1537.34 896.23L1541.30 908.99L1545.26 924.97L1549.21 943.86L1553.17 965.28L1557.12 988.83L1561.08 1014.03L1565.04 1040.41L1568.99 1067.45L1572.95 1094.62L1576.90 1121.39L1580.86 1147.25L1584.82 1171.69L1588.77 1194.22L1592.73 1214.43L1596.68 1231.90L1600.64 1246.31L1604.60 1257.37L1608.55 1264.86L1612.51 1268.64L1616.47 1268.64L1620.42 1264.86L1624.38 1257.37L1628.33 1246.31L1632.29 1231.90L1636.25 1214.43L1640.20 1194.22L1644.16 1171.69L1648.11 1147.25L1652.07 1121.39L1656.03 1094.62L1659.98 1067.45L1663.94 1040.41L1667.89 1014.03L1671.85 988.83L1675.81 965.28L1679.76 943.86L1683.72 924.97L1687.68 908.99L1691.63 896.23L1695.59 886.93L1699.54 881.28L1703.50 879.38"/>
<clipPath id="c3"><rect x="59.50" y="823.90" width="708.50" height="541.30"/></clipPath>
<path clip-path="url(#c3)" fill="none" stroke="#0072bd" stroke-width="2.05" stroke-linejoin="round" stroke-linecap="butt" d="M63.26 1168.43C65.51 1168.02 67.77 1167.61 70.03 1167.18C73.37 1166.54 76.71 1165.84 80.05 1165.18C85.07 1164.17 90.08 1163.17 95.09 1162.17C100.11 1161.17 105.12 1160.16 110.14 1159.16C113.48 1158.49 116.82 1157.95 120.16 1157.15C123.50 1156.36 126.85 1155.23 130.19 1154.40C135.45 1153.09 140.72 1152.91 145.98 1151.14C147.99 1150.46 150.00 1149.58 152.01 1148.81M136.51 1169.55C139.67 1168.76 142.84 1167.97 146.00 1167.18C149.34 1166.35 152.68 1165.41 156.03 1164.67C160.21 1163.76 164.38 1163.42 168.56 1162.42C172.74 1161.42 176.92 1159.97 181.09 1158.66C184.44 1157.61 187.78 1156.53 191.12 1155.40C194.46 1154.27 197.81 1153.03 201.15 1151.89C203.66 1151.04 206.16 1150.09 208.67 1149.38C211.18 1148.67 213.68 1148.07 216.19 1147.63C219.53 1147.04 222.87 1146.84 226.22 1146.63C228.14 1146.50 230.06 1146.47 231.98 1146.38C235.73 1146.19 239.47 1145.89 243.22 1145.65M559.98 1110.33C565.32 1108.81 570.66 1107.33 576.00 1105.77C582.65 1103.83 589.29 1101.95 595.94 1099.79C602.59 1097.63 609.24 1095.30 615.88 1092.81C622.53 1090.32 629.18 1087.49 635.83 1084.83C642.47 1082.17 649.12 1079.51 655.77 1076.86C660.75 1074.86 665.74 1072.53 670.72 1070.87C675.71 1069.21 680.70 1067.43 685.68 1066.88C692.33 1066.16 698.98 1068.05 705.62 1068.88C712.27 1069.71 718.92 1070.65 725.57 1071.87C733.04 1073.25 740.52 1076.09 748.00 1076.86C751.26 1077.19 754.51 1077.19 757.77 1077.35C761.10 1077.52 764.42 1077.69 767.74 1077.85M569.77 1147.90C571.85 1147.15 573.92 1146.29 576.00 1145.66C582.65 1143.63 589.29 1143.66 595.94 1143.16C602.59 1142.66 609.24 1142.91 615.88 1142.66C622.53 1142.41 629.18 1141.83 635.83 1141.67C642.47 1141.50 649.12 1141.67 655.77 1141.67C662.42 1141.67 669.06 1142.17 675.71 1141.67C682.36 1141.17 689.00 1140.17 695.65 1138.68C702.30 1137.18 708.95 1135.32 715.59 1132.69C720.58 1130.72 725.57 1128.41 730.55 1125.71C736.37 1122.56 742.18 1119.10 748.00 1114.74C750.49 1112.88 752.99 1110.57 755.48 1108.76C757.47 1107.31 759.47 1105.92 761.46 1104.77C763.55 1103.57 765.65 1102.78 767.74 1101.78M397.77 1203.54C399.85 1203.66 401.92 1203.79 404.00 1203.91C413.97 1204.52 423.94 1205.41 433.91 1205.91C443.88 1206.41 453.86 1206.92 463.83 1206.90C470.47 1206.89 477.12 1206.74 483.77 1206.41C490.42 1206.07 497.06 1206.14 503.71 1204.91C508.70 1203.99 513.68 1202.58 518.67 1200.92C523.65 1199.26 528.64 1196.93 533.62 1194.94C538.61 1192.94 543.59 1191.12 548.58 1188.96C553.57 1186.80 558.55 1184.12 563.54 1181.98C567.69 1180.19 571.85 1178.59 576.00 1176.99C580.43 1175.28 584.86 1173.72 589.29 1172.08M599.27 1172.81C601.48 1173.21 603.70 1173.63 605.91 1174.00C610.90 1174.84 615.88 1175.37 620.87 1176.19C627.52 1177.29 634.16 1178.77 640.81 1179.98C647.46 1181.20 654.11 1182.61 660.75 1183.47C667.40 1184.34 674.05 1185.00 680.70 1185.17C687.34 1185.33 693.99 1185.00 700.64 1184.47C707.29 1183.94 713.93 1183.22 720.58 1181.98C725.57 1181.04 730.55 1179.67 735.54 1178.49C739.69 1177.50 743.85 1176.39 748.00 1175.50C750.49 1174.96 752.99 1174.73 755.48 1174.00C759.57 1172.81 763.65 1170.39 767.74 1168.59M569.59 1197.50C571.73 1196.98 573.86 1196.41 576.00 1195.94C582.65 1194.46 589.29 1193.53 595.94 1192.94C602.59 1192.36 609.24 1192.01 615.88 1192.45C620.87 1192.77 625.86 1193.36 630.84 1194.44C635.83 1195.52 640.81 1197.18 645.80 1198.93C650.78 1200.67 655.77 1202.25 660.75 1204.91C665.74 1207.57 670.72 1210.86 675.71 1214.88C679.03 1217.56 682.36 1220.91 685.68 1223.86C690.67 1228.28 695.65 1232.41 700.64 1236.82C705.62 1241.22 710.61 1245.79 715.59 1250.28C720.58 1254.77 725.57 1259.35 730.55 1263.74C736.37 1268.86 742.18 1273.74 748.00 1278.70C754.68 1284.39 761.36 1290.00 768.04 1295.65M483.77 1131.70C485.43 1132.03 487.09 1132.33 488.75 1132.69C493.74 1133.77 498.72 1135.28 503.71 1136.68C510.36 1138.55 517.00 1140.75 523.65 1142.66C530.30 1144.57 536.95 1146.57 543.59 1148.15C550.24 1149.73 556.89 1151.13 563.54 1152.14C567.69 1152.76 571.85 1153.17 576.00 1153.63C582.65 1154.38 589.29 1154.96 595.94 1155.63C602.59 1156.29 609.24 1157.62 615.88 1157.62C622.53 1157.62 629.18 1156.62 635.83 1155.63C642.47 1154.63 649.12 1152.88 655.77 1151.64C662.42 1150.39 669.06 1149.06 675.71 1148.15C682.36 1147.23 689.00 1146.24 695.65 1146.15C702.30 1146.07 708.95 1146.57 715.59 1147.65C722.24 1148.73 728.89 1150.69 735.54 1152.63C739.69 1153.85 743.85 1155.33 748.00 1156.62C751.26 1157.64 754.51 1158.87 757.77 1159.61C761.10 1160.38 764.42 1160.61 767.74 1161.11M507.03 1176.44C509.25 1175.15 511.47 1173.79 513.68 1172.58C520.33 1168.93 526.98 1166.43 533.62 1163.60C540.27 1160.78 546.92 1157.73 553.57 1155.63C561.04 1153.26 568.52 1152.21 576.00 1150.64C582.65 1149.24 589.29 1147.90 595.94 1146.65C602.59 1145.41 609.24 1144.08 615.88 1143.16C622.53 1142.25 629.18 1141.58 635.83 1141.17C642.47 1140.75 649.12 1140.84 655.77 1140.67C662.42 1140.50 669.06 1140.42 675.71 1140.17C682.36 1139.92 689.00 1139.42 695.65 1139.17C702.30 1138.92 708.95 1138.78 715.59 1138.68C726.40 1138.51 737.20 1138.51 748.00 1138.68C754.58 1138.78 761.16 1139.01 767.74 1139.17M63.26 1101.25C68.86 1102.17 74.46 1103.22 80.05 1104.01C86.74 1104.95 93.42 1105.50 100.11 1106.27C105.12 1106.84 110.14 1107.34 115.15 1108.02C118.49 1108.48 121.83 1109.28 125.18 1109.53C128.52 1109.78 131.86 1109.66 135.20 1109.53C138.80 1109.38 142.40 1109.00 145.99 1108.65C149.34 1108.32 152.68 1107.79 156.03 1107.52C159.37 1107.25 162.71 1107.09 166.05 1107.02C169.40 1106.95 172.74 1107.12 176.08 1107.12C179.42 1107.12 182.77 1107.12 186.11 1107.02C189.45 1106.92 192.79 1106.77 196.14 1106.52C199.48 1106.27 202.82 1105.93 206.16 1105.51C209.50 1105.10 212.85 1104.55 216.19 1104.01C219.53 1103.47 222.87 1102.84 226.22 1102.26C228.14 1101.92 230.06 1101.60 231.98 1101.25C238.22 1100.11 244.46 1098.61 250.70 1097.30M467.15 1171.91C469.37 1172.61 471.58 1173.40 473.80 1174.00C483.77 1176.68 493.74 1175.00 503.71 1175.99C513.68 1176.99 523.65 1179.15 533.62 1179.98C543.59 1180.81 553.57 1181.39 563.54 1180.98C567.69 1180.81 571.85 1180.45 576.00 1180.08C582.65 1179.49 589.29 1178.60 595.94 1177.79C602.59 1176.97 609.24 1176.65 615.88 1175.20C617.55 1174.83 619.21 1174.57 620.87 1174.00C622.53 1173.43 624.19 1172.52 625.86 1171.78M63.26 1161.42C68.86 1160.91 74.46 1160.47 80.05 1159.91C86.74 1159.24 93.42 1158.40 100.11 1157.66C103.45 1157.29 106.79 1156.97 110.14 1156.55C113.48 1156.14 116.82 1155.72 120.16 1155.15C123.50 1154.58 126.85 1153.79 130.19 1153.14C135.46 1152.13 140.72 1151.38 145.99 1150.26C151.01 1149.19 156.02 1147.94 161.04 1146.63C164.38 1145.75 167.73 1144.77 171.07 1143.87C173.57 1143.19 176.08 1142.57 178.59 1141.86C181.09 1141.15 183.60 1140.37 186.11 1139.61C189.45 1138.59 192.79 1137.54 196.14 1136.50C199.48 1135.45 202.82 1134.66 206.16 1133.34C209.50 1132.02 212.85 1130.19 216.19 1128.58C219.53 1126.96 222.87 1125.37 226.22 1123.66C228.14 1122.68 230.06 1121.55 231.98 1120.66C234.48 1119.49 236.98 1118.68 239.47 1117.69M63.26 1139.01C68.86 1138.96 74.46 1138.90 80.05 1138.86C86.74 1138.81 93.42 1138.78 100.11 1138.75C105.12 1138.73 110.14 1138.59 115.15 1138.70C118.49 1138.78 121.83 1138.94 125.18 1139.11C128.52 1139.27 131.86 1139.49 135.20 1139.71C138.80 1139.94 142.40 1140.30 145.99 1140.43C151.01 1140.62 156.02 1140.29 161.04 1140.36C166.05 1140.43 171.07 1140.57 176.08 1140.86C179.42 1141.06 182.77 1141.49 186.11 1141.61C189.45 1141.74 192.79 1141.55 196.14 1141.61C199.48 1141.68 202.82 1141.76 206.16 1142.01C209.50 1142.26 212.85 1142.60 216.19 1143.12C219.53 1143.63 222.87 1144.27 226.22 1145.12C228.14 1145.61 230.07 1146.19 231.99 1146.76C238.64 1148.75 245.29 1151.32 251.94 1153.63C258.59 1155.94 265.24 1158.45 271.88 1160.61C278.53 1162.77 285.18 1164.73 291.83 1166.59C296.81 1167.99 301.80 1169.03 306.78 1170.58C310.11 1171.62 313.43 1172.60 316.75 1173.97C318.83 1174.83 320.91 1175.87 322.99 1176.82M397.77 1068.88C399.85 1069.54 401.92 1070.48 404.00 1070.87C408.99 1071.80 413.97 1069.71 418.96 1068.88C423.94 1068.05 428.93 1066.88 433.91 1065.89C438.90 1064.89 443.88 1063.73 448.87 1062.90C453.86 1062.06 458.84 1061.49 463.83 1060.90C470.47 1060.11 477.12 1059.24 483.77 1058.91C490.42 1058.57 497.06 1058.41 503.71 1058.91C510.36 1059.41 517.00 1060.82 523.65 1061.90C530.30 1062.98 536.95 1064.23 543.59 1065.39C550.24 1066.55 556.89 1067.78 563.54 1068.88C567.69 1069.57 571.85 1070.38 576.00 1070.87C582.65 1071.65 589.29 1071.87 595.94 1071.87C602.59 1071.87 609.24 1071.37 615.88 1070.87C622.53 1070.37 629.18 1069.63 635.83 1068.88C642.47 1068.13 649.12 1066.99 655.77 1066.39C660.75 1065.93 665.74 1065.14 670.72 1065.39C675.71 1065.64 680.70 1066.47 685.68 1067.88C690.67 1069.29 695.65 1071.70 700.64 1073.86C705.62 1076.02 710.61 1078.35 715.59 1080.84C720.58 1083.34 725.57 1086.47 730.55 1088.82C736.37 1091.56 742.18 1094.77 748.00 1095.80C751.26 1096.37 754.51 1096.30 757.77 1096.30C761.10 1096.30 764.42 1095.97 767.74 1095.80M62.99 1001.15C66.98 1001.48 70.97 1001.55 74.96 1002.14C79.94 1002.89 84.93 1004.24 89.91 1005.63C94.57 1006.93 99.22 1008.24 103.87 1010.12C109.19 1012.27 114.51 1015.31 119.83 1018.10C123.81 1020.19 127.80 1022.23 131.79 1024.58C133.12 1025.36 134.45 1026.23 135.78 1026.99C139.17 1028.93 142.56 1030.11 145.95 1031.99C148.44 1033.37 150.94 1035.06 153.43 1036.47C155.92 1037.89 158.41 1039.21 160.91 1040.46C163.40 1041.71 165.89 1042.79 168.38 1043.95C170.88 1045.11 173.37 1046.36 175.86 1047.44C178.36 1048.52 180.85 1049.52 183.34 1050.43C185.83 1051.35 188.33 1051.99 190.82 1052.92C192.48 1053.55 194.14 1054.14 195.81 1054.92C199.13 1056.47 202.45 1059.04 205.78 1060.90C210.76 1063.69 215.75 1065.67 220.73 1068.38C224.49 1070.42 228.24 1072.55 232.00 1074.86C236.99 1077.92 241.97 1081.76 246.96 1084.83C251.94 1087.91 256.93 1090.98 261.91 1093.31C266.90 1095.63 271.88 1097.41 276.87 1098.79C281.86 1100.17 286.84 1100.94 291.83 1101.58C298.47 1102.43 305.12 1102.25 311.77 1102.58C318.42 1102.91 325.06 1103.34 331.71 1103.58C338.36 1103.81 345.00 1103.90 351.65 1103.98C359.96 1104.07 368.27 1103.98 376.58 1103.98C385.72 1103.98 394.86 1103.98 404.00 1103.98C413.97 1103.98 423.94 1103.98 433.91 1103.98C443.88 1103.98 453.86 1104.15 463.83 1103.98C468.81 1103.89 473.80 1104.03 478.78 1103.58C483.77 1103.13 488.75 1101.80 493.74 1101.28C500.39 1100.60 507.03 1100.59 513.68 1100.59C520.33 1100.59 526.98 1101.25 533.62 1101.28C540.27 1101.32 546.92 1101.22 553.57 1100.79C561.04 1100.30 568.52 1099.57 576.00 1098.29C582.65 1097.15 589.29 1095.38 595.94 1093.81C602.59 1092.23 609.24 1090.65 615.88 1088.82C622.53 1086.99 629.18 1085.16 635.83 1082.84C642.47 1080.51 649.12 1077.35 655.77 1074.86C662.42 1072.37 669.06 1069.54 675.71 1067.88C682.36 1066.22 689.00 1066.05 695.65 1064.89C702.30 1063.73 708.95 1062.15 715.59 1060.90C722.24 1059.66 728.89 1058.35 735.54 1057.41C739.69 1056.83 743.85 1056.14 748.00 1055.92C751.26 1055.74 754.51 1056.00 757.77 1055.92C761.10 1055.83 764.42 1055.58 767.74 1055.42M62.99 984.70C66.98 985.03 70.97 985.21 74.96 985.69C79.94 986.29 84.93 987.02 89.91 988.19C94.90 989.35 99.88 990.93 104.87 992.67C109.86 994.42 114.84 996.71 119.83 998.66C124.65 1000.53 129.46 1002.44 134.28 1004.14C137.77 1005.37 141.26 1006.65 144.75 1007.63C148.08 1008.56 151.40 1009.42 154.72 1009.92C158.05 1010.42 161.37 1010.67 164.70 1010.62C168.02 1010.57 171.34 1010.13 174.67 1009.62C179.65 1008.86 184.64 1007.46 189.62 1006.13C194.61 1004.80 199.59 1003.23 204.58 1001.65C209.57 1000.07 214.55 998.34 219.54 996.66C223.69 995.26 227.85 993.96 232.00 992.42C235.32 991.19 238.65 989.77 241.97 988.48C245.29 987.20 248.62 985.83 251.94 984.70C255.27 983.57 258.59 982.61 261.91 981.70C266.90 980.34 271.88 979.46 276.87 978.21C281.86 976.97 286.84 975.47 291.83 974.23C296.81 972.98 301.80 971.73 306.78 970.74C311.77 969.74 316.75 968.94 321.74 968.24C326.72 967.55 331.71 967.00 336.70 966.55C341.68 966.10 346.67 965.82 351.65 965.55C356.64 965.29 361.62 965.09 366.61 964.95C371.59 964.82 376.58 964.78 381.57 964.75C389.04 964.71 396.52 964.78 404.00 964.85C408.99 964.90 413.97 964.94 418.96 965.05C423.94 965.17 428.93 965.30 433.91 965.55C438.90 965.80 443.88 966.15 448.87 966.55C453.86 966.95 458.84 967.41 463.83 967.94C468.81 968.48 473.80 969.02 478.78 969.74C483.77 970.45 488.75 971.40 493.74 972.23C498.72 973.06 503.71 973.89 508.70 974.72C513.68 975.56 518.67 976.39 523.65 977.22C528.64 978.05 533.62 978.90 538.61 979.71C542.76 980.39 546.92 980.96 551.07 981.70C555.23 982.45 559.38 983.37 563.54 984.20C567.69 985.03 571.85 985.92 576.00 986.69C580.99 987.61 585.97 988.27 590.96 989.18C595.94 990.10 600.93 991.01 605.91 992.17C610.90 993.34 615.88 994.83 620.87 996.16C625.86 997.49 630.84 998.99 635.83 1000.15C640.81 1001.31 645.80 1002.64 650.78 1003.14C655.77 1003.64 660.75 1003.47 665.74 1003.14C670.72 1002.81 675.71 1002.19 680.70 1001.15C683.35 1000.59 686.01 999.86 688.67 999.15C692.66 998.09 696.65 996.84 700.64 995.66C705.62 994.19 710.61 992.59 715.59 991.18C720.58 989.76 725.57 988.23 730.55 987.19C736.37 985.97 742.18 985.27 748.00 984.70C751.86 984.32 755.71 984.06 759.57 983.90C762.39 983.78 765.22 983.77 768.04 983.70M226.22 1124.07C228.14 1124.12 230.07 1124.45 232.00 1124.22C236.99 1123.62 241.97 1119.23 246.96 1116.74C251.94 1114.25 256.93 1111.34 261.91 1109.26C266.90 1107.18 271.88 1105.55 276.87 1104.28C281.86 1103.00 286.84 1102.20 291.83 1101.58C298.47 1100.76 305.12 1100.63 311.77 1100.59C316.75 1100.56 321.74 1100.54 326.72 1100.98C331.71 1101.43 336.70 1102.07 341.68 1103.28C346.67 1104.49 351.65 1106.10 356.64 1108.26C361.62 1110.42 366.61 1113.42 371.59 1116.24C376.58 1119.07 381.57 1122.09 386.55 1125.21C392.37 1128.86 398.18 1132.33 404.00 1136.68C407.32 1139.17 410.65 1141.50 413.97 1144.66C417.29 1147.82 420.62 1151.64 423.94 1155.63C427.27 1159.61 430.59 1164.75 433.91 1168.59C435.57 1170.51 437.24 1172.34 438.90 1173.99C442.22 1177.27 445.55 1179.73 448.87 1181.98C452.19 1184.22 455.52 1186.14 458.84 1187.46C463.83 1189.44 468.81 1189.48 473.80 1189.95C480.44 1190.59 487.09 1190.04 493.74 1189.95C500.39 1189.87 507.03 1189.46 513.68 1189.46C520.33 1189.46 526.98 1189.21 533.62 1189.95C540.27 1190.70 546.92 1192.54 553.57 1193.94C561.04 1195.52 568.52 1196.76 576.00 1198.93C582.65 1200.85 589.29 1203.58 595.94 1205.91C602.59 1208.23 609.24 1210.73 615.88 1212.89C622.53 1215.05 629.18 1217.00 635.83 1218.87C640.81 1220.27 645.80 1221.69 650.78 1222.86C655.77 1224.02 660.75 1225.43 665.74 1225.85C670.72 1226.26 675.71 1225.85 680.70 1225.35C685.68 1224.85 690.67 1224.27 695.65 1222.86C700.64 1221.45 705.62 1219.37 710.61 1216.88C715.59 1214.38 720.58 1211.19 725.57 1207.90C728.89 1205.71 732.21 1202.86 735.54 1200.92C739.69 1198.49 743.85 1196.68 748.00 1195.44C754.68 1193.43 761.36 1194.44 768.04 1193.94M63.19 1054.62C67.11 1054.22 71.03 1053.63 74.96 1053.42C78.28 1053.25 81.60 1053.21 84.93 1053.32C88.25 1053.44 91.57 1053.77 94.90 1054.12C98.22 1054.47 101.55 1055.04 104.87 1055.42C108.19 1055.80 111.52 1055.75 114.84 1056.41C118.16 1057.08 121.49 1058.41 124.81 1059.41C128.14 1060.40 131.46 1061.28 134.78 1062.40C138.51 1063.65 142.23 1065.93 145.95 1066.58C149.27 1067.17 152.60 1066.62 155.92 1066.58C159.24 1066.55 162.57 1066.25 165.89 1066.39C169.22 1066.52 172.54 1067.02 175.86 1067.38C179.19 1067.75 182.51 1068.16 185.83 1068.58C189.16 1068.99 192.48 1069.49 195.81 1069.88C199.13 1070.26 202.45 1070.62 205.78 1070.87C209.10 1071.12 212.42 1071.43 215.75 1071.37C218.24 1071.33 220.73 1070.99 223.23 1070.87C226.15 1070.73 229.08 1070.74 232.00 1070.62C238.65 1070.37 245.29 1070.00 251.94 1069.38C258.59 1068.75 265.24 1068.05 271.88 1066.88C278.53 1065.72 285.18 1063.64 291.83 1062.40C298.47 1061.15 305.12 1060.12 311.77 1059.41C318.42 1058.69 325.06 1058.11 331.71 1058.11C338.36 1058.11 345.00 1058.69 351.65 1059.41C358.30 1060.12 364.95 1061.07 371.59 1062.40C378.24 1063.73 384.89 1065.76 391.54 1067.38C395.69 1068.40 399.85 1069.39 404.00 1070.37C408.99 1071.56 413.97 1072.62 418.96 1073.86C423.94 1075.11 428.93 1076.61 433.91 1077.85C438.90 1079.10 443.88 1080.18 448.87 1081.34C453.86 1082.51 458.84 1083.92 463.83 1084.83C468.81 1085.75 473.80 1086.00 478.78 1086.83C483.77 1087.66 488.75 1088.71 493.74 1089.82C500.39 1091.29 507.03 1092.97 513.68 1094.80C520.33 1096.63 526.98 1098.63 533.62 1100.79C540.27 1102.95 546.92 1105.28 553.57 1107.77C561.04 1110.56 568.52 1113.55 576.00 1116.74C582.65 1119.57 589.29 1122.80 595.94 1125.71C602.59 1128.62 609.24 1131.53 615.88 1134.19C622.53 1136.85 629.18 1139.42 635.83 1141.67C642.47 1143.91 649.12 1145.82 655.77 1147.65C662.42 1149.48 669.06 1151.14 675.71 1152.63C682.36 1154.13 689.00 1155.46 695.65 1156.62C702.30 1157.79 708.95 1158.62 715.59 1159.61C722.24 1160.61 728.89 1161.57 735.54 1162.61C739.69 1163.25 743.85 1163.83 748.00 1164.60C751.26 1165.20 754.51 1165.94 757.77 1166.59C761.10 1167.27 764.42 1167.92 767.74 1168.59M63.19 1077.35C67.11 1077.02 71.03 1076.83 74.96 1076.36C79.94 1075.75 84.93 1074.69 89.91 1073.86C94.90 1073.03 99.88 1072.12 104.87 1071.37C109.86 1070.62 114.84 1069.96 119.83 1069.38C124.81 1068.80 129.80 1068.48 134.78 1067.88C138.51 1067.44 142.23 1066.92 145.95 1066.39C149.27 1065.91 152.60 1065.47 155.92 1064.89C159.24 1064.31 162.57 1063.39 165.89 1062.90C169.22 1062.40 172.54 1062.15 175.86 1061.90C179.19 1061.65 182.51 1061.50 185.83 1061.40C189.16 1061.30 192.48 1061.30 195.81 1061.30C199.13 1061.30 202.45 1061.27 205.78 1061.40C209.10 1061.53 212.42 1061.85 215.75 1062.10C219.07 1062.35 222.39 1062.57 225.72 1062.90C227.81 1063.10 229.91 1063.33 232.00 1063.59C238.65 1064.42 245.29 1065.75 251.94 1066.88C258.59 1068.01 265.24 1068.88 271.88 1070.37C278.53 1071.87 285.18 1074.11 291.83 1075.86C298.47 1077.60 305.12 1079.35 311.77 1080.84C318.42 1082.34 325.06 1083.88 331.71 1084.83C336.70 1085.54 341.68 1086.24 346.67 1086.33C351.65 1086.41 356.64 1085.68 361.62 1085.33C368.27 1084.86 374.92 1084.45 381.57 1083.83C389.04 1083.15 396.52 1081.66 404.00 1081.34C413.97 1080.92 423.94 1081.74 433.91 1082.84C440.56 1083.57 447.21 1085.16 453.86 1085.83C460.50 1086.49 467.15 1087.19 473.80 1086.83C478.78 1086.55 483.77 1085.75 488.75 1084.83C493.74 1083.92 498.72 1082.22 503.71 1081.34C510.36 1080.17 517.00 1079.68 523.65 1079.35C530.30 1079.02 536.95 1079.02 543.59 1079.35C550.24 1079.68 556.89 1080.51 563.54 1081.34C567.69 1081.86 571.85 1082.35 576.00 1083.09C582.65 1084.27 589.29 1086.37 595.94 1087.82C602.59 1089.28 609.24 1090.32 615.88 1091.81C622.53 1093.31 629.18 1094.97 635.83 1096.80C642.47 1098.63 649.12 1101.12 655.77 1102.78C662.42 1104.44 669.06 1105.69 675.71 1106.77C682.36 1107.85 689.00 1108.93 695.65 1109.26C702.30 1109.59 708.95 1109.34 715.59 1108.76C722.24 1108.18 728.89 1107.14 735.54 1105.77C739.69 1104.92 743.85 1103.46 748.00 1102.78C751.26 1102.25 754.51 1102.03 757.77 1101.78C761.10 1101.53 764.42 1101.45 767.74 1101.28M62.99 1026.57C66.98 1024.91 70.97 1023.22 74.96 1021.59C79.94 1019.55 84.93 1017.58 89.91 1015.61C94.57 1013.76 99.22 1011.78 103.87 1010.12C109.19 1008.23 114.51 1006.25 119.83 1005.14C124.65 1004.12 129.46 1004.12 134.28 1003.44C139.44 1002.71 144.59 1001.62 149.74 1000.85C154.72 1000.10 159.71 999.72 164.70 998.85C169.68 997.99 174.67 996.81 179.65 995.66C186.30 994.14 192.95 992.28 199.59 990.68C204.58 989.48 209.57 988.27 214.55 987.19C220.37 985.92 226.18 984.44 232.00 983.70C236.99 983.06 241.97 982.95 246.96 982.70C251.94 982.45 256.93 982.12 261.91 982.20C266.90 982.29 271.88 982.70 276.87 983.20C281.86 983.70 286.84 984.48 291.83 985.19C296.81 985.91 301.80 986.77 306.78 987.49C311.77 988.20 316.75 989.03 321.74 989.48C326.72 989.93 331.71 990.06 336.70 990.18C341.68 990.30 346.67 990.35 351.65 990.18C356.64 990.01 361.62 989.51 366.61 989.18C371.59 988.85 376.58 988.46 381.57 988.19C389.04 987.77 396.52 987.59 404.00 987.34C408.99 987.17 413.97 987.00 418.96 986.89C423.94 986.78 428.93 986.64 433.91 986.69C438.90 986.74 443.88 987.02 448.87 987.19C453.86 987.35 458.84 987.60 463.83 987.69C468.81 987.77 473.80 987.77 478.78 987.69C483.77 987.60 488.75 987.44 493.74 987.19C498.72 986.94 503.71 986.61 508.70 986.19C513.68 985.78 518.67 985.36 523.65 984.70C528.64 984.03 533.62 983.02 538.61 982.20C542.76 981.53 546.92 981.04 551.07 980.21C555.23 979.38 559.38 978.13 563.54 977.22C567.69 976.30 571.85 975.62 576.00 974.72C580.99 973.65 585.97 972.48 590.96 971.23C595.94 969.99 600.93 968.49 605.91 967.25C610.90 966.00 615.88 964.75 620.87 963.76C625.86 962.76 630.84 961.93 635.83 961.26C640.81 960.60 645.80 960.05 650.78 959.77C655.77 959.49 660.75 959.44 665.74 959.57C670.72 959.70 675.71 960.03 680.70 960.57C685.68 961.10 690.67 961.86 695.65 962.76C700.64 963.66 705.62 964.79 710.61 965.95C715.59 967.11 720.58 968.34 725.57 969.74C728.89 970.67 732.21 971.68 735.54 972.73C739.69 974.04 743.85 975.63 748.00 976.92C751.86 978.11 755.71 978.83 759.57 980.21C762.39 981.22 765.22 982.54 768.04 983.70M62.99 1256.76C71.97 1256.59 80.94 1256.42 89.91 1256.26C99.88 1256.08 109.86 1255.68 119.83 1255.76C129.80 1255.85 139.77 1256.03 149.74 1256.76C156.39 1257.25 163.03 1257.92 169.68 1258.75C176.33 1259.58 182.98 1260.50 189.62 1261.74C196.27 1262.99 202.92 1264.74 209.57 1266.23C217.04 1267.90 224.52 1269.25 232.00 1271.22C238.65 1272.97 245.29 1275.54 251.94 1277.20C258.59 1278.86 265.24 1280.27 271.88 1281.19C278.53 1282.10 285.18 1282.40 291.83 1282.68C298.47 1282.97 305.12 1283.13 311.77 1282.88C318.42 1282.63 325.06 1282.05 331.71 1281.19C338.36 1280.32 345.00 1279.19 351.65 1277.70C358.30 1276.20 364.95 1274.21 371.59 1272.21C378.24 1270.22 384.89 1267.71 391.54 1265.73C395.69 1264.50 399.85 1263.32 404.00 1262.24C408.99 1260.95 413.97 1259.67 418.96 1258.75C423.94 1257.84 428.93 1257.59 433.91 1256.76C438.90 1255.93 443.88 1255.10 448.87 1253.77C453.86 1252.44 458.84 1250.61 463.83 1248.78C468.81 1246.95 473.80 1244.50 478.78 1242.80C482.11 1241.67 485.43 1240.32 488.75 1239.81C493.74 1239.04 498.72 1240.40 503.71 1240.81C510.36 1241.34 517.00 1242.77 523.65 1242.80C528.64 1242.82 533.62 1242.47 538.61 1241.80C543.59 1241.14 548.58 1239.92 553.57 1238.81C561.04 1237.15 568.52 1235.56 576.00 1233.08C580.99 1231.42 585.97 1229.21 590.96 1227.34C595.94 1225.48 600.93 1223.86 605.91 1221.86C610.90 1219.87 615.88 1217.29 620.87 1215.38C625.86 1213.47 630.84 1211.93 635.83 1210.39C642.47 1208.34 649.12 1206.41 655.77 1204.91C662.42 1203.41 669.06 1202.42 675.71 1201.42C682.36 1200.42 689.00 1199.68 695.65 1198.93C702.30 1198.18 708.95 1197.51 715.59 1196.93C722.24 1196.35 728.89 1195.96 735.54 1195.44C739.69 1195.11 743.85 1194.92 748.00 1194.44C754.68 1193.67 761.36 1192.11 768.04 1190.95M62.99 1189.95C66.98 1188.79 70.97 1187.69 74.96 1186.46C80.94 1184.62 86.92 1182.33 92.90 1180.48C96.89 1179.25 100.88 1178.13 104.87 1176.99C108.41 1175.98 111.95 1175.01 115.49 1174.00C118.72 1173.08 121.95 1172.06 125.18 1171.19C128.52 1170.29 131.86 1169.61 135.20 1168.69C138.80 1167.70 142.40 1166.46 145.99 1165.43C149.34 1164.46 152.68 1163.55 156.03 1162.67C159.37 1161.79 162.71 1161.08 166.05 1160.16C169.40 1159.24 172.74 1158.07 176.08 1157.15C179.42 1156.24 182.77 1155.48 186.11 1154.65C189.45 1153.81 192.79 1152.98 196.14 1152.14C199.48 1151.31 202.82 1150.55 206.16 1149.63C209.50 1148.71 212.85 1147.55 216.19 1146.63C219.53 1145.71 222.87 1145.15 226.22 1144.12C228.14 1143.52 230.07 1142.74 231.99 1142.14C236.98 1140.59 241.97 1139.59 246.96 1138.68C251.94 1137.77 256.93 1137.19 261.91 1136.68C268.56 1136.00 275.21 1135.73 281.86 1135.48C288.50 1135.24 295.15 1135.19 301.80 1135.19C308.44 1135.19 315.09 1135.32 321.74 1135.48C328.39 1135.65 335.03 1135.82 341.68 1136.18C348.33 1136.55 354.98 1137.10 361.62 1137.68C368.27 1138.26 374.92 1138.83 381.57 1139.67C389.04 1140.62 396.52 1141.33 404.00 1143.16C410.65 1144.79 417.29 1147.40 423.94 1149.64C430.59 1151.89 437.24 1154.30 443.88 1156.62C450.53 1158.95 457.18 1161.44 463.83 1163.60C470.47 1165.76 477.12 1167.62 483.77 1169.59C488.75 1171.06 493.74 1172.50 498.72 1173.97C501.49 1174.79 504.26 1175.62 507.03 1176.44M62.99 1292.16C68.64 1287.34 74.29 1282.64 79.94 1277.70C86.59 1271.89 93.24 1265.57 99.88 1259.75C104.54 1255.68 109.19 1251.95 113.84 1247.79C119.16 1243.03 124.48 1237.77 129.80 1232.83C134.12 1228.81 138.44 1224.46 142.76 1220.86C146.75 1217.54 150.74 1214.62 154.72 1211.89C159.71 1208.48 164.70 1206.06 169.68 1202.92C173.00 1200.82 176.33 1198.29 179.65 1196.43C186.30 1192.72 192.95 1190.62 199.59 1188.96C206.24 1187.29 212.89 1187.16 219.54 1186.46C223.69 1186.03 227.85 1185.42 232.00 1185.32C238.65 1185.15 245.29 1185.46 251.94 1186.96C256.93 1188.09 261.91 1190.20 266.90 1191.95C271.88 1193.69 276.87 1195.77 281.86 1197.43C286.84 1199.09 291.83 1200.84 296.81 1201.92C301.80 1203.00 306.78 1203.43 311.77 1203.91C318.42 1204.56 325.06 1204.58 331.71 1204.91C338.36 1205.24 345.00 1205.91 351.65 1205.91C358.30 1205.91 364.95 1205.33 371.59 1204.91C378.24 1204.49 384.89 1203.77 391.54 1203.41C395.69 1203.19 399.85 1203.02 404.00 1202.92C410.65 1202.75 417.29 1203.04 423.94 1202.92C428.93 1202.82 433.91 1202.04 438.90 1202.42C442.22 1202.67 445.55 1202.83 448.87 1203.91C452.19 1204.99 455.52 1206.74 458.84 1208.90C462.16 1211.06 465.49 1214.05 468.81 1216.88C472.14 1219.70 475.46 1222.19 478.78 1225.85C482.11 1229.51 485.43 1234.71 488.75 1238.81C493.74 1244.96 498.72 1248.11 503.71 1255.76C504.59 1257.11 505.47 1258.66 506.35 1260.00C509.77 1265.21 513.19 1268.49 516.61 1272.31C521.40 1277.66 526.19 1282.03 530.97 1286.68C536.45 1291.99 541.92 1297.15 547.39 1302.07C554.23 1308.22 561.07 1314.38 567.91 1319.51C574.75 1324.64 581.59 1328.75 588.43 1332.85C595.28 1336.96 602.12 1341.06 608.96 1344.14C615.80 1347.22 622.64 1349.71 629.48 1351.32C636.32 1352.93 643.16 1353.72 650.00 1353.78C656.84 1353.85 663.68 1353.00 670.52 1351.73C677.36 1350.47 684.20 1348.82 691.04 1346.19C697.88 1343.56 704.72 1339.86 711.57 1335.93C718.41 1332.00 725.25 1327.38 732.09 1322.59C738.93 1317.80 745.77 1312.47 752.61 1307.20C757.40 1303.51 762.19 1299.68 766.97 1295.91M63.19 1039.46C67.11 1039.96 71.03 1040.62 74.96 1040.96C78.28 1041.24 81.60 1041.56 84.93 1041.46C87.42 1041.38 89.91 1041.31 92.41 1040.76C94.90 1040.21 97.39 1039.32 99.88 1038.17C101.55 1037.40 103.21 1036.59 104.87 1035.48C106.53 1034.36 108.19 1033.30 109.86 1031.49C111.02 1030.22 112.18 1028.40 113.34 1026.99C116.17 1023.54 119.00 1021.19 121.82 1018.10C125.97 1013.55 130.13 1008.53 134.28 1003.64C137.77 999.53 141.26 995.30 144.75 991.18C149.74 985.29 154.72 979.19 159.71 973.73C163.03 970.08 166.36 966.66 169.68 963.26C172.34 960.54 175.00 957.90 177.66 955.28C181.65 951.36 185.63 947.51 189.62 943.81C192.95 940.74 196.27 937.75 199.59 934.84C202.92 931.93 206.24 929.11 209.57 926.37C212.89 923.62 216.21 920.96 219.54 918.39C223.69 915.18 227.85 911.94 232.00 909.17C236.99 905.83 241.97 902.97 246.96 900.44C251.94 897.91 256.93 895.62 261.91 893.96C266.90 892.30 271.88 891.22 276.87 890.47C281.86 889.72 286.84 889.47 291.83 889.47C296.81 889.47 301.80 889.72 306.78 890.47C311.77 891.22 316.75 892.46 321.74 893.96C326.72 895.46 331.71 897.37 336.70 899.44C341.68 901.52 346.67 903.85 351.65 906.42C356.64 909.00 361.62 911.91 366.61 914.90C371.59 917.89 376.58 921.01 381.57 924.37C384.89 926.61 388.21 929.02 391.54 931.35C395.69 934.26 399.85 936.89 404.00 940.08C407.16 942.49 410.31 945.17 413.47 947.80C416.96 950.72 420.45 953.71 423.94 956.78C427.27 959.70 430.59 962.84 433.91 965.75C437.24 968.66 440.56 971.30 443.88 974.23C447.87 977.74 451.86 981.54 455.85 985.19C459.84 988.85 463.83 992.52 467.81 996.16C471.47 999.50 475.13 1002.92 478.78 1006.13C482.11 1009.05 485.43 1011.87 488.75 1014.61C492.08 1017.35 495.40 1019.74 498.72 1022.59C500.39 1024.01 502.05 1025.70 503.71 1026.99C507.03 1029.55 510.36 1030.49 513.68 1032.48C517.00 1034.48 520.33 1037.05 523.65 1038.97C528.64 1041.84 533.62 1043.78 538.61 1045.94C543.59 1048.11 548.58 1050.31 553.57 1051.93C561.04 1054.35 568.52 1055.81 576.00 1056.66C580.99 1057.23 585.97 1057.54 590.96 1057.41C595.94 1057.29 600.93 1056.91 605.91 1055.92C610.90 1054.92 615.88 1053.17 620.87 1051.43C625.86 1049.68 630.84 1047.44 635.83 1045.45C640.81 1043.45 645.80 1041.21 650.78 1039.46C655.77 1037.72 660.75 1036.22 665.74 1034.98C670.72 1033.73 675.71 1032.98 680.70 1031.99C685.68 1030.99 690.67 1029.99 695.65 1028.99C698.98 1028.33 702.30 1027.30 705.62 1027.00C708.28 1026.76 710.94 1026.99 713.60 1026.99M62.99 1194.44C71.97 1197.27 80.94 1199.65 89.91 1202.92C96.56 1205.33 103.21 1208.40 109.86 1210.89C116.50 1213.39 123.15 1215.86 129.80 1217.87C134.78 1219.38 139.77 1220.37 144.75 1221.86C149.74 1223.36 154.72 1225.52 159.71 1226.85C164.70 1228.18 169.68 1228.92 174.67 1229.84C179.65 1230.75 184.64 1231.83 189.62 1232.33C194.61 1232.83 199.59 1232.91 204.58 1232.83C209.57 1232.75 214.55 1232.36 219.54 1231.83C223.69 1231.39 227.85 1230.88 232.00 1230.09C236.99 1229.14 241.97 1227.89 246.96 1226.35C251.94 1224.81 256.93 1222.94 261.91 1220.86C266.90 1218.79 271.88 1216.38 276.87 1213.88C281.86 1211.39 286.84 1208.77 291.83 1205.91C295.15 1204.00 298.47 1201.75 301.80 1199.92C305.12 1198.10 308.44 1196.35 311.77 1194.94C315.09 1193.53 318.42 1192.28 321.74 1191.45C325.06 1190.62 328.39 1190.25 331.71 1189.95C336.70 1189.50 341.68 1190.12 346.67 1189.95C351.65 1189.79 356.64 1189.99 361.62 1188.96C364.95 1188.27 368.27 1187.56 371.59 1185.97C374.25 1184.69 376.91 1183.18 379.57 1180.98C381.90 1179.06 384.22 1176.26 386.55 1173.99C389.87 1170.74 393.20 1167.59 396.52 1164.60C399.01 1162.36 401.51 1160.58 404.00 1158.12C407.32 1154.83 410.65 1150.36 413.97 1146.65C418.96 1141.09 423.94 1135.35 428.93 1130.70C433.91 1126.05 438.90 1122.22 443.88 1118.73C448.87 1115.24 453.86 1112.09 458.84 1109.76C463.83 1107.43 468.81 1106.02 473.80 1104.77C478.78 1103.53 483.77 1102.86 488.75 1102.28C493.74 1101.70 498.72 1101.47 503.71 1101.28C510.36 1101.03 517.00 1100.87 523.65 1101.28C530.30 1101.70 536.95 1102.41 543.59 1103.78C548.58 1104.80 553.57 1106.13 558.55 1107.77C564.37 1109.67 570.18 1112.21 576.00 1114.74C578.22 1115.71 580.43 1116.74 582.65 1117.74M341.68 1177.99C348.33 1176.65 354.98 1175.21 361.62 1173.97C368.27 1172.74 374.92 1171.88 381.57 1170.58C389.04 1169.13 396.52 1166.28 404.00 1165.60C410.65 1164.99 417.29 1165.60 423.94 1166.10C430.59 1166.59 437.24 1167.67 443.88 1168.59C450.53 1169.50 457.18 1170.75 463.83 1171.58C470.47 1172.41 477.12 1173.18 483.77 1173.57C490.42 1173.97 497.06 1174.55 503.71 1173.97C507.03 1173.68 510.36 1173.04 513.68 1172.58M63.26 1159.31C68.86 1158.59 74.46 1157.74 80.05 1157.15C86.74 1156.46 93.42 1155.82 100.11 1155.65C103.45 1155.57 106.79 1155.48 110.14 1155.65C113.48 1155.82 116.82 1156.19 120.16 1156.65C123.50 1157.11 126.85 1157.81 130.19 1158.41C135.46 1159.34 140.72 1160.64 145.99 1161.29C149.34 1161.71 152.68 1161.84 156.03 1162.17C159.37 1162.50 162.71 1163.01 166.05 1163.27C171.07 1163.67 176.08 1163.77 181.09 1163.77C186.11 1163.77 191.12 1163.64 196.14 1163.27C199.48 1163.03 202.82 1162.69 206.16 1162.27C209.50 1161.85 212.85 1161.35 216.19 1160.76C219.53 1160.18 222.87 1159.41 226.22 1158.76C228.14 1158.38 230.07 1157.98 231.99 1157.64C236.98 1156.75 241.97 1156.63 246.96 1155.63C251.94 1154.63 256.93 1153.13 261.91 1151.64C266.90 1150.14 271.88 1148.15 276.87 1146.65C281.86 1145.16 286.84 1143.96 291.83 1142.66C298.47 1140.94 305.12 1139.09 311.77 1137.68C318.42 1136.27 325.06 1134.60 331.71 1134.19C338.36 1133.77 345.00 1134.60 351.65 1135.19C358.30 1135.77 364.95 1136.66 371.59 1137.68C382.40 1139.34 393.20 1142.50 404.00 1144.16C410.65 1145.18 417.29 1145.07 423.94 1146.65C430.59 1148.23 437.24 1150.97 443.88 1153.63C450.53 1156.29 457.18 1159.78 463.83 1162.61C470.47 1165.43 477.12 1168.19 483.77 1170.58C487.09 1171.78 490.42 1172.98 493.74 1173.97C495.95 1174.63 498.17 1175.17 500.39 1175.77M63.19 1091.01C67.11 1086.96 71.03 1082.66 74.96 1078.85C77.45 1076.43 79.94 1074.28 82.43 1071.87C84.93 1069.46 87.42 1066.63 89.91 1064.39C92.41 1062.15 94.90 1060.01 97.39 1058.41C99.05 1057.34 100.71 1056.46 102.38 1055.72C104.04 1054.97 105.70 1054.39 107.36 1053.92C109.86 1053.22 112.35 1053.02 114.84 1052.73C118.16 1052.34 121.49 1052.26 124.81 1052.13C128.53 1051.98 132.26 1052.00 135.98 1051.93C139.30 1051.86 142.63 1052.31 145.95 1051.73C149.27 1051.15 152.60 1049.73 155.92 1048.44C159.24 1047.14 162.57 1045.48 165.89 1043.95C168.38 1042.81 170.88 1041.64 173.37 1040.46C176.36 1039.05 179.35 1037.63 182.34 1036.17C185.17 1034.80 187.99 1033.34 190.82 1031.99C193.31 1030.79 195.81 1029.63 198.30 1028.50C203.72 1026.04 209.13 1023.86 214.55 1021.59C220.37 1019.15 226.18 1016.15 232.00 1014.36C236.99 1012.82 241.97 1011.91 246.96 1011.12C251.94 1010.33 256.93 1009.87 261.91 1009.62C266.90 1009.37 271.88 1009.37 276.87 1009.62C281.86 1009.87 286.84 1010.37 291.83 1011.12C296.81 1011.87 301.80 1012.95 306.78 1014.11C311.77 1015.27 316.75 1016.85 321.74 1018.10C326.72 1019.34 331.71 1020.34 336.70 1021.59C341.68 1022.83 346.67 1024.19 351.65 1025.58C353.31 1026.04 354.98 1026.43 356.64 1026.99C361.62 1028.67 366.61 1032.07 371.59 1034.48C376.58 1036.89 381.57 1039.45 386.55 1041.46C392.37 1043.80 398.18 1045.26 404.00 1047.19C410.65 1049.40 417.29 1051.64 423.94 1053.92C430.59 1056.21 437.24 1058.74 443.88 1060.90C450.53 1063.06 457.18 1064.89 463.83 1066.88C470.47 1068.88 477.12 1070.87 483.77 1072.87C490.42 1074.86 497.06 1076.86 503.71 1078.85C510.36 1080.84 517.00 1082.67 523.65 1084.83C530.30 1086.99 536.95 1089.82 543.59 1091.81C550.24 1093.81 556.89 1095.50 563.54 1096.80C567.69 1097.61 571.85 1098.14 576.00 1098.79C582.65 1099.83 589.29 1100.79 595.94 1101.78C602.59 1102.78 609.24 1103.94 615.88 1104.77C622.53 1105.60 629.18 1106.35 635.83 1106.77C642.47 1107.18 649.12 1107.18 655.77 1107.27C662.42 1107.35 669.06 1107.35 675.71 1107.27C682.36 1107.18 689.00 1107.02 695.65 1106.77C702.30 1106.52 708.95 1106.35 715.59 1105.77C722.24 1105.19 728.89 1104.25 735.54 1103.28C739.69 1102.67 743.85 1101.58 748.00 1101.28C751.26 1101.06 754.51 1101.36 757.77 1101.28C761.10 1101.20 764.42 1100.95 767.74 1100.79M63.26 1102.26C68.86 1103.34 74.46 1104.54 80.05 1105.51C86.74 1106.68 93.42 1107.65 100.11 1108.52C105.12 1109.18 110.14 1109.65 115.15 1110.28C120.16 1110.90 125.18 1111.55 130.19 1112.28C135.46 1113.05 140.72 1113.58 145.99 1114.79C149.34 1115.56 152.68 1116.59 156.03 1117.55C159.37 1118.51 162.71 1119.55 166.05 1120.56C169.40 1121.56 172.74 1122.48 176.08 1123.56C179.42 1124.65 182.77 1125.90 186.11 1127.07C189.45 1128.24 192.79 1129.33 196.14 1130.58C199.48 1131.84 202.82 1133.47 206.16 1134.59C209.50 1135.72 212.85 1136.43 216.19 1137.35C219.53 1138.27 222.87 1138.84 226.22 1140.11C228.14 1140.84 230.07 1141.89 231.99 1142.64C236.98 1144.59 241.97 1145.15 246.96 1146.65C251.94 1148.15 256.93 1149.81 261.91 1151.64C266.90 1153.47 271.88 1155.63 276.87 1157.62C281.86 1159.61 286.84 1161.77 291.83 1163.60C296.81 1165.43 301.80 1167.09 306.78 1168.59C311.77 1170.08 316.75 1171.19 321.74 1172.58C323.40 1173.04 325.06 1173.52 326.72 1173.99C331.71 1175.38 336.70 1176.82 341.68 1177.99C346.67 1179.15 351.65 1180.07 356.64 1180.98C361.62 1181.89 366.61 1182.72 371.59 1183.47C376.58 1184.22 381.57 1184.88 386.55 1185.47C392.37 1186.15 398.18 1186.66 404.00 1187.21C410.65 1187.84 417.29 1188.63 423.94 1188.96C430.59 1189.28 437.24 1189.43 443.88 1189.16C448.87 1188.95 453.86 1188.66 458.84 1187.96C463.83 1187.26 468.81 1186.21 473.80 1184.97C478.78 1183.72 483.77 1182.13 488.75 1180.48C492.08 1179.38 495.40 1178.71 498.72 1176.99C500.39 1176.13 502.05 1174.91 503.71 1173.99C510.36 1170.29 517.00 1169.16 523.65 1166.59C530.30 1164.03 536.95 1161.44 543.59 1158.62C550.24 1155.79 556.89 1151.94 563.54 1149.64C567.69 1148.21 571.85 1147.31 576.00 1146.15C582.65 1144.31 589.29 1142.75 595.94 1140.67C602.59 1138.59 609.24 1136.02 615.88 1133.69C622.53 1131.36 629.18 1128.87 635.83 1126.71C642.47 1124.55 649.12 1122.56 655.77 1120.73C662.42 1118.90 669.06 1117.40 675.71 1115.74C682.36 1114.08 689.00 1112.09 695.65 1110.76C702.30 1109.43 708.95 1108.60 715.59 1107.77C722.24 1106.93 728.89 1106.35 735.54 1105.77C739.69 1105.41 743.85 1105.28 748.00 1104.77C751.26 1104.38 754.51 1103.69 757.77 1103.28C761.10 1102.86 764.42 1102.61 767.74 1102.28M62.99 1187.46C68.64 1186.46 74.29 1185.20 79.94 1184.47C84.93 1183.83 89.91 1183.34 94.90 1183.17C99.88 1183.01 104.87 1183.34 109.86 1183.47C116.50 1183.65 123.15 1184.12 129.80 1184.17C134.78 1184.21 139.77 1184.17 144.75 1183.97C149.74 1183.77 154.72 1183.56 159.71 1182.97C164.70 1182.39 169.68 1181.40 174.67 1180.48C179.65 1179.57 184.64 1178.40 189.62 1177.49C194.61 1176.58 199.59 1175.77 204.58 1175.00C206.78 1174.65 208.97 1174.36 211.17 1174.00C214.51 1173.46 217.86 1172.63 221.20 1172.20C224.80 1171.73 228.40 1171.34 231.99 1171.39C236.98 1171.45 241.97 1173.02 246.96 1173.37C255.27 1173.96 263.57 1173.62 271.88 1172.58C278.53 1171.74 285.18 1169.92 291.83 1168.59C298.47 1167.26 305.12 1165.60 311.77 1164.60C318.42 1163.60 325.06 1163.10 331.71 1162.61C338.36 1162.11 345.00 1162.27 351.65 1161.61C358.30 1160.94 364.95 1159.95 371.59 1158.62C378.24 1157.29 384.89 1155.25 391.54 1153.63C395.69 1152.62 399.85 1151.63 404.00 1150.64C408.43 1149.58 412.86 1148.54 417.29 1147.48M62.99 1192.45C71.97 1194.27 80.94 1195.86 89.91 1197.93C96.56 1199.46 103.21 1201.25 109.86 1202.92C116.50 1204.58 123.15 1206.07 129.80 1207.90C136.44 1209.73 143.09 1211.97 149.74 1213.88C156.39 1215.80 163.03 1217.37 169.68 1219.37C176.33 1221.36 182.98 1223.44 189.62 1225.85C196.27 1228.26 202.92 1231.20 209.57 1233.83C217.04 1236.78 224.52 1238.77 232.00 1242.55C236.99 1245.07 241.97 1248.16 246.96 1251.28C256.46 1257.21 265.97 1264.42 275.48 1271.29C281.98 1275.98 288.48 1280.49 294.97 1285.65C302.16 1291.36 309.34 1298.36 316.52 1304.12C323.36 1309.61 330.20 1314.72 337.04 1319.51C343.88 1324.30 350.72 1328.75 357.57 1332.85C364.41 1336.96 371.25 1341.06 378.09 1344.14C384.93 1347.22 391.77 1349.77 398.61 1351.32C403.74 1352.48 408.87 1353.31 414.00 1353.37C420.84 1353.46 427.68 1352.18 434.52 1350.30C441.36 1348.41 448.20 1345.51 455.04 1342.09C461.88 1338.67 468.72 1334.39 475.57 1329.77C482.41 1325.16 489.25 1319.68 496.09 1314.38C502.93 1309.08 509.77 1303.38 516.61 1297.97C521.40 1294.17 526.19 1290.50 530.97 1286.68C536.45 1282.31 541.92 1277.63 547.39 1273.34C556.93 1265.86 566.46 1257.98 576.00 1252.27C579.32 1250.28 582.65 1248.51 585.97 1246.79C590.96 1244.21 595.94 1242.14 600.93 1239.81C605.91 1237.48 610.90 1234.99 615.88 1232.83C620.87 1230.67 625.86 1228.84 630.84 1226.85C635.83 1224.85 640.81 1222.77 645.80 1220.86C650.78 1218.95 655.77 1217.04 660.75 1215.38C665.74 1213.72 670.72 1212.28 675.71 1210.89C682.36 1209.04 689.00 1207.57 695.65 1205.91C702.30 1204.25 708.95 1202.50 715.59 1200.92C722.24 1199.34 728.89 1197.66 735.54 1196.43C739.69 1195.67 743.85 1195.05 748.00 1194.44C754.68 1193.46 761.36 1192.78 768.04 1191.95M62.99 992.87C66.98 991.64 70.97 990.30 74.96 989.18C78.94 988.07 82.93 987.23 86.92 986.19C91.24 985.07 95.56 983.79 99.88 982.70C104.87 981.44 109.86 980.24 114.84 979.21C119.83 978.18 124.81 977.27 129.80 976.52C134.78 975.77 139.77 975.16 144.75 974.72C149.74 974.29 154.72 974.09 159.71 973.93C164.70 973.76 169.68 973.64 174.67 973.73C179.65 973.81 184.64 974.06 189.62 974.43C194.61 974.79 199.59 975.37 204.58 975.92C209.57 976.47 214.55 977.15 219.54 977.72C223.69 978.19 227.85 978.61 232.00 979.06C236.99 979.60 241.97 980.10 246.96 980.71C251.94 981.31 256.93 982.04 261.91 982.70C266.90 983.37 271.88 983.95 276.87 984.70C281.86 985.44 286.84 986.39 291.83 987.19C296.81 987.99 301.80 988.82 306.78 989.48C311.77 990.15 316.75 990.73 321.74 991.18C326.72 991.63 331.71 991.92 336.70 992.17C341.68 992.42 346.67 992.62 351.65 992.67C356.64 992.72 361.62 992.56 366.61 992.47C371.59 992.39 376.58 992.28 381.57 992.17C389.04 992.02 396.52 991.59 404.00 991.68C408.99 991.73 413.97 991.84 418.96 992.17C423.94 992.51 428.93 993.09 433.91 993.67C438.90 994.25 443.88 995.00 448.87 995.66C453.86 996.33 458.84 997.08 463.83 997.66C468.81 998.24 473.80 998.82 478.78 999.15C483.77 999.49 488.75 999.74 493.74 999.65C497.06 999.60 500.39 999.57 503.71 999.15C507.03 998.74 510.36 997.87 513.68 997.16C518.67 996.10 523.65 994.83 528.64 993.67C533.62 992.51 538.61 991.09 543.59 990.18C548.58 989.27 553.57 988.67 558.55 988.19C564.37 987.61 570.18 986.61 576.00 987.19C580.99 987.68 585.97 989.43 590.96 990.68C595.94 991.92 600.93 993.42 605.91 994.67C610.90 995.91 615.88 997.08 620.87 998.16C625.86 999.24 630.84 1000.15 635.83 1001.15C640.81 1002.14 645.80 1003.06 650.78 1004.14C655.77 1005.22 660.75 1006.71 665.74 1007.63C670.72 1008.54 675.71 1009.29 680.70 1009.62C685.68 1009.96 690.67 1009.96 695.65 1009.62C700.64 1009.29 705.62 1008.54 710.61 1007.63C715.59 1006.71 720.58 1005.35 725.57 1004.14C728.89 1003.33 732.21 1002.46 735.54 1001.65C739.69 1000.63 743.85 999.69 748.00 998.66C751.86 997.69 755.71 996.74 759.57 995.66C762.39 994.88 765.22 994.00 768.04 993.17M517.00 1177.77C524.21 1176.50 531.41 1174.94 538.61 1173.97C545.26 1173.08 551.90 1172.58 558.55 1172.08C564.37 1171.64 570.18 1171.05 576.00 1171.08C582.65 1171.11 589.29 1172.09 595.94 1172.58C602.59 1173.06 609.24 1174.47 615.88 1173.97C622.53 1173.47 629.18 1171.15 635.83 1169.59C642.47 1168.02 649.12 1166.10 655.77 1164.60C662.42 1163.10 669.06 1161.77 675.71 1160.61C682.36 1159.45 689.00 1158.29 695.65 1157.62C702.30 1156.96 708.95 1156.29 715.59 1156.62C722.24 1156.96 728.89 1158.58 735.54 1159.61C739.69 1160.26 743.85 1161.44 748.00 1161.61C751.26 1161.74 754.51 1161.27 757.77 1161.11C761.10 1160.94 764.42 1160.78 767.74 1160.61M63.26 1162.42C68.86 1162.17 74.46 1162.18 80.05 1161.67C85.07 1161.21 90.08 1160.33 95.09 1159.66C100.11 1158.99 105.12 1158.30 110.14 1157.66C113.48 1157.23 116.82 1156.82 120.16 1156.40C123.50 1155.98 126.85 1155.56 130.19 1155.15C135.46 1154.50 140.72 1154.14 145.99 1153.27C151.01 1152.44 156.02 1151.49 161.04 1150.14C166.05 1148.78 171.07 1146.68 176.08 1145.12C178.59 1144.34 181.09 1143.12 183.60 1142.87C186.11 1142.62 188.62 1143.22 191.12 1143.62C192.79 1143.89 194.46 1144.17 196.14 1144.62C199.48 1145.51 202.82 1147.21 206.16 1148.63C209.50 1150.05 212.85 1151.39 216.19 1153.14C219.53 1154.90 222.87 1157.06 226.22 1159.16C228.14 1160.37 230.07 1161.70 231.99 1162.89C235.32 1164.95 238.64 1166.49 241.97 1168.59C244.63 1170.26 247.29 1172.29 249.95 1173.99C253.94 1176.54 257.92 1178.89 261.91 1180.98C268.56 1184.47 275.21 1186.71 281.86 1189.46C288.50 1192.20 295.15 1194.65 301.80 1197.43C306.78 1199.52 311.77 1201.50 316.75 1203.91C321.74 1206.32 326.72 1209.06 331.71 1211.89C336.70 1214.71 341.68 1218.12 346.67 1220.86C351.65 1223.61 356.64 1226.12 361.62 1228.34C368.27 1231.31 374.92 1233.53 381.57 1235.82C389.04 1238.40 396.52 1241.71 404.00 1242.80C410.65 1243.77 417.29 1243.56 423.94 1242.80C428.93 1242.23 433.91 1241.14 438.90 1239.81C443.88 1238.48 448.87 1236.82 453.86 1234.82C458.84 1232.83 463.83 1230.34 468.81 1227.84C473.80 1225.35 478.78 1222.53 483.77 1219.87C488.75 1217.21 493.74 1214.75 498.72 1211.89C502.05 1209.98 505.37 1207.72 508.70 1205.91C513.68 1203.18 518.67 1201.33 523.65 1198.93C530.30 1195.73 536.95 1192.11 543.59 1188.96C550.24 1185.80 556.89 1183.64 563.54 1179.98C566.86 1178.15 570.18 1175.92 573.51 1174.00C574.34 1173.52 575.17 1173.06 576.00 1172.58C580.99 1169.66 585.97 1165.93 590.96 1162.61C595.94 1159.28 600.93 1155.46 605.91 1152.63C610.90 1149.81 615.88 1147.48 620.87 1145.66C625.86 1143.83 630.84 1142.42 635.83 1141.67C638.04 1141.33 640.26 1141.22 642.47 1141.00M63.19 1037.67C67.11 1037.37 71.03 1037.01 74.96 1036.77C79.94 1036.47 84.93 1036.31 89.91 1036.17C94.90 1036.04 99.88 1035.92 104.87 1035.97C109.86 1036.02 114.84 1036.27 119.83 1036.47C124.81 1036.67 129.80 1036.92 134.78 1037.17C138.51 1037.36 142.23 1037.44 145.95 1037.77C149.27 1038.06 152.60 1038.52 155.92 1038.97C159.24 1039.41 162.57 1040.05 165.89 1040.46C169.22 1040.88 172.54 1041.13 175.86 1041.46C179.19 1041.79 182.51 1042.04 185.83 1042.46C189.16 1042.87 192.48 1043.37 195.81 1043.95C199.13 1044.53 202.45 1045.45 205.78 1045.94C209.10 1046.44 212.42 1046.53 215.75 1046.94C219.07 1047.36 222.39 1048.08 225.72 1048.44C227.81 1048.66 229.91 1048.76 232.00 1048.94C236.99 1049.36 241.97 1050.10 246.96 1050.43C251.94 1050.76 256.93 1051.10 261.91 1050.93C266.90 1050.76 271.88 1050.35 276.87 1049.43C281.86 1048.52 286.84 1047.32 291.83 1045.45C295.15 1044.19 298.47 1042.79 301.80 1040.96C305.12 1039.13 308.44 1036.90 311.77 1034.48C314.09 1032.78 316.42 1030.64 318.75 1028.99C319.74 1028.29 320.74 1027.69 321.74 1026.99C325.06 1024.62 328.39 1021.49 331.71 1018.60C335.03 1015.70 338.36 1012.61 341.68 1009.62C345.00 1006.63 348.33 1003.64 351.65 1000.65C354.98 997.66 358.30 994.67 361.62 991.68C364.95 988.68 368.27 985.61 371.59 982.70C374.92 979.79 378.24 977.05 381.57 974.23C384.89 971.40 388.21 968.50 391.54 965.75C395.69 962.31 399.85 959.20 404.00 955.78C407.16 953.18 410.31 950.48 413.47 947.80C416.96 944.84 420.45 941.74 423.94 938.83C428.93 934.67 433.91 930.60 438.90 926.86C443.88 923.12 448.87 919.63 453.86 916.39C458.84 913.15 463.83 910.16 468.81 907.42C473.80 904.68 478.78 902.10 483.77 899.94C488.75 897.78 493.74 895.95 498.72 894.46C503.71 892.96 508.70 891.80 513.68 890.97C518.67 890.14 523.65 889.56 528.64 889.47C533.62 889.39 538.61 889.80 543.59 890.47C548.58 891.13 553.57 892.21 558.55 893.46C564.37 894.92 570.18 896.33 576.00 898.85C580.99 901.00 585.97 904.00 590.96 906.92C595.94 909.85 600.93 912.90 605.91 916.39C610.90 919.88 615.88 923.71 620.87 927.86C625.86 932.02 630.84 936.57 635.83 941.32C640.31 945.60 644.80 949.98 649.29 954.78C653.11 958.87 656.93 963.42 660.75 967.74C665.74 973.39 670.72 979.09 675.71 984.70C680.03 989.55 684.35 994.31 688.67 999.15C692.66 1003.62 696.65 1008.16 700.64 1012.61C704.96 1017.44 709.28 1023.70 713.60 1026.99C715.93 1028.76 718.25 1029.72 720.58 1030.99C723.90 1032.79 727.23 1034.50 730.55 1035.97C736.37 1038.55 742.18 1041.24 748.00 1041.96C751.26 1042.36 754.51 1041.63 757.77 1041.96C761.10 1042.29 764.42 1043.29 767.74 1043.95M62.99 987.49C66.98 989.05 70.97 990.66 74.96 992.17C79.94 994.07 84.93 996.08 89.91 997.66C94.90 999.24 99.88 1000.60 104.87 1001.65C109.86 1002.69 114.84 1003.62 119.83 1003.94C124.65 1004.25 129.46 1003.96 134.28 1003.64C139.44 1003.30 144.59 1002.52 149.74 1001.85C154.72 1001.19 159.71 1000.10 164.70 999.65C169.68 999.20 174.67 998.62 179.65 999.15C182.98 999.51 186.30 1000.40 189.62 1001.15C192.95 1001.90 196.27 1002.70 199.59 1003.64C204.58 1005.05 209.57 1006.93 214.55 1008.63C220.37 1010.61 226.18 1012.75 232.00 1014.71C236.99 1016.39 241.97 1017.95 246.96 1019.59C251.94 1021.24 256.93 1023.02 261.91 1024.58C264.57 1025.41 267.23 1026.15 269.89 1026.99C273.88 1028.24 277.87 1029.72 281.86 1030.99C286.84 1032.58 291.83 1034.15 296.81 1035.48C301.80 1036.80 306.78 1037.97 311.77 1038.97C316.75 1039.96 321.74 1040.71 326.72 1041.46C331.71 1042.21 336.70 1042.86 341.68 1043.45C348.33 1044.24 354.98 1044.86 361.62 1045.45C368.27 1046.03 374.92 1046.30 381.57 1046.94C389.04 1047.67 396.52 1049.80 404.00 1049.68C410.65 1049.58 417.29 1048.40 423.94 1046.94C430.59 1045.49 437.24 1043.12 443.88 1040.96C450.53 1038.80 457.18 1036.44 463.83 1033.98C469.81 1031.76 475.79 1029.24 481.77 1026.99C485.76 1025.48 489.75 1023.99 493.74 1022.59C498.72 1020.83 503.71 1019.10 508.70 1017.60C513.68 1016.10 518.67 1014.69 523.65 1013.61C528.64 1012.53 533.62 1011.73 538.61 1011.12C543.59 1010.50 548.58 1010.02 553.57 1009.92C556.89 1009.86 560.21 1009.91 563.54 1010.12C567.69 1010.39 571.85 1010.97 576.00 1011.62C580.99 1012.40 585.97 1013.28 590.96 1014.61C595.94 1015.94 600.93 1017.73 605.91 1019.59C609.24 1020.84 612.56 1022.20 615.88 1023.58C618.54 1024.69 621.20 1025.86 623.86 1026.99C627.85 1028.67 631.84 1029.99 635.83 1031.99C639.81 1033.98 643.80 1036.72 647.79 1038.97C652.11 1041.39 656.43 1043.90 660.75 1045.94C665.74 1048.31 670.72 1050.60 675.71 1051.93C680.70 1053.26 685.68 1053.67 690.67 1053.92C695.65 1054.17 700.64 1053.09 705.62 1053.42C710.61 1053.76 715.59 1054.09 720.58 1055.92C723.90 1057.13 727.23 1058.57 730.55 1060.90C733.87 1063.23 737.20 1067.07 740.52 1069.88C743.01 1071.98 745.51 1073.53 748.00 1075.86C750.49 1078.18 752.99 1081.27 755.48 1083.83C757.47 1085.89 759.47 1088.02 761.46 1089.82C763.55 1091.70 765.65 1093.14 767.74 1094.80M397.52 1080.64C399.68 1079.21 401.84 1077.38 404.00 1076.36C408.99 1074.01 413.97 1076.07 418.96 1075.86C423.94 1075.64 428.93 1075.18 433.91 1075.06C440.56 1074.90 447.21 1075.23 453.86 1075.36C460.50 1075.49 467.15 1076.29 473.80 1075.86C478.78 1075.53 483.77 1074.69 488.75 1073.86C493.74 1073.03 498.72 1071.87 503.71 1070.87C510.36 1069.54 517.00 1068.21 523.65 1066.88C530.30 1065.55 536.95 1063.98 543.59 1062.90C550.24 1061.82 556.89 1061.13 563.54 1060.40C567.69 1059.95 571.85 1059.11 576.00 1059.16C582.65 1059.23 589.29 1061.28 595.94 1062.90C602.59 1064.52 609.24 1067.05 615.88 1068.88C622.53 1070.71 629.18 1072.37 635.83 1073.86C642.47 1075.36 649.12 1076.69 655.77 1077.85C662.42 1079.02 669.06 1080.10 675.71 1080.84C682.36 1081.59 689.00 1081.76 695.65 1082.34C702.30 1082.92 708.95 1083.42 715.59 1084.33C722.24 1085.25 728.89 1086.56 735.54 1087.82C739.69 1088.61 743.85 1089.36 748.00 1090.32C751.26 1091.07 754.51 1091.99 757.77 1092.81C761.10 1093.65 764.42 1094.47 767.74 1095.30M563.54 1096.80C567.69 1093.81 571.85 1090.84 576.00 1087.82C580.99 1084.20 585.97 1080.34 590.96 1076.86C595.94 1073.37 600.93 1070.04 605.91 1066.88C610.90 1063.73 615.88 1060.65 620.87 1057.91C625.86 1055.17 630.84 1052.76 635.83 1050.43C640.81 1048.11 645.80 1046.01 650.78 1043.95C654.11 1042.58 657.43 1041.03 660.75 1039.96C665.74 1038.37 670.72 1037.05 675.71 1036.97C680.70 1036.89 685.68 1038.63 690.67 1039.46C695.65 1040.29 700.64 1041.48 705.62 1041.96C712.27 1042.59 718.92 1042.37 725.57 1041.96C733.04 1041.49 740.52 1042.46 748.00 1038.97C751.26 1037.44 754.51 1034.47 757.77 1032.98C761.10 1031.46 764.42 1030.99 767.74 1029.99M62.99 1251.28C68.64 1250.94 74.29 1250.72 79.94 1250.28C86.59 1249.76 93.24 1249.20 99.88 1248.28C106.53 1247.37 113.18 1245.63 119.83 1244.79C126.47 1243.96 133.12 1243.02 139.77 1243.30C143.09 1243.44 146.42 1243.74 149.74 1244.30C154.72 1245.13 159.71 1246.95 164.70 1248.28C169.68 1249.61 174.67 1251.19 179.65 1252.27C186.30 1253.71 192.95 1254.58 199.59 1255.26C204.58 1255.77 209.57 1256.43 214.55 1256.26C217.87 1256.15 221.20 1255.79 224.52 1255.26C227.01 1254.87 229.51 1254.27 232.00 1253.77C236.99 1252.77 241.97 1251.94 246.96 1250.78C251.94 1249.61 256.93 1248.12 261.91 1246.79C266.90 1245.46 271.88 1243.96 276.87 1242.80C281.86 1241.64 286.84 1240.39 291.83 1239.81C296.81 1239.23 301.80 1239.14 306.78 1239.31C311.77 1239.48 316.75 1239.89 321.74 1240.81C326.72 1241.72 331.71 1243.38 336.70 1244.79C341.68 1246.21 346.67 1247.84 351.65 1249.28C358.30 1251.20 364.95 1253.19 371.59 1254.77C378.24 1256.34 384.89 1257.92 391.54 1258.75C395.69 1259.28 399.85 1260.20 404.00 1259.75C408.99 1259.21 413.97 1256.59 418.96 1254.77C423.94 1252.94 428.93 1250.61 433.91 1248.78C438.90 1246.95 443.88 1245.21 448.87 1243.80C453.86 1242.38 458.84 1241.14 463.83 1240.31C468.81 1239.48 473.80 1239.31 478.78 1238.81C482.11 1238.48 485.43 1238.48 488.75 1237.81C492.08 1237.15 495.40 1235.69 498.72 1234.82C503.71 1233.53 508.70 1232.00 513.68 1231.83C518.67 1231.67 523.65 1232.83 528.64 1233.83C533.62 1234.82 538.61 1236.52 543.59 1237.81C550.24 1239.54 556.89 1240.93 563.54 1242.80C567.69 1243.97 571.85 1245.07 576.00 1246.54C580.99 1248.30 585.97 1250.82 590.96 1252.77C595.94 1254.72 600.93 1256.59 605.91 1258.26C610.90 1259.92 615.88 1261.41 620.87 1262.74C625.86 1264.07 630.84 1265.14 635.83 1266.23C642.47 1267.69 649.12 1269.06 655.77 1270.22C662.42 1271.38 669.06 1272.30 675.71 1273.21C682.36 1274.13 689.00 1274.96 695.65 1275.70C702.30 1276.45 708.95 1277.20 715.59 1277.70C722.24 1278.20 728.89 1278.57 735.54 1278.70C739.69 1278.78 743.85 1278.71 748.00 1278.70C754.68 1278.67 761.36 1278.56 768.04 1278.50M62.99 890.47C66.98 891.03 70.97 891.40 74.96 892.16C79.94 893.12 84.93 894.33 89.91 895.95C94.90 897.58 99.88 899.61 104.87 901.94C109.86 904.26 114.84 906.92 119.83 909.91C124.81 912.90 129.80 916.23 134.78 919.88C139.77 923.54 144.75 927.78 149.74 931.85C154.72 935.92 159.71 940.12 164.70 944.31C169.02 947.94 173.34 951.65 177.66 955.28C181.65 958.63 185.63 962.00 189.62 965.25C192.95 967.96 196.27 970.65 199.59 973.23C202.92 975.80 206.24 978.30 209.57 980.71C212.89 983.12 216.21 985.42 219.54 987.69C223.69 990.52 227.85 993.44 232.00 995.91C236.99 998.88 241.97 1001.19 246.96 1003.64C251.94 1006.09 256.93 1008.46 261.91 1010.62C266.90 1012.78 271.88 1014.77 276.87 1016.60C281.86 1018.43 286.84 1020.06 291.83 1021.59C296.81 1023.12 301.80 1024.52 306.78 1025.78C308.44 1026.20 310.11 1026.55 311.77 1026.99C315.09 1027.86 318.42 1028.95 321.74 1029.99C326.72 1031.56 331.71 1033.40 336.70 1034.98C341.68 1036.56 346.67 1038.13 351.65 1039.46C356.64 1040.79 361.62 1041.87 366.61 1042.95C371.59 1044.03 376.58 1045.13 381.57 1045.94C389.04 1047.17 396.52 1048.85 404.00 1048.44C408.99 1048.16 413.97 1047.36 418.96 1045.94C423.94 1044.53 428.93 1042.21 433.91 1039.96C438.90 1037.72 443.88 1034.98 448.87 1032.48C452.53 1030.66 456.18 1027.80 459.84 1027.00C460.83 1026.78 461.83 1026.80 462.83 1026.57C466.49 1025.74 470.14 1022.46 473.80 1020.59C477.12 1018.89 480.44 1017.05 483.77 1015.81C487.09 1014.56 490.42 1013.64 493.74 1013.11C497.06 1012.58 500.39 1012.45 503.71 1012.61C507.03 1012.78 510.36 1013.46 513.68 1014.11C518.67 1015.09 523.65 1016.69 528.64 1018.10C533.62 1019.51 538.61 1021.09 543.59 1022.59C546.92 1023.58 550.24 1024.62 553.57 1025.58C555.23 1026.06 556.89 1026.51 558.55 1026.99C561.87 1027.95 565.20 1028.80 568.52 1029.99C571.01 1030.88 573.51 1032.21 576.00 1032.98C582.65 1035.05 589.29 1034.15 595.94 1034.48C602.59 1034.81 609.24 1034.93 615.88 1034.98C622.53 1035.03 629.18 1034.69 635.83 1034.78C642.47 1034.86 649.12 1035.11 655.77 1035.48C662.42 1035.84 669.06 1036.80 675.71 1036.97C682.36 1037.14 689.00 1036.64 695.65 1036.47C702.30 1036.31 708.95 1035.89 715.59 1035.97C722.24 1036.06 728.89 1036.52 735.54 1036.97C739.69 1037.26 743.85 1037.82 748.00 1037.97C751.26 1038.08 754.51 1037.81 757.77 1037.97C761.10 1038.13 764.42 1038.63 767.74 1038.97M62.99 1219.87C68.64 1219.70 74.29 1219.72 79.94 1219.37C86.59 1218.96 93.24 1218.37 99.88 1217.37C106.53 1216.38 113.18 1214.88 119.83 1213.39C126.47 1211.89 133.12 1210.14 139.77 1208.40C146.42 1206.66 153.06 1204.74 159.71 1202.92C166.36 1201.09 173.00 1199.01 179.65 1197.43C186.30 1195.85 192.95 1194.36 199.59 1193.44C206.24 1192.53 212.89 1191.81 219.54 1191.95C223.69 1192.03 227.85 1192.54 232.00 1192.94C238.65 1193.59 245.29 1194.44 251.94 1195.44C258.59 1196.43 265.24 1197.76 271.88 1198.93C278.53 1200.09 285.18 1201.29 291.83 1202.42C296.81 1203.27 301.80 1203.83 306.78 1204.91C311.77 1205.99 316.75 1207.49 321.74 1208.90C326.72 1210.31 331.71 1212.31 336.70 1213.39C341.68 1214.47 346.67 1215.05 351.65 1215.38C358.30 1215.81 364.95 1215.13 371.59 1214.88C378.24 1214.63 384.89 1214.34 391.54 1213.88C395.69 1213.60 399.85 1213.21 404.00 1212.89C410.65 1212.37 417.29 1211.56 423.94 1211.39C430.59 1211.23 437.24 1211.47 443.88 1211.89C450.53 1212.31 457.18 1213.14 463.83 1213.88C470.47 1214.63 477.12 1215.71 483.77 1216.38C490.42 1217.04 497.06 1218.04 503.71 1217.87C508.70 1217.75 513.68 1217.71 518.67 1216.38C523.65 1215.05 528.64 1212.14 533.62 1209.90C538.61 1207.65 543.59 1205.24 548.58 1202.92C553.57 1200.59 558.55 1198.14 563.54 1195.94C567.69 1194.10 571.85 1192.31 576.00 1190.70C580.99 1188.77 585.97 1186.51 590.96 1185.47C595.94 1184.43 600.93 1184.30 605.91 1184.47C610.90 1184.64 615.88 1185.47 620.87 1186.46C625.86 1187.46 630.84 1189.05 635.83 1190.45C642.47 1192.32 649.12 1194.52 655.77 1196.43C662.42 1198.35 669.06 1200.17 675.71 1201.92C682.36 1203.66 689.00 1205.16 695.65 1206.90C702.30 1208.65 708.95 1210.73 715.59 1212.39C722.24 1214.05 728.89 1215.81 735.54 1216.88C739.69 1217.54 743.85 1217.94 748.00 1218.37C754.68 1219.07 761.36 1219.43 768.04 1219.97M62.99 1278.20C71.97 1277.53 80.94 1276.91 89.91 1276.20C99.88 1275.42 109.86 1274.71 119.83 1273.71C129.80 1272.71 139.77 1271.73 149.74 1270.22C156.39 1269.21 163.03 1268.06 169.68 1266.73C176.33 1265.40 182.98 1263.74 189.62 1262.24C196.27 1260.75 202.92 1259.07 209.57 1257.76C217.04 1256.28 224.52 1254.89 232.00 1254.02C236.99 1253.44 241.97 1253.81 246.96 1252.77C251.94 1251.73 256.93 1249.36 261.91 1247.79C266.90 1246.21 271.88 1244.79 276.87 1243.30C281.86 1241.80 286.84 1240.06 291.83 1238.81C296.81 1237.57 301.80 1236.65 306.78 1235.82C311.77 1234.99 316.75 1234.24 321.74 1233.83C326.72 1233.41 331.71 1233.24 336.70 1233.33C341.68 1233.41 346.67 1233.76 351.65 1234.32C358.30 1235.08 364.95 1236.57 371.59 1237.81C378.24 1239.06 384.89 1240.15 391.54 1241.80C395.69 1242.84 399.85 1243.84 404.00 1245.29C408.99 1247.04 413.97 1249.86 418.96 1251.77C423.94 1253.69 428.93 1255.28 433.91 1256.76C440.56 1258.74 447.21 1260.25 453.86 1261.74C460.50 1263.24 467.15 1264.65 473.80 1265.73C480.44 1266.81 487.09 1267.56 493.74 1268.23C500.39 1268.89 507.03 1269.56 513.68 1269.72C520.33 1269.89 526.98 1269.56 533.62 1269.22C540.27 1268.89 546.92 1268.30 553.57 1267.73C561.04 1267.08 568.52 1266.38 576.00 1265.48C582.65 1264.69 589.29 1263.61 595.94 1262.74C602.59 1261.87 609.24 1261.00 615.88 1260.25C622.53 1259.50 629.18 1259.09 635.83 1258.26C642.47 1257.42 649.12 1256.09 655.77 1255.26C662.42 1254.43 669.06 1253.60 675.71 1253.27C682.36 1252.94 689.00 1253.05 695.65 1253.27C702.30 1253.49 708.95 1254.12 715.59 1254.57C722.24 1255.01 728.89 1255.52 735.54 1255.96C739.69 1256.24 743.85 1256.60 748.00 1256.76C754.68 1257.02 761.36 1256.76 768.04 1256.76M62.99 1195.94C68.64 1198.60 74.29 1201.18 79.94 1203.91C86.59 1207.13 93.24 1210.69 99.88 1213.88C104.87 1216.28 109.86 1218.70 114.84 1220.86C119.83 1223.02 124.81 1225.15 129.80 1226.85C133.12 1227.98 136.44 1229.17 139.77 1229.84C143.09 1230.50 146.42 1230.83 149.74 1230.83C153.06 1230.83 156.39 1230.50 159.71 1229.84C163.03 1229.17 166.36 1227.89 169.68 1226.85C174.67 1225.28 179.65 1223.52 184.64 1221.86C189.62 1220.20 194.61 1218.47 199.59 1216.88C206.24 1214.75 212.89 1212.23 219.54 1210.89C223.69 1210.06 227.85 1209.53 232.00 1209.15C238.65 1208.54 245.29 1208.94 251.94 1208.90C258.59 1208.86 265.24 1209.06 271.88 1208.90C278.53 1208.73 285.18 1208.55 291.83 1207.90C296.81 1207.41 301.80 1206.57 306.78 1205.91C311.77 1205.24 316.75 1204.49 321.74 1203.91C326.72 1203.33 331.71 1202.95 336.70 1202.42C341.68 1201.89 346.67 1201.05 351.65 1200.72C356.64 1200.39 361.62 1200.22 366.61 1200.42C371.59 1200.62 376.58 1201.27 381.57 1201.92C384.89 1202.35 388.21 1202.58 391.54 1203.41C395.69 1204.46 399.85 1206.31 404.00 1208.15C408.99 1210.35 413.97 1213.26 418.96 1215.88C423.94 1218.50 428.93 1221.53 433.91 1223.86C438.90 1226.18 443.88 1228.01 448.87 1229.84C453.86 1231.67 458.84 1233.33 463.83 1234.82C468.81 1236.32 473.80 1237.90 478.78 1238.81C483.77 1239.73 488.75 1239.76 493.74 1240.31C500.39 1241.04 507.03 1241.55 513.68 1242.80C520.33 1244.05 526.98 1245.96 533.62 1247.79C540.27 1249.61 546.92 1252.02 553.57 1253.77C561.04 1255.74 568.52 1257.58 576.00 1258.75C582.65 1259.80 589.29 1260.58 595.94 1260.75C602.59 1260.91 609.24 1260.42 615.88 1259.75C622.53 1259.09 629.18 1257.76 635.83 1256.76C642.47 1255.76 649.12 1254.68 655.77 1253.77C662.42 1252.85 669.06 1251.86 675.71 1251.28C682.36 1250.69 689.00 1250.44 695.65 1250.28C702.30 1250.11 708.95 1250.16 715.59 1250.28C722.24 1250.39 728.89 1250.79 735.54 1250.98C739.69 1251.09 743.85 1251.20 748.00 1251.28C754.68 1251.40 761.36 1251.41 768.04 1251.47M63.19 1093.81C70.44 1091.48 77.68 1089.07 84.93 1086.83C91.57 1084.76 98.22 1082.96 104.87 1080.84C109.86 1079.25 114.84 1077.52 119.83 1075.86C124.81 1074.20 129.80 1072.30 134.78 1070.87C138.51 1069.81 142.23 1067.97 145.95 1068.08C149.27 1068.18 152.60 1069.74 155.92 1070.87C159.24 1072.00 162.57 1073.53 165.89 1074.86C169.22 1076.19 172.54 1077.52 175.86 1078.85C179.19 1080.18 182.51 1081.51 185.83 1082.84C189.16 1084.17 192.48 1085.58 195.81 1086.83C199.13 1088.07 202.45 1089.24 205.78 1090.32C209.10 1091.40 212.42 1092.39 215.75 1093.31C219.07 1094.22 222.39 1095.16 225.72 1095.80C227.81 1096.21 229.91 1096.56 232.00 1096.80C236.99 1097.35 241.97 1096.46 246.96 1096.80C251.94 1097.13 256.93 1098.21 261.91 1098.79C266.90 1099.37 271.88 1099.95 276.87 1100.29C281.86 1100.62 286.84 1101.12 291.83 1100.79C298.47 1100.34 305.12 1098.29 311.77 1096.80C318.42 1095.30 325.06 1093.47 331.71 1091.81C338.36 1090.15 345.00 1088.16 351.65 1086.83C358.30 1085.50 364.95 1084.76 371.59 1083.83C382.40 1082.33 393.20 1077.61 404.00 1079.85C406.22 1080.31 408.43 1081.07 410.65 1081.67M63.19 1045.15C67.11 1046.08 71.03 1047.16 74.96 1047.94C79.94 1048.92 84.93 1049.55 89.91 1050.13C94.90 1050.71 99.88 1051.13 104.87 1051.43C109.86 1051.73 114.84 1051.81 119.83 1051.93C124.81 1052.04 129.80 1051.95 134.78 1052.13C138.51 1052.26 142.23 1052.48 145.95 1052.73C150.94 1053.05 155.92 1053.97 160.91 1053.92C165.89 1053.87 170.88 1053.07 175.86 1052.43C179.19 1051.99 182.51 1051.60 185.83 1050.93C189.16 1050.27 192.48 1049.27 195.81 1048.44C199.13 1047.61 202.45 1046.69 205.78 1045.94C209.10 1045.20 212.42 1044.70 215.75 1043.95C219.07 1043.20 222.39 1042.10 225.72 1041.46C227.81 1041.05 229.91 1040.88 232.00 1040.46C236.99 1039.46 241.97 1037.64 246.96 1035.97C251.94 1034.31 256.93 1032.27 261.91 1030.49C265.24 1029.30 268.56 1028.08 271.88 1026.99C276.87 1025.35 281.86 1023.93 286.84 1022.59C291.83 1021.24 296.81 1019.88 301.80 1018.90C306.12 1018.05 310.44 1017.32 314.76 1016.90C317.75 1016.62 320.74 1016.32 323.73 1016.40C326.72 1016.49 329.72 1016.87 332.71 1017.40C335.70 1017.93 338.69 1018.71 341.68 1019.59C345.00 1020.57 348.33 1021.85 351.65 1023.08C354.98 1024.32 358.30 1025.58 361.62 1026.99C366.61 1029.09 371.59 1031.65 376.58 1033.98C381.57 1036.31 386.55 1038.60 391.54 1040.96C395.69 1042.93 399.85 1045.73 404.00 1046.94C410.65 1048.88 417.29 1047.07 423.94 1046.74C430.59 1046.41 437.24 1045.75 443.88 1044.95C450.53 1044.15 457.18 1043.37 463.83 1041.96C470.47 1040.54 477.12 1038.52 483.77 1036.47C488.75 1034.94 493.74 1033.19 498.72 1031.49C503.05 1030.01 507.37 1028.53 511.69 1026.99C515.68 1025.56 519.66 1023.99 523.65 1022.59C528.64 1020.83 533.62 1019.34 538.61 1017.60C543.59 1015.86 548.58 1013.89 553.57 1012.12C556.89 1010.93 560.21 1009.80 563.54 1008.63C567.69 1007.15 571.85 1005.96 576.00 1004.14C579.32 1002.68 582.65 1000.90 585.97 999.15C590.96 996.53 595.94 993.75 600.93 990.68C605.91 987.60 610.90 984.28 615.88 980.71C620.87 977.13 625.86 973.16 630.84 969.24C634.16 966.63 637.49 963.86 640.81 961.26C643.64 959.06 646.46 956.97 649.29 954.78C654.77 950.55 660.26 945.98 665.74 941.82C670.72 938.03 675.71 934.43 680.70 930.85C685.68 927.28 690.67 923.62 695.65 920.38C700.64 917.14 705.62 914.28 710.61 911.41C715.59 908.53 720.58 905.85 725.57 903.13C728.89 901.32 732.21 899.22 735.54 897.75C739.69 895.91 743.85 894.85 748.00 893.76C751.86 892.75 755.71 891.94 759.57 891.37C762.39 890.95 765.22 890.77 768.04 890.47M63.26 1104.01C65.51 1105.68 67.77 1107.34 70.03 1109.02C73.37 1111.51 76.71 1114.16 80.05 1116.54C83.40 1118.93 86.74 1121.22 90.08 1123.31C93.42 1125.40 96.77 1127.28 100.11 1129.08C103.45 1130.88 106.79 1132.59 110.14 1134.09C113.48 1135.60 116.82 1137.02 120.16 1138.10C123.50 1139.19 126.85 1139.90 130.19 1140.61C133.53 1141.32 136.87 1141.92 140.22 1142.36C142.14 1142.62 144.07 1142.83 145.99 1142.99C151.01 1143.41 156.02 1143.37 161.04 1143.22C164.38 1143.12 167.73 1142.98 171.07 1142.62C173.57 1142.34 176.08 1141.97 178.59 1141.51C181.09 1141.05 183.60 1140.50 186.11 1139.86C189.45 1139.01 192.79 1137.89 196.14 1136.85C199.48 1135.81 202.82 1134.93 206.16 1133.59C209.50 1132.25 212.85 1130.42 216.19 1128.83C219.53 1127.24 222.87 1125.72 226.22 1124.07C228.14 1123.11 230.07 1122.09 231.99 1121.14C236.98 1118.68 241.97 1116.64 246.96 1114.25C251.94 1111.85 256.93 1109.18 261.91 1106.77C266.90 1104.36 271.88 1102.28 276.87 1099.79C281.86 1097.30 286.84 1094.67 291.83 1091.81C295.15 1089.91 298.47 1087.91 301.80 1085.83C305.12 1083.75 308.44 1080.95 311.77 1079.35C316.75 1076.94 321.74 1077.10 326.72 1075.86C331.71 1074.61 336.70 1073.28 341.68 1071.87C346.67 1070.46 351.65 1068.88 356.64 1067.38C361.62 1065.89 366.61 1064.31 371.59 1062.90C376.58 1061.48 381.57 1060.36 386.55 1058.91C392.37 1057.21 398.18 1053.83 404.00 1053.32C410.65 1052.75 417.29 1055.82 423.94 1056.91C430.59 1058.01 437.24 1059.41 443.88 1059.90C450.53 1060.40 457.18 1060.15 463.83 1059.90C470.47 1059.66 477.12 1059.04 483.77 1058.41C490.42 1057.78 497.06 1057.28 503.71 1056.12C510.36 1054.95 517.00 1053.62 523.65 1051.43C528.64 1049.79 533.62 1047.36 538.61 1045.45C543.59 1043.54 548.58 1041.72 553.57 1039.96C561.04 1037.32 568.52 1034.23 576.00 1032.48C580.99 1031.32 585.97 1031.51 590.96 1029.99C593.62 1029.18 596.27 1027.84 598.93 1026.99C604.58 1025.18 610.23 1024.51 615.88 1023.58C620.87 1022.76 625.86 1022.05 630.84 1021.59C635.83 1021.12 640.81 1020.92 645.80 1020.79C650.78 1020.66 655.77 1020.62 660.75 1020.79C665.74 1020.96 670.72 1021.32 675.71 1021.79C680.70 1022.25 685.68 1022.87 690.67 1023.58C695.65 1024.30 700.64 1024.67 705.62 1026.08C706.62 1026.36 707.62 1026.64 708.61 1026.99C712.60 1028.36 716.59 1031.16 720.58 1032.98C725.57 1035.26 730.55 1037.62 735.54 1038.97C739.69 1040.08 743.85 1040.67 748.00 1040.96C751.26 1041.19 754.51 1041.28 757.77 1040.96C761.10 1040.63 764.42 1039.63 767.74 1038.97M63.26 1165.18C65.51 1165.76 67.77 1166.51 70.03 1166.93C73.37 1167.55 76.71 1167.50 80.05 1167.68C86.74 1168.05 93.42 1167.85 100.11 1167.93C106.79 1168.02 113.48 1167.89 120.16 1168.18C123.50 1168.33 126.85 1168.51 130.19 1168.79C135.46 1169.23 140.72 1169.80 145.99 1170.69C149.34 1171.26 152.68 1171.92 156.03 1172.70C160.58 1173.76 165.13 1175.47 169.68 1176.49C174.67 1177.61 179.65 1178.07 184.64 1178.99C189.62 1179.90 194.61 1181.23 199.59 1181.98C204.58 1182.72 209.57 1183.24 214.55 1183.47C220.37 1183.75 226.18 1184.04 232.00 1183.22C236.99 1182.52 241.97 1180.69 246.96 1179.48C251.94 1178.28 256.93 1176.91 261.91 1175.99C265.24 1175.38 268.56 1174.78 271.88 1174.50C278.53 1173.94 285.18 1174.95 291.83 1175.50C298.47 1176.04 305.12 1177.79 311.77 1177.79C316.75 1177.79 321.74 1177.42 326.72 1176.49C330.05 1175.88 333.37 1175.23 336.70 1173.99C341.68 1172.12 346.67 1168.16 351.65 1165.60C356.64 1163.04 361.62 1160.78 366.61 1158.62C371.59 1156.46 376.58 1154.63 381.57 1152.63C386.55 1150.64 391.54 1148.54 396.52 1146.65C399.01 1145.71 401.51 1144.69 404.00 1143.91C410.65 1141.84 417.29 1141.71 423.94 1140.67C430.59 1139.63 437.24 1138.68 443.88 1137.68C450.53 1136.68 457.18 1135.68 463.83 1134.69C470.47 1133.69 477.12 1133.03 483.77 1131.70C490.42 1130.37 497.06 1128.54 503.71 1126.71C510.36 1124.88 517.00 1123.05 523.65 1120.73C530.30 1118.40 536.95 1115.41 543.59 1112.75C548.58 1110.76 553.57 1108.89 558.55 1106.77C564.37 1104.29 570.18 1100.79 576.00 1098.79C578.22 1098.03 580.43 1097.46 582.65 1096.80M63.19 1096.30C67.11 1095.47 71.03 1094.79 74.96 1093.81C79.94 1092.56 84.93 1091.06 89.91 1089.32C94.90 1087.57 99.88 1085.41 104.87 1083.34C109.86 1081.26 114.84 1078.85 119.83 1076.86C124.81 1074.86 129.80 1072.84 134.78 1071.37C138.51 1070.27 142.23 1068.69 145.95 1068.68C150.94 1068.66 155.92 1071.50 160.91 1073.37C165.89 1075.23 170.88 1077.77 175.86 1079.85C180.85 1081.92 185.83 1083.98 190.82 1085.83C194.14 1087.06 197.47 1088.16 200.79 1089.32C204.11 1090.48 207.44 1091.56 210.76 1092.81C214.09 1094.06 217.41 1095.61 220.73 1096.80C224.49 1098.14 228.24 1099.17 232.00 1100.29C238.65 1102.26 245.29 1103.72 251.94 1105.77C256.93 1107.31 261.91 1108.93 266.90 1110.76C271.88 1112.58 276.87 1114.96 281.86 1116.74C288.50 1119.11 295.15 1120.89 301.80 1122.72C308.44 1124.55 315.09 1126.21 321.74 1127.71C328.39 1129.20 335.03 1130.45 341.68 1131.70C348.33 1132.94 354.98 1134.02 361.62 1135.19C368.27 1136.35 374.92 1137.50 381.57 1138.68C389.04 1139.99 396.52 1142.24 404.00 1142.66C410.65 1143.04 417.29 1142.50 423.94 1141.67C430.59 1140.84 437.24 1138.68 443.88 1137.68C450.53 1136.68 457.18 1136.27 463.83 1135.68C470.47 1135.10 477.12 1134.35 483.77 1134.19C490.42 1134.02 497.06 1134.52 503.71 1134.69C510.36 1134.85 517.00 1135.02 523.65 1135.19C530.30 1135.35 536.95 1135.27 543.59 1135.68C550.24 1136.10 556.89 1136.77 563.54 1137.68C567.69 1138.25 571.85 1138.98 576.00 1139.67C582.65 1140.77 589.29 1142.00 595.94 1143.16C602.59 1144.33 609.24 1145.07 615.88 1146.65C622.53 1148.23 629.18 1150.47 635.83 1152.63C642.47 1154.80 649.12 1157.45 655.77 1159.61C662.42 1161.77 669.06 1163.77 675.71 1165.60C682.36 1167.43 689.00 1168.78 695.65 1170.58C703.96 1172.83 712.27 1175.50 720.58 1177.99C725.57 1179.48 730.55 1181.03 735.54 1182.48C739.69 1183.68 743.85 1184.90 748.00 1185.97C754.68 1187.68 761.36 1188.89 768.04 1190.35M63.08 1298.99C68.89 1303.44 74.71 1308.06 80.52 1312.33C87.36 1317.36 94.20 1322.42 101.04 1326.70C107.88 1330.97 114.72 1334.73 121.57 1337.98C128.41 1341.23 135.25 1343.90 142.09 1346.19C148.93 1348.48 155.77 1350.52 162.61 1351.73C167.74 1352.64 172.87 1353.34 178.00 1353.37C183.13 1353.41 188.26 1352.83 193.39 1351.94C200.23 1350.75 207.07 1348.69 213.91 1346.19C220.75 1343.69 227.59 1340.72 234.43 1336.96C241.28 1333.19 248.12 1328.75 254.96 1323.62C261.80 1318.49 268.64 1312.70 275.48 1306.17C281.98 1299.97 288.48 1292.65 294.97 1285.65C298.74 1281.60 302.50 1277.43 306.26 1273.34C310.37 1268.88 314.47 1264.26 318.57 1260.00C321.29 1257.18 324.01 1254.70 326.72 1251.77C331.71 1246.41 336.70 1239.51 341.68 1233.83C345.00 1230.04 348.33 1226.35 351.65 1222.86C354.98 1219.37 358.30 1215.80 361.62 1212.89C364.95 1209.98 368.27 1207.32 371.59 1205.41C374.92 1203.50 378.24 1201.50 381.57 1201.42C383.78 1201.36 386.00 1202.42 388.21 1202.92M63.26 1171.09C65.51 1171.63 67.77 1172.05 70.03 1172.70C74.99 1174.11 79.96 1177.02 84.93 1178.49C89.91 1179.96 94.90 1180.64 99.88 1181.48C106.53 1182.59 113.18 1183.31 119.83 1183.97C126.47 1184.64 133.12 1184.41 139.77 1185.47C143.09 1185.99 146.42 1186.71 149.74 1187.46C154.72 1188.59 159.71 1190.04 164.70 1191.45C169.68 1192.86 174.67 1194.33 179.65 1195.94C186.30 1198.07 192.95 1200.67 199.59 1202.92C206.24 1205.16 212.89 1207.67 219.54 1209.40C223.69 1210.48 227.85 1211.17 232.00 1212.14C236.99 1213.30 241.97 1214.67 246.96 1215.88C251.94 1217.08 256.93 1218.37 261.91 1219.37C266.90 1220.37 271.88 1221.28 276.87 1221.86C281.86 1222.44 286.84 1222.72 291.83 1222.86C298.47 1223.04 305.12 1222.77 311.77 1222.36C318.42 1221.94 325.06 1221.28 331.71 1220.37C336.70 1219.68 341.68 1218.95 346.67 1217.87C351.65 1216.79 356.64 1215.38 361.62 1213.88C366.61 1212.39 371.59 1210.39 376.58 1208.90C381.57 1207.40 386.55 1206.11 391.54 1204.91C395.69 1203.91 399.85 1203.19 404.00 1202.17C410.65 1200.53 417.29 1197.97 423.94 1196.43C430.59 1194.90 437.24 1193.78 443.88 1192.94C450.53 1192.11 457.18 1191.78 463.83 1191.45C470.47 1191.12 477.12 1190.95 483.77 1190.95C490.42 1190.95 497.06 1189.84 503.71 1191.45C507.03 1192.25 510.36 1193.69 513.68 1194.94C517.00 1196.19 520.33 1197.42 523.65 1198.93C528.64 1201.19 533.62 1204.25 538.61 1206.90C543.59 1209.56 548.58 1212.40 553.57 1214.88C561.04 1218.60 568.52 1222.33 576.00 1224.85C580.99 1226.54 585.97 1227.59 590.96 1228.84C595.94 1230.09 600.93 1231.50 605.91 1232.33C610.90 1233.16 615.88 1233.66 620.87 1233.83C625.86 1233.99 630.84 1233.83 635.83 1233.33C640.81 1232.83 645.80 1231.91 650.78 1230.83C655.77 1229.75 660.75 1228.43 665.74 1226.85C670.72 1225.27 675.71 1223.36 680.70 1221.36C685.68 1219.37 690.67 1217.12 695.65 1214.88C700.64 1212.64 705.62 1210.06 710.61 1207.90C715.59 1205.74 720.58 1203.75 725.57 1201.92C730.55 1200.09 735.54 1198.37 740.52 1196.93C743.01 1196.21 745.51 1195.49 748.00 1194.94C754.68 1193.46 761.36 1193.61 768.04 1192.94M63.26 1100.50C68.86 1101.00 74.46 1101.51 80.05 1102.01C86.74 1102.60 93.42 1103.22 100.11 1103.76C106.79 1104.30 113.48 1104.79 120.16 1105.26C125.18 1105.62 130.19 1105.89 135.20 1106.27C138.80 1106.54 142.40 1107.26 145.99 1107.14C149.34 1107.04 152.68 1106.33 156.03 1105.77C159.37 1105.20 162.71 1104.43 166.05 1103.76C169.40 1103.09 172.74 1102.57 176.08 1101.75C182.66 1100.16 189.23 1097.33 195.81 1095.30C199.13 1094.27 202.45 1093.07 205.78 1092.31C208.27 1091.74 210.76 1091.43 213.25 1091.01C215.75 1090.60 218.24 1090.25 220.73 1089.82C224.49 1089.17 228.24 1088.28 232.00 1087.67C236.99 1086.87 241.97 1086.22 246.96 1085.83C251.94 1085.44 256.93 1085.33 261.91 1085.33C266.90 1085.33 271.88 1085.33 276.87 1085.83C281.86 1086.33 286.84 1087.32 291.83 1088.32C296.81 1089.32 301.80 1090.73 306.78 1091.81C311.77 1092.89 316.75 1094.06 321.74 1094.80C326.72 1095.55 331.71 1096.13 336.70 1096.30C341.68 1096.46 346.67 1096.30 351.65 1095.80C356.64 1095.30 361.62 1094.47 366.61 1093.31C371.59 1092.14 376.58 1090.32 381.57 1088.82C386.55 1087.32 391.54 1085.50 396.52 1084.33C399.01 1083.75 401.51 1083.13 404.00 1082.84C410.65 1082.05 417.29 1084.17 423.94 1084.83C430.59 1085.50 437.24 1086.41 443.88 1086.83C450.53 1087.24 457.18 1087.32 463.83 1087.32C470.47 1087.32 477.12 1086.58 483.77 1086.83C490.42 1087.08 497.06 1087.82 503.71 1088.82C510.36 1089.82 517.00 1091.15 523.65 1092.81C530.30 1094.47 536.95 1096.13 543.59 1098.79C550.24 1101.45 556.89 1105.52 563.54 1108.76C567.69 1110.79 571.85 1112.80 576.00 1114.74C582.65 1117.86 589.29 1120.73 595.94 1123.72C602.59 1126.71 609.24 1130.03 615.88 1132.69C622.53 1135.35 629.18 1137.68 635.83 1139.67C642.47 1141.67 649.12 1143.16 655.77 1144.66C662.42 1146.15 669.06 1147.32 675.71 1148.65C682.36 1149.98 689.00 1151.47 695.65 1152.63C702.30 1153.80 708.95 1154.63 715.59 1155.63C722.24 1156.62 728.89 1157.58 735.54 1158.62C739.69 1159.27 743.85 1159.96 748.00 1160.61C751.26 1161.12 754.51 1161.61 757.77 1162.11C761.10 1162.61 764.42 1163.10 767.74 1163.60M63.19 1030.69C67.11 1030.96 71.03 1031.30 74.96 1031.49C79.94 1031.72 84.93 1031.87 89.91 1031.79C94.90 1031.70 99.88 1031.69 104.87 1030.99C108.19 1030.52 111.52 1029.53 114.84 1028.99C118.16 1028.46 121.49 1028.29 124.81 1027.80C126.47 1027.55 128.14 1027.27 129.80 1026.99C133.12 1026.41 136.44 1025.48 139.77 1025.08C142.43 1024.76 145.09 1024.58 147.74 1024.58C150.40 1024.58 153.06 1024.54 155.72 1025.08C159.11 1025.77 162.50 1027.58 165.89 1028.99C169.22 1030.38 172.54 1032.06 175.86 1033.48C178.02 1034.41 180.18 1035.19 182.34 1036.17C185.17 1037.46 187.99 1039.17 190.82 1040.46C194.14 1041.98 197.47 1043.04 200.79 1044.45C204.11 1045.86 207.44 1047.52 210.76 1048.94C214.09 1050.35 217.41 1051.67 220.73 1052.92C224.49 1054.35 228.24 1056.10 232.00 1056.91C236.99 1057.99 241.97 1057.58 246.96 1057.41C251.94 1057.25 256.93 1056.75 261.91 1055.92C266.90 1055.09 271.88 1053.67 276.87 1052.43C281.86 1051.18 286.84 1049.85 291.83 1048.44C296.81 1047.03 301.80 1045.28 306.78 1043.95C311.77 1042.62 316.75 1041.71 321.74 1040.46C326.72 1039.21 331.71 1037.80 336.70 1036.47C341.68 1035.14 346.67 1033.65 351.65 1032.48C356.64 1031.32 361.62 1030.47 366.61 1029.49C370.93 1028.64 375.25 1027.84 379.57 1026.99C383.56 1026.20 387.55 1025.07 391.54 1024.58C395.69 1024.07 399.85 1024.23 404.00 1024.08C408.99 1023.90 413.97 1023.58 418.96 1023.58C423.94 1023.58 428.93 1023.78 433.91 1024.08C438.90 1024.38 443.88 1024.95 448.87 1025.38C453.52 1025.78 458.18 1026.23 462.83 1026.57C464.82 1026.72 466.82 1026.74 468.81 1026.99C473.80 1027.61 478.78 1029.57 483.77 1030.99C488.75 1032.40 493.74 1033.81 498.72 1035.48C503.71 1037.14 508.70 1039.38 513.68 1040.96C520.33 1043.06 526.98 1044.53 533.62 1045.94C540.27 1047.36 546.92 1048.61 553.57 1049.43C561.04 1050.36 568.52 1051.05 576.00 1050.93C582.65 1050.82 589.29 1049.93 595.94 1049.14C602.59 1048.34 609.24 1047.17 615.88 1046.14C622.53 1045.11 629.18 1044.17 635.83 1042.95C640.81 1042.04 645.80 1041.04 650.78 1039.96C655.77 1038.88 660.75 1037.89 665.74 1036.47C670.72 1035.06 675.71 1033.50 680.70 1031.49C684.02 1030.14 687.34 1028.56 690.67 1026.99C692.99 1025.89 695.32 1024.80 697.65 1023.58C700.31 1022.19 702.96 1020.52 705.62 1019.10C708.95 1017.32 712.27 1015.69 715.59 1014.11C718.92 1012.53 722.24 1011.04 725.57 1009.62C728.89 1008.21 732.21 1006.75 735.54 1005.63C739.69 1004.24 743.85 1003.25 748.00 1002.44C751.86 1001.69 755.71 1001.26 759.57 1000.85C762.39 1000.55 765.22 1000.38 768.04 1000.15"/>
<text class="tk" x="58.50" y="665.40" text-anchor="middle">0</text>
<text class="tk" x="235.62" y="665.40" text-anchor="middle"><tspan class="it" font-size="42">π</tspan>/2</text>
<text class="tk" x="412.75" y="665.40" text-anchor="middle"><tspan class="it" font-size="42">π</tspan></text>
<text class="tk" x="589.88" y="665.40" text-anchor="middle">3<tspan class="it" font-size="42">π</tspan>/2</text>
<text class="tk" x="767.00" y="665.40" text-anchor="middle">2<tspan class="it" font-size="42">π</tspan></text>
<text class="tk" x="43.00" y="619.45" text-anchor="end">0</text>
<text class="tk" x="43.00" y="486.48" text-anchor="end">2</text>
<text class="tk" x="43.00" y="353.50" text-anchor="end">4</text>
<text class="tk" x="43.00" y="220.52" text-anchor="end">6</text>
<text class="tk" x="43.00" y="87.55" text-anchor="end">8</text>
<text class="it" font-size="44" fill="#262626" x="413.75" y="723.80" text-anchor="middle">δ</text>
<text class="tk" x="990.40" y="665.40" text-anchor="middle">0</text>
<text class="tk" x="1168.42" y="665.40" text-anchor="middle"><tspan class="it" font-size="42">π</tspan>/2</text>
<text class="tk" x="1346.45" y="665.40" text-anchor="middle"><tspan class="it" font-size="42">π</tspan></text>
<text class="tk" x="1524.47" y="665.40" text-anchor="middle">3<tspan class="it" font-size="42">π</tspan>/2</text>
<text class="tk" x="1702.50" y="665.40" text-anchor="middle">2<tspan class="it" font-size="42">π</tspan></text>
<text class="tk" x="974.90" y="626.10" text-anchor="end">0</text>
<text class="tk" x="974.90" y="489.80" text-anchor="end">5</text>
<text class="tk" x="974.90" y="353.50" text-anchor="end">10</text>
<text class="tk" x="974.90" y="217.20" text-anchor="end">15</text>
<text class="tk" x="974.90" y="80.90" text-anchor="end">20</text>
<text class="it" font-size="44" fill="#262626" x="1347.45" y="723.80" text-anchor="middle">δ</text>
<text class="tk" x="58.50" y="1418.80" text-anchor="middle">0</text>
<text class="tk" x="235.62" y="1418.80" text-anchor="middle"><tspan class="it" font-size="42">π</tspan>/2</text>
<text class="tk" x="412.75" y="1418.80" text-anchor="middle"><tspan class="it" font-size="42">π</tspan></text>
<text class="tk" x="589.88" y="1418.80" text-anchor="middle">3<tspan class="it" font-size="42">π</tspan>/2</text>
<text class="tk" x="767.00" y="1418.80" text-anchor="middle">2<tspan class="it" font-size="42">π</tspan></text>
<text class="tk" x="43.00" y="1379.50" text-anchor="end">5</text>
<text class="tk" x="43.00" y="1244.17" text-anchor="end">10</text>
<text class="tk" x="43.00" y="1108.85" text-anchor="end">15</text>
<text class="tk" x="43.00" y="973.52" text-anchor="end">20</text>
<text class="tk" x="43.00" y="838.20" text-anchor="end">25</text>
<text class="it" font-size="44" fill="#262626" x="413.75" y="1477.20" text-anchor="middle">δ</text>
<text class="tk" x="990.40" y="1418.80" text-anchor="middle">0</text>
<text class="tk" x="1168.42" y="1418.80" text-anchor="middle"><tspan class="it" font-size="42">π</tspan>/2</text>
<text class="tk" x="1346.45" y="1418.80" text-anchor="middle"><tspan class="it" font-size="42">π</tspan></text>
<text class="tk" x="1524.47" y="1418.80" text-anchor="middle">3<tspan class="it" font-size="42">π</tspan>/2</text>
<text class="tk" x="1702.50" y="1418.80" text-anchor="middle">2<tspan class="it" font-size="42">π</tspan></text>
<text class="tk" x="971.15" y="1379.50" text-anchor="end" letter-spacing="-1.45">-1000</text>
<text class="tk" x="974.90" y="1244.17" text-anchor="end">0</text>
<text class="tk" x="971.15" y="1108.85" text-anchor="end" letter-spacing="-1.45">1000</text>
<text class="tk" x="971.15" y="973.52" text-anchor="end" letter-spacing="-1.45">2000</text>
<text class="tk" x="971.15" y="838.20" text-anchor="end" letter-spacing="-1.45">3000</text>
<text class="it" font-size="44" fill="#262626" x="1347.45" y="1477.20" text-anchor="middle">δ</text>
<text class="tt" font-size="46" x="254.00" y="41.50" textLength="175.4" lengthAdjust="spacing">Spectrum</text><text class="tt" font-size="46" x="442.80" y="41.50">of</text><text class="tt it" font-size="44.5" x="491.80" y="41.50">L</text><text class="tt" font-size="31" x="518.20" y="51.70">1</text><text class="tt it" font-size="31" x="518.70" y="20.90">c,up</text>
<text class="tt" font-size="46" x="1169.80" y="41.50" textLength="175.4" lengthAdjust="spacing">Spectrum</text><text class="tt" font-size="46" x="1358.60" y="41.50">of</text><text class="tt it" font-size="44.5" x="1407.60" y="41.50">L</text><text class="tt" font-size="31" x="1434.00" y="51.70">1</text><text class="tt it" font-size="31" x="1434.50" y="20.90">c,down</text>
<text class="tt" font-size="46" x="272.50" y="798.80" textLength="175.4" lengthAdjust="spacing">Spectrum</text><text class="tt" font-size="46" x="461.30" y="798.80">of</text><text class="tt it" font-size="44.5" x="510.30" y="798.80">L</text><text class="tt" font-size="31" x="536.70" y="809.00">1</text><text class="tt it" font-size="31" x="537.20" y="778.20">c</text>
<text class="tt" font-size="46" x="1347.4" y="798.80" text-anchor="middle" textLength="230.4" lengthAdjust="spacing">Commutator</text>
</svg></body></html>
